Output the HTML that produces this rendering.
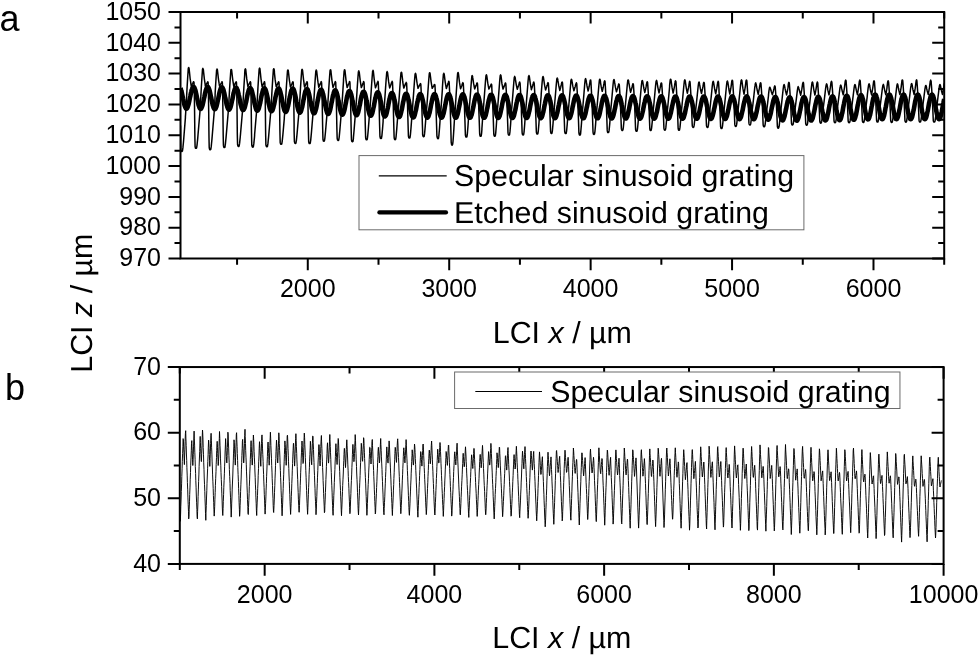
<!DOCTYPE html><html><head><meta charset="utf-8"><style>
html,body{margin:0;padding:0;background:#fff;width:979px;height:656px;overflow:hidden}
svg{display:block} text{font-family:'Liberation Sans', Arial, Helvetica, sans-serif;fill:#000} .tk{font-size:25px} .ti{font-size:30.4px;text-rendering:geometricPrecision} .lg{font-size:30.3px;text-rendering:geometricPrecision} .pl{font-size:36px}
</style></head><body>
<svg width="979" height="656" viewBox="0 0 979 656">
<rect width="979" height="656" fill="#fff"/>
<defs><clipPath id="ca"><rect x="180.5" y="12.0" width="763.7" height="246.5"/></clipPath>
<clipPath id="cb"><rect x="179.8" y="367.05" width="763.8" height="196.84999999999997"/></clipPath></defs>
<g clip-path="url(#ca)" fill="none" stroke="#000" stroke-linejoin="round">
<path d="M180.5,125.4 L180.6,135.1 L180.7,141.2 L180.8,145.9 L180.9,149.6 L181.0,150.0 L181.1,150.3 L181.2,150.7 L181.3,151.1 L181.4,151.2 L181.5,151.3 L181.6,151.3 L181.7,151.4 L181.8,151.4 L181.9,151.4 L182.0,151.3 L182.1,151.2 L182.2,151.2 L182.3,151.1 L182.4,151.0 L182.5,150.6 L182.6,149.9 L182.7,149.2 L182.8,148.5 L182.9,147.9 L183.0,146.8 L183.1,145.8 L183.2,144.7 L183.3,143.7 L183.4,142.7 L183.5,141.6 L183.6,140.5 L183.7,139.2 L183.8,138.0 L183.9,136.7 L184.0,135.4 L184.1,134.2 L184.2,132.9 L184.3,131.7 L184.4,130.4 L184.5,129.2 L184.6,127.9 L184.7,126.7 L184.8,125.4 L184.9,124.2 L185.0,122.9 L185.1,121.6 L185.2,120.4 L185.3,119.1 L185.4,117.9 L185.4,116.7 L185.5,115.4 L185.6,114.2 L185.7,112.8 L185.8,111.0 L185.9,109.3 L186.0,107.5 L186.1,105.8 L186.2,104.0 L186.3,102.2 L186.4,100.5 L186.5,98.7 L186.6,96.8 L186.7,94.9 L186.8,92.9 L186.9,91.0 L187.0,89.1 L187.1,87.2 L187.2,85.6 L187.3,83.9 L187.4,82.3 L187.5,80.6 L187.6,79.0 L187.7,77.4 L187.8,75.8 L187.9,74.3 L188.0,72.7 L188.1,71.2 L188.2,69.6 L188.3,68.3 L188.4,68.1 L188.5,67.9 L188.6,67.7 L188.7,67.5 L188.8,67.7 L188.9,68.0 L189.0,68.2 L189.1,68.5 L189.2,69.5 L189.3,70.5 L189.4,71.5 L189.5,72.4 L189.6,73.4 L189.7,74.4 L189.8,75.3 L189.9,76.3 L190.0,77.3 L190.1,78.3 L190.2,79.0 L190.3,79.6 L190.4,80.3 L190.5,81.0 L190.6,81.7 L190.7,82.4 L190.8,83.1 L190.9,83.8 L191.0,84.5 L191.1,85.2 L191.2,85.9 L191.3,85.8 L191.4,85.6 L191.5,85.5 L191.6,85.3 L191.7,85.1 L191.8,84.9 L191.9,84.7 L192.0,84.6 L192.1,84.4 L192.2,84.2 L192.3,84.0 L192.4,83.8 L192.5,83.7 L192.6,83.5 L192.7,83.4 L192.8,83.2 L192.9,83.1 L193.0,82.9 L193.1,82.8 L193.2,82.6 L193.3,82.4 L193.4,82.2 L193.5,81.9 L193.6,81.7 L193.7,81.8 L193.8,82.0 L193.9,82.2 L194.0,82.5 L194.1,85.2 L194.2,89.3 L194.3,93.4 L194.4,99.1 L194.5,105.7 L194.6,112.5 L194.7,121.8 L194.8,131.1 L194.9,137.7 L195.0,142.2 L195.1,146.6 L195.2,146.9 L195.3,147.2 L195.3,147.6 L195.4,147.9 L195.5,148.1 L195.6,148.2 L195.7,148.2 L195.8,148.3 L195.9,148.3 L196.0,148.3 L196.1,148.3 L196.2,148.2 L196.3,148.2 L196.4,148.1 L196.5,148.1 L196.6,147.8 L196.7,147.2 L196.8,146.6 L196.9,146.0 L197.0,145.3 L197.1,144.4 L197.2,143.5 L197.3,142.5 L197.4,141.5 L197.5,140.6 L197.6,139.6 L197.7,138.6 L197.8,137.4 L197.9,136.2 L198.0,135.0 L198.1,133.8 L198.2,132.6 L198.3,131.4 L198.4,130.3 L198.5,129.1 L198.6,127.9 L198.7,126.7 L198.8,125.5 L198.9,124.3 L199.0,123.1 L199.1,122.0 L199.2,120.8 L199.3,119.6 L199.4,118.4 L199.5,117.2 L199.6,116.0 L199.7,114.8 L199.8,113.7 L199.9,112.4 L200.0,110.8 L200.1,109.1 L200.2,107.4 L200.3,105.7 L200.4,104.0 L200.5,102.3 L200.6,100.6 L200.7,98.9 L200.8,97.1 L200.9,95.2 L201.0,93.4 L201.1,91.5 L201.2,89.7 L201.3,87.8 L201.4,86.2 L201.5,84.6 L201.6,83.0 L201.7,81.4 L201.8,79.9 L201.9,78.3 L202.0,76.7 L202.1,75.2 L202.2,73.7 L202.3,72.2 L202.4,70.7 L202.5,69.3 L202.6,69.0 L202.7,68.8 L202.8,68.6 L202.9,68.4 L203.0,68.6 L203.1,68.8 L203.2,69.1 L203.3,69.3 L203.4,70.2 L203.5,71.1 L203.6,72.1 L203.7,73.0 L203.8,73.9 L203.9,74.8 L204.0,75.8 L204.1,76.7 L204.2,77.6 L204.3,78.5 L204.4,79.3 L204.5,79.9 L204.6,80.6 L204.7,81.3 L204.8,81.9 L204.9,82.6 L205.0,83.3 L205.1,83.9 L205.2,84.6 L205.2,85.3 L205.3,85.9 L205.4,86.0 L205.5,85.8 L205.6,85.6 L205.7,85.4 L205.8,85.3 L205.9,85.1 L206.0,84.9 L206.1,84.7 L206.2,84.5 L206.3,84.3 L206.4,84.1 L206.5,84.0 L206.6,83.8 L206.7,83.6 L206.8,83.5 L206.9,83.3 L207.0,83.1 L207.1,83.0 L207.2,82.8 L207.3,82.6 L207.4,82.4 L207.5,82.2 L207.6,82.0 L207.7,81.8 L207.8,81.7 L207.9,82.0 L208.0,82.2 L208.1,82.4 L208.2,84.4 L208.3,88.6 L208.4,92.8 L208.5,98.1 L208.6,104.8 L208.7,111.6 L208.8,120.7 L208.9,130.2 L209.0,137.8 L209.1,142.4 L209.2,147.0 L209.3,148.1 L209.4,148.4 L209.5,148.8 L209.6,149.2 L209.7,149.5 L209.8,149.6 L209.9,149.7 L210.0,149.7 L210.1,149.8 L210.2,149.8 L210.3,149.8 L210.4,149.7 L210.5,149.6 L210.6,149.5 L210.7,149.5 L210.8,149.3 L210.9,148.6 L211.0,148.0 L211.1,147.3 L211.2,146.7 L211.3,145.8 L211.4,144.8 L211.5,143.8 L211.6,142.8 L211.7,141.8 L211.8,140.8 L211.9,139.8 L212.0,138.6 L212.1,137.4 L212.2,136.2 L212.3,134.9 L212.4,133.7 L212.5,132.5 L212.6,131.3 L212.7,130.1 L212.8,128.9 L212.9,127.7 L213.0,126.5 L213.1,125.3 L213.2,124.1 L213.3,122.9 L213.4,121.7 L213.5,120.5 L213.6,119.3 L213.7,118.0 L213.8,116.8 L213.9,115.6 L214.0,114.4 L214.1,113.2 L214.2,111.6 L214.3,109.9 L214.4,108.2 L214.5,106.5 L214.6,104.8 L214.7,103.1 L214.8,101.5 L214.9,99.8 L215.0,97.9 L215.1,96.1 L215.1,94.2 L215.2,92.4 L215.3,90.5 L215.4,88.7 L215.5,87.0 L215.6,85.4 L215.7,83.8 L215.8,82.3 L215.9,80.7 L216.0,79.1 L216.1,77.6 L216.2,76.1 L216.3,74.6 L216.4,73.1 L216.5,71.6 L216.6,70.1 L216.7,69.7 L216.8,69.5 L216.9,69.3 L217.0,69.0 L217.1,69.2 L217.2,69.4 L217.3,69.6 L217.4,69.9 L217.5,70.6 L217.6,71.5 L217.7,72.4 L217.8,73.3 L217.9,74.2 L218.0,75.1 L218.1,76.0 L218.2,76.9 L218.3,77.8 L218.4,78.7 L218.5,79.5 L218.6,80.1 L218.7,80.8 L218.8,81.4 L218.9,82.1 L219.0,82.7 L219.1,83.4 L219.2,84.0 L219.3,84.7 L219.4,85.3 L219.5,86.0 L219.6,86.2 L219.7,86.0 L219.8,85.8 L219.9,85.6 L220.0,85.4 L220.1,85.2 L220.2,85.0 L220.3,84.8 L220.4,84.6 L220.5,84.5 L220.6,84.3 L220.7,84.1 L220.8,83.9 L220.9,83.7 L221.0,83.5 L221.1,83.4 L221.2,83.2 L221.3,83.0 L221.4,82.8 L221.5,82.7 L221.6,82.5 L221.7,82.3 L221.8,82.0 L221.9,81.8 L222.0,81.7 L222.1,81.9 L222.2,82.2 L222.3,82.4 L222.4,83.6 L222.5,87.7 L222.6,91.8 L222.7,96.4 L222.8,103.0 L222.9,109.5 L223.0,117.9 L223.1,127.0 L223.2,135.3 L223.3,139.8 L223.4,144.2 L223.5,145.9 L223.6,146.3 L223.7,146.6 L223.8,146.9 L223.9,147.3 L224.0,147.3 L224.1,147.4 L224.2,147.4 L224.3,147.5 L224.4,147.5 L224.5,147.5 L224.6,147.4 L224.7,147.3 L224.8,147.2 L224.9,147.2 L225.0,147.1 L225.0,146.4 L225.1,145.8 L225.2,145.2 L225.3,144.6 L225.4,143.8 L225.5,142.9 L225.6,141.9 L225.7,141.0 L225.8,140.0 L225.9,139.0 L226.0,138.1 L226.1,136.9 L226.2,135.8 L226.3,134.6 L226.4,133.4 L226.5,132.3 L226.6,131.1 L226.7,129.9 L226.8,128.8 L226.9,127.6 L227.0,126.4 L227.1,125.3 L227.2,124.1 L227.3,123.0 L227.4,121.8 L227.5,120.6 L227.6,119.5 L227.7,118.3 L227.8,117.1 L227.9,116.0 L228.0,114.8 L228.1,113.7 L228.2,112.5 L228.3,111.0 L228.4,109.4 L228.5,107.7 L228.6,106.1 L228.7,104.5 L228.8,102.8 L228.9,101.2 L229.0,99.5 L229.1,97.8 L229.2,96.0 L229.3,94.2 L229.4,92.4 L229.5,90.6 L229.6,88.8 L229.7,87.1 L229.8,85.6 L229.9,84.1 L230.0,82.5 L230.1,81.0 L230.2,79.4 L230.3,77.9 L230.4,76.5 L230.5,75.1 L230.6,73.6 L230.7,72.2 L230.8,70.7 L230.9,70.1 L231.0,69.9 L231.1,69.6 L231.2,69.4 L231.3,69.4 L231.4,69.7 L231.5,69.9 L231.6,70.1 L231.7,70.7 L231.8,71.6 L231.9,72.5 L232.0,73.4 L232.1,74.3 L232.2,75.2 L232.3,76.1 L232.4,76.9 L232.5,77.8 L232.6,78.7 L232.7,79.5 L232.8,80.2 L232.9,80.8 L233.0,81.5 L233.1,82.1 L233.2,82.7 L233.3,83.4 L233.4,84.0 L233.5,84.7 L233.6,85.4 L233.7,86.0 L233.8,86.3 L233.9,86.2 L234.0,86.0 L234.1,85.8 L234.2,85.6 L234.3,85.4 L234.4,85.2 L234.5,85.0 L234.6,84.8 L234.7,84.6 L234.8,84.4 L234.8,84.2 L234.9,84.0 L235.0,83.8 L235.1,83.6 L235.2,83.4 L235.3,83.3 L235.4,83.1 L235.5,82.9 L235.6,82.7 L235.7,82.5 L235.8,82.3 L235.9,82.1 L236.0,81.8 L236.1,81.7 L236.2,81.9 L236.3,82.1 L236.4,82.4 L236.5,82.9 L236.6,86.9 L236.7,90.8 L236.8,94.9 L236.9,101.4 L237.0,107.8 L237.1,115.6 L237.2,124.6 L237.3,133.6 L237.4,137.9 L237.5,142.3 L237.6,144.7 L237.7,145.1 L237.8,145.4 L237.9,145.8 L238.0,146.1 L238.1,146.2 L238.2,146.3 L238.3,146.3 L238.4,146.4 L238.5,146.5 L238.6,146.5 L238.7,146.4 L238.8,146.4 L238.9,146.3 L239.0,146.2 L239.1,146.2 L239.2,145.7 L239.3,145.1 L239.4,144.5 L239.5,143.9 L239.6,143.2 L239.7,142.3 L239.8,141.3 L239.9,140.4 L240.0,139.4 L240.1,138.5 L240.2,137.5 L240.3,136.5 L240.4,135.3 L240.5,134.2 L240.6,133.0 L240.7,131.8 L240.8,130.7 L240.9,129.5 L241.0,128.4 L241.1,127.2 L241.2,126.1 L241.3,124.9 L241.4,123.8 L241.5,122.6 L241.6,121.5 L241.7,120.3 L241.8,119.2 L241.9,118.0 L242.0,116.9 L242.1,115.7 L242.2,114.6 L242.3,113.4 L242.4,112.2 L242.5,110.9 L242.6,109.2 L242.7,107.6 L242.8,105.9 L242.9,104.3 L243.0,102.7 L243.1,101.0 L243.2,99.4 L243.3,97.7 L243.4,95.9 L243.5,94.1 L243.6,92.3 L243.7,90.5 L243.8,88.7 L243.9,86.9 L244.0,85.4 L244.1,83.9 L244.2,82.3 L244.3,80.8 L244.4,79.2 L244.5,77.7 L244.6,76.2 L244.7,74.8 L244.7,73.3 L244.8,71.9 L244.9,70.4 L245.0,69.5 L245.1,69.3 L245.2,69.1 L245.3,68.8 L245.4,68.8 L245.5,69.0 L245.6,69.2 L245.7,69.5 L245.8,70.0 L245.9,70.9 L246.0,71.8 L246.1,72.8 L246.2,73.7 L246.3,74.6 L246.4,75.6 L246.5,76.5 L246.6,77.4 L246.7,78.4 L246.8,79.2 L246.9,79.9 L247.0,80.6 L247.1,81.3 L247.2,81.9 L247.3,82.6 L247.4,83.3 L247.5,84.0 L247.6,84.6 L247.7,85.3 L247.8,86.0 L247.9,86.5 L248.0,86.3 L248.1,86.1 L248.2,85.9 L248.3,85.7 L248.4,85.5 L248.5,85.3 L248.6,85.1 L248.7,84.9 L248.8,84.7 L248.9,84.5 L249.0,84.3 L249.1,84.1 L249.2,83.9 L249.3,83.7 L249.4,83.5 L249.5,83.3 L249.6,83.1 L249.7,82.9 L249.8,82.8 L249.9,82.6 L250.0,82.3 L250.1,82.1 L250.2,81.9 L250.3,81.7 L250.4,81.9 L250.5,82.1 L250.6,82.3 L250.7,82.5 L250.8,86.2 L250.9,90.2 L251.0,94.2 L251.1,100.3 L251.2,106.8 L251.3,114.2 L251.4,123.2 L251.5,132.3 L251.6,137.6 L251.7,142.0 L251.8,145.2 L251.9,145.6 L252.0,145.9 L252.1,146.3 L252.2,146.6 L252.3,146.8 L252.4,146.8 L252.5,146.9 L252.6,147.0 L252.7,147.0 L252.8,147.1 L252.9,147.0 L253.0,147.0 L253.1,146.9 L253.2,146.8 L253.3,146.8 L253.4,146.3 L253.5,145.7 L253.6,145.1 L253.7,144.5 L253.8,143.9 L253.9,142.9 L254.0,141.9 L254.1,141.0 L254.2,140.0 L254.3,139.1 L254.4,138.1 L254.5,137.0 L254.6,135.8 L254.6,134.7 L254.7,133.5 L254.8,132.3 L254.9,131.2 L255.0,130.0 L255.1,128.8 L255.2,127.6 L255.3,126.5 L255.4,125.3 L255.5,124.1 L255.6,122.9 L255.7,121.8 L255.8,120.6 L255.9,119.4 L256.0,118.3 L256.1,117.1 L256.2,115.9 L256.3,114.7 L256.4,113.6 L256.5,112.4 L256.6,111.1 L256.7,109.4 L256.8,107.7 L256.9,106.1 L257.0,104.4 L257.1,102.8 L257.2,101.1 L257.3,99.4 L257.4,97.7 L257.5,95.9 L257.6,94.1 L257.7,92.3 L257.8,90.4 L257.9,88.6 L258.0,86.8 L258.1,85.3 L258.2,83.7 L258.3,82.1 L258.4,80.6 L258.5,79.0 L258.6,77.4 L258.7,76.0 L258.8,74.5 L258.9,73.0 L259.0,71.6 L259.1,70.1 L259.2,69.0 L259.3,68.7 L259.4,68.5 L259.5,68.3 L259.6,68.1 L259.7,68.4 L259.8,68.6 L259.9,68.8 L260.0,69.2 L260.1,70.2 L260.2,71.2 L260.3,72.2 L260.4,73.1 L260.5,74.1 L260.6,75.1 L260.7,76.1 L260.8,77.1 L260.9,78.0 L261.0,79.0 L261.1,79.7 L261.2,80.4 L261.3,81.1 L261.4,81.8 L261.5,82.5 L261.6,83.2 L261.7,83.9 L261.8,84.6 L261.9,85.3 L262.0,86.0 L262.1,86.7 L262.2,86.5 L262.3,86.3 L262.4,86.1 L262.5,85.9 L262.6,85.7 L262.7,85.5 L262.8,85.3 L262.9,85.0 L263.0,84.8 L263.1,84.6 L263.2,84.4 L263.3,84.2 L263.4,84.0 L263.5,83.8 L263.6,83.6 L263.7,83.4 L263.8,83.2 L263.9,83.0 L264.0,82.8 L264.1,82.6 L264.2,82.4 L264.3,82.2 L264.4,81.9 L264.5,81.7 L264.5,81.8 L264.6,82.0 L264.7,82.3 L264.8,82.5 L264.9,85.4 L265.0,89.4 L265.1,93.4 L265.2,99.1 L265.3,105.5 L265.4,112.4 L265.5,121.4 L265.6,130.3 L265.7,136.5 L265.8,140.8 L265.9,144.9 L266.0,145.2 L266.1,145.6 L266.2,145.9 L266.3,146.3 L266.4,146.5 L266.5,146.5 L266.6,146.6 L266.7,146.7 L266.8,146.7 L266.9,146.8 L267.0,146.7 L267.1,146.7 L267.2,146.6 L267.3,146.5 L267.4,146.4 L267.5,146.1 L267.6,145.5 L267.7,144.9 L267.8,144.3 L267.9,143.7 L268.0,142.8 L268.1,141.8 L268.2,140.8 L268.3,139.8 L268.4,138.9 L268.5,137.9 L268.6,136.9 L268.7,135.7 L268.8,134.5 L268.9,133.4 L269.0,132.2 L269.1,131.0 L269.2,129.8 L269.3,128.7 L269.4,127.5 L269.5,126.3 L269.6,125.1 L269.7,124.0 L269.8,122.8 L269.9,121.6 L270.0,120.4 L270.1,119.3 L270.2,118.1 L270.3,116.9 L270.4,115.8 L270.5,114.6 L270.6,113.4 L270.7,112.2 L270.8,111.1 L270.9,109.4 L271.0,107.8 L271.1,106.1 L271.2,104.5 L271.3,102.9 L271.4,101.2 L271.5,99.6 L271.6,98.0 L271.7,96.2 L271.8,94.4 L271.9,92.6 L272.0,90.8 L272.1,89.0 L272.2,87.3 L272.3,85.7 L272.4,84.2 L272.5,82.6 L272.6,81.1 L272.7,79.6 L272.8,78.0 L272.9,76.6 L273.0,75.2 L273.1,73.7 L273.2,72.3 L273.3,70.9 L273.4,69.6 L273.5,69.4 L273.6,69.1 L273.7,68.9 L273.8,68.7 L273.9,69.0 L274.0,69.2 L274.1,69.4 L274.2,69.7 L274.3,70.6 L274.4,71.6 L274.4,72.5 L274.5,73.5 L274.6,74.5 L274.7,75.4 L274.8,76.4 L274.9,77.3 L275.0,78.3 L275.1,79.2 L275.2,79.9 L275.3,80.6 L275.4,81.3 L275.5,82.0 L275.6,82.6 L275.7,83.3 L275.8,84.0 L275.9,84.7 L276.0,85.4 L276.1,86.1 L276.2,86.7 L276.3,86.7 L276.4,86.5 L276.5,86.3 L276.6,86.0 L276.7,85.8 L276.8,85.6 L276.9,85.4 L277.0,85.2 L277.1,85.0 L277.2,84.8 L277.3,84.5 L277.4,84.3 L277.5,84.1 L277.6,83.9 L277.7,83.7 L277.8,83.5 L277.9,83.3 L278.0,83.1 L278.1,82.9 L278.2,82.6 L278.3,82.4 L278.4,82.2 L278.5,82.0 L278.6,81.7 L278.7,81.8 L278.8,82.0 L278.9,82.2 L279.0,82.5 L279.1,84.5 L279.2,88.2 L279.3,91.8 L279.4,96.2 L279.5,101.9 L279.6,107.5 L279.7,114.5 L279.8,122.3 L279.9,130.2 L280.0,134.9 L280.1,139.1 L280.2,142.6 L280.3,143.0 L280.4,143.3 L280.5,143.6 L280.6,143.9 L280.7,144.1 L280.8,144.1 L280.9,144.2 L281.0,144.2 L281.1,144.3 L281.2,144.3 L281.3,144.3 L281.4,144.2 L281.5,144.1 L281.6,144.0 L281.7,144.0 L281.8,143.7 L281.9,143.1 L282.0,142.5 L282.1,141.9 L282.2,141.3 L282.3,140.3 L282.4,139.4 L282.5,138.4 L282.6,137.5 L282.7,136.5 L282.8,135.6 L282.9,134.5 L283.0,133.4 L283.1,132.3 L283.2,131.1 L283.3,130.0 L283.4,128.8 L283.5,127.7 L283.6,126.5 L283.7,125.4 L283.8,124.2 L283.9,123.1 L284.0,122.0 L284.1,120.8 L284.2,119.7 L284.3,118.5 L284.3,117.4 L284.4,116.3 L284.5,115.1 L284.6,114.0 L284.7,112.9 L284.8,111.7 L284.9,110.6 L285.0,109.2 L285.1,107.6 L285.2,106.0 L285.3,104.5 L285.4,102.9 L285.5,101.3 L285.6,99.8 L285.7,98.2 L285.8,96.6 L285.9,94.9 L286.0,93.2 L286.1,91.5 L286.2,89.8 L286.3,88.1 L286.4,86.5 L286.5,85.0 L286.6,83.6 L286.7,82.1 L286.8,80.6 L286.9,79.1 L287.0,77.7 L287.1,76.4 L287.2,75.0 L287.3,73.6 L287.4,72.3 L287.5,70.9 L287.6,70.6 L287.7,70.4 L287.8,70.2 L287.9,69.9 L288.0,70.1 L288.1,70.4 L288.2,70.6 L288.3,70.8 L288.4,71.6 L288.5,72.5 L288.6,73.3 L288.7,74.2 L288.8,75.1 L288.9,76.0 L289.0,76.9 L289.1,77.8 L289.2,78.7 L289.3,79.6 L289.4,80.3 L289.5,80.9 L289.6,81.6 L289.7,82.2 L289.8,82.9 L289.9,83.5 L290.0,84.2 L290.1,84.8 L290.2,85.5 L290.3,86.1 L290.4,86.8 L290.5,86.9 L290.6,86.6 L290.7,86.4 L290.8,86.2 L290.9,86.0 L291.0,85.8 L291.1,85.5 L291.2,85.3 L291.3,85.1 L291.4,84.9 L291.5,84.7 L291.6,84.4 L291.7,84.2 L291.8,84.0 L291.9,83.8 L292.0,83.6 L292.1,83.3 L292.2,83.1 L292.3,82.9 L292.4,82.7 L292.5,82.5 L292.6,82.2 L292.7,82.0 L292.8,81.8 L292.9,81.7 L293.0,82.0 L293.1,82.2 L293.2,82.4 L293.3,83.7 L293.4,87.2 L293.5,90.6 L293.6,94.1 L293.7,99.1 L293.8,104.2 L293.9,109.3 L294.0,116.4 L294.1,123.4 L294.1,130.4 L294.2,134.4 L294.3,138.4 L294.4,141.6 L294.5,141.9 L294.6,142.3 L294.7,142.6 L294.8,143.0 L294.9,143.1 L295.0,143.2 L295.1,143.2 L295.2,143.3 L295.3,143.4 L295.4,143.4 L295.5,143.3 L295.6,143.3 L295.7,143.2 L295.8,143.2 L295.9,143.1 L296.0,142.7 L296.1,142.1 L296.2,141.5 L296.3,140.9 L296.4,140.3 L296.5,139.4 L296.6,138.4 L296.7,137.4 L296.8,136.4 L296.9,135.5 L297.0,134.5 L297.1,133.4 L297.2,132.3 L297.3,131.1 L297.4,130.0 L297.5,128.8 L297.6,127.6 L297.7,126.5 L297.8,125.3 L297.9,124.2 L298.0,123.0 L298.1,121.8 L298.2,120.7 L298.3,119.5 L298.4,118.4 L298.5,117.2 L298.6,116.1 L298.7,114.9 L298.8,113.8 L298.9,112.6 L299.0,111.5 L299.1,110.3 L299.2,109.1 L299.3,107.5 L299.4,105.9 L299.5,104.4 L299.6,102.8 L299.7,101.3 L299.8,99.7 L299.9,98.1 L300.0,96.5 L300.1,94.8 L300.2,93.1 L300.3,91.4 L300.4,89.7 L300.5,88.1 L300.6,86.4 L300.7,84.9 L300.8,83.4 L300.9,81.9 L301.0,80.4 L301.1,78.9 L301.2,77.5 L301.3,76.1 L301.4,74.8 L301.5,73.4 L301.6,72.0 L301.7,70.6 L301.8,70.1 L301.9,69.9 L302.0,69.6 L302.1,69.4 L302.2,69.5 L302.3,69.7 L302.4,69.9 L302.5,70.2 L302.6,70.9 L302.7,71.8 L302.8,72.7 L302.9,73.7 L303.0,74.6 L303.1,75.5 L303.2,76.5 L303.3,77.4 L303.4,78.3 L303.5,79.3 L303.6,80.0 L303.7,80.7 L303.8,81.4 L303.9,82.1 L304.0,82.7 L304.0,83.4 L304.1,84.1 L304.2,84.8 L304.3,85.4 L304.4,86.1 L304.5,86.8 L304.6,87.1 L304.7,86.8 L304.8,86.6 L304.9,86.4 L305.0,86.1 L305.1,85.9 L305.2,85.7 L305.3,85.5 L305.4,85.2 L305.5,85.0 L305.6,84.8 L305.7,84.6 L305.8,84.3 L305.9,84.1 L306.0,83.9 L306.1,83.6 L306.2,83.4 L306.3,83.2 L306.4,83.0 L306.5,82.7 L306.6,82.5 L306.7,82.3 L306.8,82.0 L306.9,81.8 L307.0,81.7 L307.1,81.9 L307.2,82.1 L307.3,82.4 L307.4,83.1 L307.5,86.4 L307.6,89.6 L307.7,92.9 L307.8,97.2 L307.9,101.9 L308.0,106.5 L308.1,112.1 L308.2,118.6 L308.3,125.1 L308.4,131.0 L308.5,134.9 L308.6,138.9 L308.7,141.8 L308.8,142.2 L308.9,142.6 L309.0,142.9 L309.1,143.3 L309.2,143.4 L309.3,143.4 L309.4,143.5 L309.5,143.5 L309.6,143.6 L309.7,143.6 L309.8,143.5 L309.9,143.4 L310.0,143.4 L310.1,143.3 L310.2,143.2 L310.3,142.8 L310.4,142.1 L310.5,141.5 L310.6,140.9 L310.7,140.2 L310.8,139.1 L310.9,138.1 L311.0,137.1 L311.1,136.1 L311.2,135.0 L311.3,134.0 L311.4,132.9 L311.5,131.7 L311.6,130.5 L311.7,129.3 L311.8,128.1 L311.9,126.9 L312.0,125.7 L312.1,124.5 L312.2,123.3 L312.3,122.1 L312.4,120.9 L312.5,119.8 L312.6,118.6 L312.7,117.4 L312.8,116.2 L312.9,115.1 L313.0,113.9 L313.1,112.7 L313.2,111.6 L313.3,110.4 L313.4,109.2 L313.5,107.7 L313.6,106.2 L313.7,104.6 L313.8,103.1 L313.9,101.5 L313.9,100.0 L314.0,98.4 L314.1,96.9 L314.2,95.2 L314.3,93.6 L314.4,91.9 L314.5,90.2 L314.6,88.6 L314.7,86.9 L314.8,85.5 L314.9,84.0 L315.0,82.5 L315.1,81.0 L315.2,79.6 L315.3,78.1 L315.4,76.8 L315.5,75.4 L315.6,74.1 L315.7,72.8 L315.8,71.4 L315.9,70.7 L316.0,70.5 L316.1,70.3 L316.2,70.0 L316.3,70.0 L316.4,70.3 L316.5,70.5 L316.6,70.7 L316.7,71.3 L316.8,72.2 L316.9,73.1 L317.0,74.0 L317.1,74.9 L317.2,75.8 L317.3,76.7 L317.4,77.6 L317.5,78.5 L317.6,79.4 L317.7,80.2 L317.8,80.9 L317.9,81.5 L318.0,82.2 L318.1,82.9 L318.2,83.5 L318.3,84.2 L318.4,84.8 L318.5,85.5 L318.6,86.2 L318.7,86.8 L318.8,87.2 L318.9,87.0 L319.0,86.8 L319.1,86.5 L319.2,86.3 L319.3,86.1 L319.4,85.8 L319.5,85.6 L319.6,85.4 L319.7,85.1 L319.8,84.9 L319.9,84.7 L320.0,84.4 L320.1,84.2 L320.2,83.9 L320.3,83.7 L320.4,83.5 L320.5,83.2 L320.6,83.0 L320.7,82.7 L320.8,82.5 L320.9,82.3 L321.0,82.0 L321.1,81.8 L321.2,81.6 L321.3,81.8 L321.4,82.0 L321.5,82.3 L321.6,82.5 L321.7,85.4 L321.8,88.5 L321.9,91.5 L322.0,95.0 L322.1,99.1 L322.2,103.3 L322.3,107.5 L322.4,113.1 L322.5,118.9 L322.6,124.7 L322.7,129.5 L322.8,133.3 L322.9,137.1 L323.0,139.6 L323.1,139.9 L323.2,140.3 L323.3,140.6 L323.4,141.0 L323.5,141.0 L323.6,141.1 L323.7,141.1 L323.8,141.2 L323.8,141.2 L323.9,141.3 L324.0,141.2 L324.1,141.1 L324.2,141.0 L324.3,141.0 L324.4,140.9 L324.5,140.4 L324.6,139.8 L324.7,139.2 L324.8,138.6 L324.9,137.8 L325.0,136.8 L325.1,135.8 L325.2,134.8 L325.3,133.7 L325.4,132.7 L325.5,131.7 L325.6,130.5 L325.7,129.3 L325.8,128.2 L325.9,127.0 L326.0,125.8 L326.1,124.6 L326.2,123.4 L326.3,122.2 L326.4,121.1 L326.5,119.9 L326.6,118.7 L326.7,117.5 L326.8,116.4 L326.9,115.2 L327.0,114.1 L327.1,112.9 L327.2,111.7 L327.3,110.6 L327.4,109.4 L327.5,108.3 L327.6,106.9 L327.7,105.4 L327.8,103.9 L327.9,102.4 L328.0,100.9 L328.1,99.4 L328.2,97.9 L328.3,96.4 L328.4,94.8 L328.5,93.2 L328.6,91.6 L328.7,89.9 L328.8,88.3 L328.9,86.7 L329.0,85.2 L329.1,83.8 L329.2,82.3 L329.3,80.9 L329.4,79.4 L329.5,78.0 L329.6,76.6 L329.7,75.3 L329.8,74.0 L329.9,72.7 L330.0,71.4 L330.1,70.5 L330.2,70.2 L330.3,70.0 L330.4,69.8 L330.5,69.7 L330.6,69.9 L330.7,70.2 L330.8,70.4 L330.9,70.8 L331.0,71.7 L331.1,72.7 L331.2,73.6 L331.3,74.5 L331.4,75.5 L331.5,76.4 L331.6,77.3 L331.7,78.3 L331.8,79.2 L331.9,80.1 L332.0,80.8 L332.1,81.4 L332.2,82.1 L332.3,82.8 L332.4,83.4 L332.5,84.1 L332.6,84.8 L332.7,85.5 L332.8,86.1 L332.9,86.8 L333.0,87.4 L333.1,87.2 L333.2,86.9 L333.3,86.7 L333.4,86.5 L333.5,86.2 L333.6,86.0 L333.7,85.7 L333.7,85.5 L333.8,85.2 L333.9,85.0 L334.0,84.8 L334.1,84.5 L334.2,84.3 L334.3,84.0 L334.4,83.8 L334.5,83.5 L334.6,83.3 L334.7,83.0 L334.8,82.7 L334.9,82.5 L335.0,82.3 L335.1,82.0 L335.2,81.8 L335.3,81.6 L335.4,81.7 L335.5,82.0 L335.6,82.2 L335.7,82.4 L335.8,84.7 L335.9,87.5 L336.0,90.3 L336.1,93.2 L336.2,97.0 L336.3,100.8 L336.4,104.6 L336.5,109.0 L336.6,114.2 L336.7,119.5 L336.8,124.7 L336.9,129.0 L337.0,132.6 L337.1,136.3 L337.2,138.5 L337.3,138.9 L337.4,139.3 L337.5,139.7 L337.6,140.0 L337.7,140.1 L337.8,140.2 L337.9,140.3 L338.0,140.3 L338.1,140.4 L338.2,140.4 L338.3,140.4 L338.4,140.3 L338.5,140.3 L338.6,140.2 L338.7,140.2 L338.8,139.6 L338.9,139.0 L339.0,138.4 L339.1,137.8 L339.2,137.0 L339.3,136.0 L339.4,134.9 L339.5,133.9 L339.6,132.9 L339.7,131.8 L339.8,130.8 L339.9,129.6 L340.0,128.4 L340.1,127.2 L340.2,126.0 L340.3,124.8 L340.4,123.6 L340.5,122.4 L340.6,121.2 L340.7,120.0 L340.8,118.8 L340.9,117.7 L341.0,116.5 L341.1,115.3 L341.2,114.2 L341.3,113.0 L341.4,111.8 L341.5,110.6 L341.6,109.5 L341.7,108.3 L341.8,107.1 L341.9,105.6 L342.0,104.1 L342.1,102.6 L342.2,101.1 L342.3,99.6 L342.4,98.1 L342.5,96.6 L342.6,95.1 L342.7,93.5 L342.8,91.9 L342.9,90.3 L343.0,88.7 L343.1,87.1 L343.2,85.5 L343.3,84.1 L343.4,82.6 L343.5,81.1 L343.5,79.7 L343.6,78.2 L343.7,76.9 L343.8,75.5 L343.9,74.2 L344.0,72.9 L344.1,71.6 L344.2,70.5 L344.3,70.3 L344.4,70.0 L344.5,69.8 L344.6,69.7 L344.7,69.9 L344.8,70.1 L344.9,70.4 L345.0,70.7 L345.1,71.6 L345.2,72.6 L345.3,73.5 L345.4,74.5 L345.5,75.4 L345.6,76.3 L345.7,77.3 L345.8,78.2 L345.9,79.2 L346.0,80.1 L346.1,80.8 L346.2,81.4 L346.3,82.1 L346.4,82.8 L346.5,83.5 L346.6,84.2 L346.7,84.8 L346.8,85.5 L346.9,86.2 L347.0,86.8 L347.1,87.5 L347.2,87.4 L347.3,87.1 L347.4,86.9 L347.5,86.6 L347.6,86.4 L347.7,86.1 L347.8,85.9 L347.9,85.6 L348.0,85.4 L348.1,85.1 L348.2,84.9 L348.3,84.6 L348.4,84.3 L348.5,84.1 L348.6,83.8 L348.7,83.6 L348.8,83.3 L348.9,83.0 L349.0,82.8 L349.1,82.5 L349.2,82.3 L349.3,82.0 L349.4,81.8 L349.5,81.6 L349.6,81.6 L349.7,81.9 L349.8,82.1 L349.9,82.3 L350.0,84.1 L350.1,86.9 L350.2,89.6 L350.3,92.4 L350.4,95.8 L350.5,99.5 L350.6,103.1 L350.7,106.7 L350.8,111.5 L350.9,116.5 L351.0,121.6 L351.1,126.6 L351.2,130.5 L351.3,134.2 L351.4,137.9 L351.5,140.0 L351.6,140.3 L351.7,140.7 L351.8,141.1 L351.9,141.4 L352.0,141.5 L352.1,141.5 L352.2,141.6 L352.3,141.6 L352.4,141.7 L352.5,141.7 L352.6,141.6 L352.7,141.5 L352.8,141.4 L352.9,141.3 L353.0,141.3 L353.1,140.6 L353.2,140.0 L353.3,139.3 L353.4,138.7 L353.4,137.8 L353.5,136.7 L353.6,135.6 L353.7,134.5 L353.8,133.4 L353.9,132.3 L354.0,131.2 L354.1,129.9 L354.2,128.7 L354.3,127.4 L354.4,126.2 L354.5,124.9 L354.6,123.7 L354.7,122.4 L354.8,121.2 L354.9,119.9 L355.0,118.7 L355.1,117.5 L355.2,116.3 L355.3,115.1 L355.4,113.9 L355.5,112.7 L355.6,111.5 L355.7,110.4 L355.8,109.2 L355.9,108.0 L356.0,106.6 L356.1,105.1 L356.2,103.6 L356.3,102.1 L356.4,100.6 L356.5,99.1 L356.6,97.6 L356.7,96.1 L356.8,94.5 L356.9,93.0 L357.0,91.4 L357.1,89.8 L357.2,88.2 L357.3,86.7 L357.4,85.2 L357.5,83.8 L357.6,82.3 L357.7,80.9 L357.8,79.5 L357.9,78.1 L358.0,76.8 L358.1,75.5 L358.2,74.3 L358.3,73.0 L358.4,71.7 L358.5,71.5 L358.6,71.3 L358.7,71.0 L358.8,70.8 L358.9,71.0 L359.0,71.3 L359.1,71.5 L359.2,71.8 L359.3,72.6 L359.4,73.5 L359.5,74.3 L359.6,75.2 L359.7,76.1 L359.8,77.0 L359.9,77.8 L360.0,78.7 L360.1,79.6 L360.2,80.5 L360.3,81.1 L360.4,81.8 L360.5,82.4 L360.6,83.1 L360.7,83.7 L360.8,84.3 L360.9,85.0 L361.0,85.6 L361.1,86.3 L361.2,86.9 L361.3,87.6 L361.4,87.6 L361.5,87.3 L361.6,87.0 L361.7,86.8 L361.8,86.5 L361.9,86.3 L362.0,86.0 L362.1,85.7 L362.2,85.5 L362.3,85.2 L362.4,85.0 L362.5,84.7 L362.6,84.4 L362.7,84.2 L362.8,83.9 L362.9,83.6 L363.0,83.3 L363.1,83.1 L363.2,82.8 L363.3,82.5 L363.3,82.2 L363.4,82.0 L363.5,81.8 L363.6,81.6 L363.7,81.5 L363.8,81.8 L363.9,82.0 L364.0,82.2 L364.1,83.4 L364.2,86.0 L364.3,88.6 L364.4,91.2 L364.5,94.1 L364.6,97.4 L364.7,100.7 L364.8,104.0 L364.9,107.6 L365.0,112.2 L365.1,116.7 L365.2,121.2 L365.3,125.7 L365.4,129.3 L365.5,132.8 L365.6,136.4 L365.7,138.1 L365.8,138.5 L365.9,138.9 L366.0,139.3 L366.1,139.6 L366.2,139.6 L366.3,139.7 L366.4,139.7 L366.5,139.8 L366.6,139.8 L366.7,139.8 L366.8,139.7 L366.9,139.7 L367.0,139.6 L367.1,139.5 L367.2,139.4 L367.3,138.8 L367.4,138.1 L367.5,137.5 L367.6,136.8 L367.7,135.8 L367.8,134.8 L367.9,133.7 L368.0,132.6 L368.1,131.5 L368.2,130.4 L368.3,129.2 L368.4,128.0 L368.5,126.7 L368.6,125.4 L368.7,124.2 L368.8,122.9 L368.9,121.7 L369.0,120.4 L369.1,119.2 L369.2,117.9 L369.3,116.7 L369.4,115.5 L369.5,114.3 L369.6,113.1 L369.7,111.9 L369.8,110.7 L369.9,109.5 L370.0,108.3 L370.1,107.2 L370.2,105.9 L370.3,104.4 L370.4,102.9 L370.5,101.5 L370.6,100.0 L370.7,98.5 L370.8,97.1 L370.9,95.6 L371.0,94.1 L371.1,92.5 L371.2,91.0 L371.3,89.4 L371.4,87.9 L371.5,86.4 L371.6,84.9 L371.7,83.5 L371.8,82.0 L371.9,80.6 L372.0,79.2 L372.1,77.7 L372.2,76.5 L372.3,75.2 L372.4,74.0 L372.5,72.7 L372.6,71.4 L372.7,71.0 L372.8,70.8 L372.9,70.5 L373.0,70.3 L373.1,70.4 L373.2,70.7 L373.2,70.9 L373.3,71.1 L373.4,71.8 L373.5,72.8 L373.6,73.7 L373.7,74.6 L373.8,75.5 L373.9,76.5 L374.0,77.4 L374.1,78.3 L374.2,79.2 L374.3,80.2 L374.4,80.9 L374.5,81.6 L374.6,82.3 L374.7,82.9 L374.8,83.6 L374.9,84.3 L375.0,84.9 L375.1,85.6 L375.2,86.2 L375.3,86.9 L375.4,87.6 L375.5,87.8 L375.6,87.5 L375.7,87.2 L375.8,86.9 L375.9,86.7 L376.0,86.4 L376.1,86.1 L376.2,85.9 L376.3,85.6 L376.4,85.3 L376.5,85.1 L376.6,84.8 L376.7,84.5 L376.8,84.2 L376.9,84.0 L377.0,83.7 L377.1,83.4 L377.2,83.1 L377.3,82.8 L377.4,82.5 L377.5,82.2 L377.6,82.0 L377.7,81.8 L377.8,81.5 L377.9,81.4 L378.0,81.7 L378.1,81.9 L378.2,82.1 L378.3,82.9 L378.4,85.3 L378.5,87.7 L378.6,90.1 L378.7,92.6 L378.8,95.6 L378.9,98.6 L379.0,101.7 L379.1,104.7 L379.2,108.5 L379.3,112.7 L379.4,116.8 L379.5,121.0 L379.6,124.9 L379.7,128.3 L379.8,131.8 L379.9,135.2 L380.0,136.7 L380.1,137.1 L380.2,137.5 L380.3,137.9 L380.4,138.2 L380.5,138.2 L380.6,138.3 L380.7,138.4 L380.8,138.5 L380.9,138.5 L381.0,138.5 L381.1,138.5 L381.2,138.4 L381.3,138.3 L381.4,138.3 L381.5,138.1 L381.6,137.5 L381.7,136.9 L381.8,136.3 L381.9,135.6 L382.0,134.6 L382.1,133.5 L382.2,132.4 L382.3,131.4 L382.4,130.3 L382.5,129.2 L382.6,128.0 L382.7,126.7 L382.8,125.5 L382.9,124.2 L383.0,123.0 L383.1,121.7 L383.1,120.5 L383.2,119.2 L383.3,118.0 L383.4,116.8 L383.5,115.6 L383.6,114.4 L383.7,113.2 L383.8,112.1 L383.9,110.9 L384.0,109.7 L384.1,108.6 L384.2,107.4 L384.3,106.2 L384.4,104.8 L384.5,103.4 L384.6,102.0 L384.7,100.5 L384.8,99.1 L384.9,97.7 L385.0,96.3 L385.1,94.8 L385.2,93.3 L385.3,91.8 L385.4,90.4 L385.5,88.9 L385.6,87.4 L385.7,85.9 L385.8,84.5 L385.9,83.1 L386.0,81.7 L386.1,80.3 L386.2,78.9 L386.3,77.7 L386.4,76.5 L386.5,75.2 L386.6,74.0 L386.7,72.8 L386.8,72.2 L386.9,72.0 L387.0,71.8 L387.1,71.5 L387.2,71.6 L387.3,71.8 L387.4,72.1 L387.5,72.3 L387.6,72.9 L387.7,73.7 L387.8,74.6 L387.9,75.5 L388.0,76.3 L388.1,77.2 L388.2,78.0 L388.3,78.9 L388.4,79.8 L388.5,80.6 L388.6,81.4 L388.7,82.0 L388.8,82.6 L388.9,83.3 L389.0,83.9 L389.1,84.5 L389.2,85.1 L389.3,85.8 L389.4,86.4 L389.5,87.0 L389.6,87.6 L389.7,87.9 L389.8,87.7 L389.9,87.4 L390.0,87.1 L390.1,86.8 L390.2,86.6 L390.3,86.3 L390.4,86.0 L390.5,85.7 L390.6,85.5 L390.7,85.2 L390.8,84.9 L390.9,84.6 L391.0,84.3 L391.1,84.0 L391.2,83.7 L391.3,83.4 L391.4,83.1 L391.5,82.8 L391.6,82.5 L391.7,82.2 L391.8,82.0 L391.9,81.8 L392.0,81.5 L392.1,81.4 L392.2,81.6 L392.3,81.8 L392.4,82.1 L392.5,82.4 L392.6,84.8 L392.7,87.1 L392.8,89.5 L392.9,91.9 L393.0,94.7 L393.0,97.6 L393.1,100.5 L393.2,103.4 L393.3,106.4 L393.4,110.4 L393.5,114.4 L393.6,118.4 L393.7,122.3 L393.8,126.1 L393.9,129.6 L394.0,133.0 L394.1,136.5 L394.2,137.8 L394.3,138.3 L394.4,138.7 L394.5,139.1 L394.6,139.3 L394.7,139.4 L394.8,139.5 L394.9,139.6 L395.0,139.6 L395.1,139.7 L395.2,139.6 L395.3,139.6 L395.4,139.5 L395.5,139.4 L395.6,139.3 L395.7,139.1 L395.8,138.4 L395.9,137.8 L396.0,137.1 L396.1,136.5 L396.2,135.3 L396.3,134.2 L396.4,133.0 L396.5,131.9 L396.6,130.8 L396.7,129.6 L396.8,128.4 L396.9,127.0 L397.0,125.7 L397.1,124.4 L397.2,123.1 L397.3,121.8 L397.4,120.5 L397.5,119.2 L397.6,117.9 L397.7,116.7 L397.8,115.5 L397.9,114.3 L398.0,113.1 L398.1,111.8 L398.2,110.6 L398.3,109.4 L398.4,108.2 L398.5,107.0 L398.6,105.7 L398.7,104.3 L398.8,102.8 L398.9,101.4 L399.0,100.0 L399.1,98.6 L399.2,97.1 L399.3,95.7 L399.4,94.2 L399.5,92.7 L399.6,91.3 L399.7,89.8 L399.8,88.3 L399.9,86.8 L400.0,85.4 L400.1,84.0 L400.2,82.6 L400.3,81.2 L400.4,79.8 L400.5,78.5 L400.6,77.3 L400.7,76.1 L400.8,74.9 L400.9,73.7 L401.0,72.9 L401.1,72.7 L401.2,72.5 L401.3,72.2 L401.4,72.2 L401.5,72.4 L401.6,72.7 L401.7,72.9 L401.8,73.4 L401.9,74.2 L402.0,75.0 L402.1,75.9 L402.2,76.7 L402.3,77.5 L402.4,78.4 L402.5,79.2 L402.6,80.0 L402.7,80.9 L402.8,81.6 L402.8,82.2 L402.9,82.8 L403.0,83.5 L403.1,84.1 L403.2,84.7 L403.3,85.3 L403.4,85.9 L403.5,86.5 L403.6,87.1 L403.7,87.7 L403.8,88.1 L403.9,87.9 L404.0,87.7 L404.1,87.4 L404.2,87.2 L404.3,86.9 L404.4,86.7 L404.5,86.4 L404.6,86.2 L404.7,85.9 L404.8,85.7 L404.9,85.4 L405.0,85.2 L405.1,84.9 L405.2,84.7 L405.3,84.4 L405.4,84.2 L405.5,83.9 L405.6,83.7 L405.7,83.4 L405.8,83.2 L405.9,83.0 L406.0,82.8 L406.1,82.5 L406.2,82.3 L406.3,82.5 L406.4,82.8 L406.5,83.0 L406.6,83.2 L406.7,85.2 L406.8,87.3 L406.9,89.5 L407.0,91.7 L407.1,94.1 L407.2,96.7 L407.3,99.4 L407.4,102.0 L407.5,104.6 L407.6,107.8 L407.7,111.4 L407.8,115.0 L407.9,118.6 L408.0,122.2 L408.1,125.6 L408.2,128.9 L408.3,132.1 L408.4,135.4 L408.5,136.5 L408.6,136.9 L408.7,137.3 L408.8,137.7 L408.9,137.9 L409.0,137.9 L409.1,138.0 L409.2,138.0 L409.3,138.1 L409.4,138.1 L409.5,138.1 L409.6,138.0 L409.7,137.9 L409.8,137.8 L409.9,137.8 L410.0,137.5 L410.1,136.8 L410.2,136.2 L410.3,135.5 L410.4,134.8 L410.5,133.7 L410.6,132.6 L410.7,131.4 L410.8,130.3 L410.9,129.2 L411.0,128.0 L411.1,126.7 L411.2,125.4 L411.3,124.1 L411.4,122.8 L411.5,121.5 L411.6,120.2 L411.7,118.9 L411.8,117.6 L411.9,116.4 L412.0,115.2 L412.1,114.0 L412.2,112.8 L412.3,111.7 L412.4,110.5 L412.5,109.3 L412.6,108.1 L412.7,107.0 L412.7,105.7 L412.8,104.4 L412.9,103.0 L413.0,101.6 L413.1,100.3 L413.2,98.9 L413.3,97.5 L413.4,96.2 L413.5,94.8 L413.6,93.4 L413.7,91.9 L413.8,90.5 L413.9,89.1 L414.0,87.7 L414.1,86.3 L414.2,85.0 L414.3,83.6 L414.4,82.3 L414.5,80.9 L414.6,79.7 L414.7,78.5 L414.8,77.4 L414.9,76.2 L415.0,75.1 L415.1,74.2 L415.2,73.9 L415.3,73.7 L415.4,73.5 L415.5,73.4 L415.6,73.6 L415.7,73.8 L415.8,74.0 L415.9,74.4 L416.0,75.1 L416.1,75.9 L416.2,76.7 L416.3,77.4 L416.4,78.2 L416.5,79.0 L416.6,79.7 L416.7,80.5 L416.8,81.3 L416.9,82.0 L417.0,82.6 L417.1,83.2 L417.2,83.7 L417.3,84.3 L417.4,84.9 L417.5,85.5 L417.6,86.0 L417.7,86.6 L417.8,87.2 L417.9,87.7 L418.0,88.3 L418.1,88.1 L418.2,87.9 L418.3,87.7 L418.4,87.5 L418.5,87.3 L418.6,87.1 L418.7,86.9 L418.8,86.7 L418.9,86.5 L419.0,86.3 L419.1,86.1 L419.2,85.9 L419.3,85.7 L419.4,85.5 L419.5,85.4 L419.6,85.2 L419.7,85.0 L419.8,84.8 L419.9,84.6 L420.0,84.5 L420.1,84.2 L420.2,84.0 L420.3,83.8 L420.4,83.6 L420.5,83.7 L420.6,83.9 L420.7,84.2 L420.8,84.4 L420.9,85.8 L421.0,87.8 L421.1,89.8 L421.2,91.8 L421.3,93.8 L421.4,96.2 L421.5,98.6 L421.6,100.9 L421.7,103.3 L421.8,105.7 L421.9,108.9 L422.0,112.1 L422.1,115.4 L422.2,118.6 L422.3,121.8 L422.4,124.9 L422.5,128.0 L422.6,131.1 L422.6,134.2 L422.7,135.0 L422.8,135.4 L422.9,135.8 L423.0,136.1 L423.1,136.3 L423.2,136.4 L423.3,136.5 L423.4,136.6 L423.5,136.6 L423.6,136.7 L423.7,136.6 L423.8,136.6 L423.9,136.5 L424.0,136.5 L424.1,136.4 L424.2,136.1 L424.3,135.5 L424.4,134.8 L424.5,134.2 L424.6,133.4 L424.7,132.3 L424.8,131.2 L424.9,130.1 L425.0,129.0 L425.1,127.8 L425.2,126.7 L425.3,125.4 L425.4,124.0 L425.5,122.7 L425.6,121.4 L425.7,120.1 L425.8,118.8 L425.9,117.4 L426.0,116.1 L426.1,114.9 L426.2,113.8 L426.3,112.6 L426.4,111.4 L426.5,110.2 L426.6,109.0 L426.7,107.9 L426.8,106.7 L426.9,105.5 L427.0,104.2 L427.1,102.8 L427.2,101.4 L427.3,100.1 L427.4,98.7 L427.5,97.4 L427.6,96.0 L427.7,94.6 L427.8,93.2 L427.9,91.8 L428.0,90.4 L428.1,89.0 L428.2,87.6 L428.3,86.2 L428.4,84.8 L428.5,83.5 L428.6,82.1 L428.7,80.7 L428.8,79.4 L428.9,78.2 L429.0,77.0 L429.1,75.9 L429.2,74.7 L429.3,73.6 L429.4,73.4 L429.5,73.2 L429.6,72.9 L429.7,72.7 L429.8,72.9 L429.9,73.2 L430.0,73.4 L430.1,73.6 L430.2,74.5 L430.3,75.3 L430.4,76.1 L430.5,76.9 L430.6,77.7 L430.7,78.5 L430.8,79.3 L430.9,80.2 L431.0,81.0 L431.1,81.8 L431.2,82.4 L431.3,83.0 L431.4,83.6 L431.5,84.2 L431.6,84.8 L431.7,85.4 L431.8,86.0 L431.9,86.6 L432.0,87.2 L432.1,87.8 L432.2,88.3 L432.3,88.3 L432.4,88.2 L432.5,88.0 L432.5,87.8 L432.6,87.7 L432.7,87.5 L432.8,87.3 L432.9,87.2 L433.0,87.0 L433.1,86.8 L433.2,86.6 L433.3,86.5 L433.4,86.3 L433.5,86.2 L433.6,86.1 L433.7,85.9 L433.8,85.8 L433.9,85.7 L434.0,85.5 L434.1,85.4 L434.2,85.2 L434.3,84.9 L434.4,84.7 L434.5,84.4 L434.6,84.4 L434.7,84.7 L434.8,84.9 L434.9,85.1 L435.0,86.1 L435.1,88.0 L435.2,89.9 L435.3,91.8 L435.4,93.8 L435.5,96.0 L435.6,98.2 L435.7,100.5 L435.8,102.7 L435.9,105.0 L436.0,107.6 L436.1,110.7 L436.2,113.8 L436.3,116.9 L436.4,120.1 L436.5,123.2 L436.6,126.3 L436.7,129.5 L436.8,132.6 L436.9,135.8 L437.0,136.5 L437.1,136.9 L437.2,137.4 L437.3,137.8 L437.4,138.0 L437.5,138.1 L437.6,138.3 L437.7,138.4 L437.8,138.5 L437.9,138.6 L438.0,138.5 L438.1,138.5 L438.2,138.5 L438.3,138.5 L438.4,138.5 L438.5,138.1 L438.6,137.5 L438.7,136.8 L438.8,136.2 L438.9,135.4 L439.0,134.2 L439.1,133.0 L439.2,131.9 L439.3,130.7 L439.4,129.5 L439.5,128.3 L439.6,126.9 L439.7,125.5 L439.8,124.1 L439.9,122.7 L440.0,121.3 L440.1,119.9 L440.2,118.5 L440.3,117.3 L440.4,116.0 L440.5,114.8 L440.6,113.6 L440.7,112.4 L440.8,111.1 L440.9,109.9 L441.0,108.7 L441.1,107.4 L441.2,106.1 L441.3,104.7 L441.4,103.3 L441.5,101.9 L441.6,100.5 L441.7,99.1 L441.8,97.7 L441.9,96.3 L442.0,94.9 L442.1,93.4 L442.2,92.0 L442.3,90.5 L442.4,89.1 L442.4,87.6 L442.5,86.2 L442.6,84.8 L442.7,83.3 L442.8,81.9 L442.9,80.5 L443.0,79.2 L443.1,78.0 L443.2,76.8 L443.3,75.6 L443.4,74.3 L443.5,74.0 L443.6,73.8 L443.7,73.6 L443.8,73.3 L443.9,73.5 L444.0,73.7 L444.1,74.0 L444.2,74.2 L444.3,74.9 L444.4,75.6 L444.5,76.4 L444.6,77.2 L444.7,78.0 L444.8,78.8 L444.9,79.6 L445.0,80.4 L445.1,81.1 L445.2,81.9 L445.3,82.6 L445.4,83.1 L445.5,83.7 L445.6,84.3 L445.7,84.9 L445.8,85.5 L445.9,86.1 L446.0,86.6 L446.1,87.2 L446.2,87.8 L446.3,88.4 L446.4,88.5 L446.5,88.2 L446.6,87.9 L446.7,87.6 L446.8,87.3 L446.9,87.0 L447.0,86.7 L447.1,86.4 L447.2,86.1 L447.3,85.8 L447.4,85.5 L447.5,85.2 L447.6,84.9 L447.7,84.6 L447.8,84.2 L447.9,83.9 L448.0,83.6 L448.1,83.2 L448.2,82.9 L448.3,82.5 L448.4,82.2 L448.5,81.9 L448.6,81.7 L448.7,81.5 L448.8,81.4 L448.9,81.7 L449.0,81.9 L449.1,82.1 L449.2,83.0 L449.3,85.2 L449.4,87.4 L449.5,89.6 L449.6,91.8 L449.7,94.2 L449.8,96.7 L449.9,99.3 L450.0,101.8 L450.1,104.3 L450.2,106.8 L450.3,110.2 L450.4,113.7 L450.5,117.1 L450.6,120.6 L450.7,124.0 L450.8,127.6 L450.9,131.2 L451.0,134.9 L451.1,138.6 L451.2,142.3 L451.3,142.9 L451.4,143.5 L451.5,144.0 L451.6,144.6 L451.7,144.8 L451.8,144.9 L451.9,145.0 L452.0,145.1 L452.1,145.2 L452.2,145.2 L452.2,145.0 L452.3,144.9 L452.4,144.8 L452.5,144.7 L452.6,144.5 L452.7,143.9 L452.8,143.1 L452.9,142.3 L453.0,141.5 L453.1,140.3 L453.2,138.9 L453.3,137.5 L453.4,136.1 L453.5,134.7 L453.6,133.3 L453.7,131.8 L453.8,130.1 L453.9,128.5 L454.0,126.8 L454.1,125.1 L454.2,123.5 L454.3,121.8 L454.4,120.2 L454.5,118.8 L454.6,117.4 L454.7,116.0 L454.8,114.6 L454.9,113.2 L455.0,111.8 L455.1,110.4 L455.2,109.0 L455.3,107.6 L455.4,106.1 L455.5,104.6 L455.6,103.0 L455.7,101.5 L455.8,100.0 L455.9,98.5 L456.0,97.0 L456.1,95.4 L456.2,93.9 L456.3,92.3 L456.4,90.8 L456.5,89.3 L456.6,87.7 L456.7,86.2 L456.8,84.7 L456.9,83.2 L457.0,81.7 L457.1,80.1 L457.2,78.8 L457.3,77.5 L457.4,76.2 L457.5,75.0 L457.6,73.7 L457.7,73.2 L457.8,72.9 L457.9,72.7 L458.0,72.5 L458.1,72.6 L458.2,72.9 L458.3,73.1 L458.4,73.4 L458.5,74.0 L458.6,74.9 L458.7,75.7 L458.8,76.6 L458.9,77.4 L459.0,78.3 L459.1,79.1 L459.2,80.0 L459.3,80.8 L459.4,81.6 L459.5,82.4 L459.6,83.0 L459.7,83.6 L459.8,84.2 L459.9,84.8 L460.0,85.4 L460.1,86.0 L460.2,86.6 L460.3,87.2 L460.4,87.8 L460.5,88.4 L460.6,88.7 L460.7,88.4 L460.8,88.1 L460.9,87.9 L461.0,87.6 L461.1,87.4 L461.2,87.1 L461.3,86.8 L461.4,86.6 L461.5,86.3 L461.6,86.1 L461.7,85.8 L461.8,85.6 L461.9,85.3 L462.0,85.0 L462.1,84.8 L462.1,84.5 L462.2,84.2 L462.3,84.0 L462.4,83.7 L462.5,83.4 L462.6,83.2 L462.7,83.0 L462.8,82.8 L462.9,82.6 L463.0,82.8 L463.1,83.1 L463.2,83.3 L463.3,83.7 L463.4,85.6 L463.5,87.5 L463.6,89.3 L463.7,91.2 L463.8,93.1 L463.9,95.1 L464.0,97.2 L464.1,99.3 L464.2,101.4 L464.3,103.4 L464.4,105.8 L464.5,108.6 L464.6,111.4 L464.7,114.2 L464.8,117.0 L464.9,119.8 L465.0,122.7 L465.1,125.8 L465.2,129.0 L465.3,132.1 L465.4,135.1 L465.5,135.5 L465.6,135.9 L465.7,136.4 L465.8,136.8 L465.9,136.9 L466.0,136.9 L466.1,137.0 L466.2,137.1 L466.3,137.1 L466.4,137.1 L466.5,137.1 L466.6,137.0 L466.7,136.9 L466.8,136.8 L466.9,136.8 L467.0,136.2 L467.1,135.6 L467.2,134.9 L467.3,134.2 L467.4,133.1 L467.5,131.9 L467.6,130.7 L467.7,129.5 L467.8,128.3 L467.9,127.1 L468.0,125.7 L468.1,124.2 L468.2,122.8 L468.3,121.3 L468.4,119.8 L468.5,118.4 L468.6,116.9 L468.7,115.6 L468.8,114.4 L468.9,113.2 L469.0,112.0 L469.1,110.8 L469.2,109.6 L469.3,108.3 L469.4,107.1 L469.5,105.9 L469.6,104.7 L469.7,103.4 L469.8,102.0 L469.9,100.7 L470.0,99.4 L470.1,98.1 L470.2,96.8 L470.3,95.5 L470.4,94.2 L470.5,92.9 L470.6,91.6 L470.7,90.3 L470.8,89.0 L470.9,87.6 L471.0,86.3 L471.1,85.0 L471.2,83.7 L471.3,82.4 L471.4,81.1 L471.5,80.0 L471.6,79.0 L471.7,77.9 L471.8,76.8 L471.9,76.2 L472.0,76.0 L472.0,75.8 L472.1,75.6 L472.2,75.6 L472.3,75.8 L472.4,76.0 L472.5,76.3 L472.6,76.7 L472.7,77.4 L472.8,78.0 L472.9,78.7 L473.0,79.4 L473.1,80.1 L473.2,80.7 L473.3,81.4 L473.4,82.1 L473.5,82.8 L473.6,83.4 L473.7,83.9 L473.8,84.4 L473.9,84.9 L474.0,85.5 L474.1,86.0 L474.2,86.5 L474.3,87.0 L474.4,87.5 L474.5,88.0 L474.6,88.5 L474.7,88.9 L474.8,88.6 L474.9,88.4 L475.0,88.1 L475.1,87.9 L475.2,87.6 L475.3,87.4 L475.4,87.1 L475.5,86.9 L475.6,86.6 L475.7,86.4 L475.8,86.1 L475.9,85.9 L476.0,85.6 L476.1,85.3 L476.2,85.1 L476.3,84.8 L476.4,84.6 L476.5,84.3 L476.6,84.0 L476.7,83.8 L476.8,83.6 L476.9,83.4 L477.0,83.1 L477.1,82.9 L477.2,83.1 L477.3,83.4 L477.4,83.6 L477.5,83.9 L477.6,85.5 L477.7,87.2 L477.8,89.0 L477.9,90.7 L478.0,92.4 L478.1,94.3 L478.2,96.3 L478.3,98.2 L478.4,100.2 L478.5,102.1 L478.6,104.1 L478.7,106.6 L478.8,109.2 L478.9,111.9 L479.0,114.5 L479.1,117.1 L479.2,119.8 L479.3,122.7 L479.4,125.8 L479.5,128.8 L479.6,131.9 L479.7,134.3 L479.8,134.7 L479.9,135.2 L480.0,135.6 L480.1,136.0 L480.2,136.0 L480.3,136.1 L480.4,136.2 L480.5,136.2 L480.6,136.3 L480.7,136.3 L480.8,136.2 L480.9,136.2 L481.0,136.1 L481.1,136.0 L481.2,135.9 L481.3,135.2 L481.4,134.6 L481.5,133.9 L481.6,133.2 L481.7,132.0 L481.8,130.8 L481.9,129.6 L481.9,128.4 L482.0,127.2 L482.1,125.9 L482.2,124.5 L482.3,123.0 L482.4,121.5 L482.5,120.0 L482.6,118.5 L482.7,117.0 L482.8,115.6 L482.9,114.4 L483.0,113.2 L483.1,111.9 L483.2,110.7 L483.3,109.5 L483.4,108.3 L483.5,107.1 L483.6,105.9 L483.7,104.6 L483.8,103.3 L483.9,102.0 L484.0,100.7 L484.1,99.4 L484.2,98.1 L484.3,96.8 L484.4,95.5 L484.5,94.2 L484.6,92.8 L484.7,91.5 L484.8,90.2 L484.9,88.9 L485.0,87.6 L485.1,86.2 L485.2,84.9 L485.3,83.5 L485.4,82.2 L485.5,80.9 L485.6,79.8 L485.7,78.7 L485.8,77.6 L485.9,76.5 L486.0,75.7 L486.1,75.5 L486.2,75.2 L486.3,75.0 L486.4,74.9 L486.5,75.2 L486.6,75.4 L486.7,75.6 L486.8,76.0 L486.9,76.7 L487.0,77.4 L487.1,78.1 L487.2,78.9 L487.3,79.6 L487.4,80.3 L487.5,81.0 L487.6,81.8 L487.7,82.5 L487.8,83.2 L487.9,83.7 L488.0,84.3 L488.1,84.8 L488.2,85.3 L488.3,85.9 L488.4,86.4 L488.5,86.9 L488.6,87.5 L488.7,88.0 L488.8,88.6 L488.9,89.1 L489.0,88.8 L489.1,88.6 L489.2,88.4 L489.3,88.2 L489.4,88.0 L489.5,87.8 L489.6,87.6 L489.7,87.4 L489.8,87.2 L489.9,87.0 L490.0,86.8 L490.1,86.6 L490.2,86.4 L490.3,86.2 L490.4,86.0 L490.5,85.8 L490.6,85.6 L490.7,85.4 L490.8,85.2 L490.9,85.1 L491.0,84.8 L491.1,84.6 L491.2,84.4 L491.3,84.1 L491.4,84.2 L491.5,84.5 L491.6,84.7 L491.7,84.9 L491.8,86.2 L491.8,87.9 L491.9,89.6 L492.0,91.3 L492.1,92.9 L492.2,94.8 L492.3,96.6 L492.4,98.5 L492.5,100.4 L492.6,102.3 L492.7,104.2 L492.8,106.6 L492.9,109.2 L493.0,111.8 L493.1,114.3 L493.2,116.9 L493.3,119.5 L493.4,122.4 L493.5,125.4 L493.6,128.4 L493.7,131.4 L493.8,134.2 L493.9,134.7 L494.0,135.1 L494.1,135.5 L494.2,135.9 L494.3,136.0 L494.4,136.0 L494.5,136.1 L494.6,136.2 L494.7,136.2 L494.8,136.2 L494.9,136.1 L495.0,136.1 L495.1,136.0 L495.2,135.9 L495.3,135.8 L495.4,135.2 L495.5,134.6 L495.6,133.9 L495.7,133.2 L495.8,132.1 L495.9,130.8 L496.0,129.6 L496.1,128.4 L496.2,127.2 L496.3,126.0 L496.4,124.5 L496.5,123.0 L496.6,121.5 L496.7,120.0 L496.8,118.5 L496.9,117.0 L497.0,115.6 L497.1,114.4 L497.2,113.2 L497.3,111.9 L497.4,110.7 L497.5,109.5 L497.6,108.3 L497.7,107.1 L497.8,105.9 L497.9,104.6 L498.0,103.3 L498.1,102.0 L498.2,100.7 L498.3,99.4 L498.4,98.1 L498.5,96.8 L498.6,95.5 L498.7,94.2 L498.8,92.9 L498.9,91.6 L499.0,90.3 L499.1,89.0 L499.2,87.7 L499.3,86.3 L499.4,85.0 L499.5,83.7 L499.6,82.3 L499.7,81.0 L499.8,79.9 L499.9,78.9 L500.0,77.8 L500.1,76.7 L500.2,75.7 L500.3,75.5 L500.4,75.3 L500.5,75.1 L500.6,74.9 L500.7,75.1 L500.8,75.4 L500.9,75.6 L501.0,75.9 L501.1,76.6 L501.2,77.4 L501.3,78.1 L501.4,78.8 L501.5,79.6 L501.6,80.3 L501.6,81.0 L501.7,81.8 L501.8,82.5 L501.9,83.2 L502.0,83.8 L502.1,84.3 L502.2,84.8 L502.3,85.4 L502.4,85.9 L502.5,86.5 L502.6,87.0 L502.7,87.5 L502.8,88.1 L502.9,88.6 L503.0,89.1 L503.1,89.0 L503.2,88.7 L503.3,88.5 L503.4,88.2 L503.5,88.0 L503.6,87.7 L503.7,87.5 L503.8,87.2 L503.9,86.9 L504.0,86.7 L504.1,86.4 L504.2,86.2 L504.3,85.9 L504.4,85.6 L504.5,85.3 L504.6,85.0 L504.7,84.8 L504.8,84.5 L504.9,84.2 L505.0,83.9 L505.1,83.7 L505.2,83.4 L505.3,83.2 L505.4,82.9 L505.5,83.0 L505.6,83.2 L505.7,83.4 L505.8,83.7 L505.9,84.7 L506.0,86.4 L506.1,88.1 L506.2,89.8 L506.3,91.4 L506.4,93.2 L506.5,95.1 L506.6,97.0 L506.7,98.9 L506.8,100.8 L506.9,102.7 L507.0,104.9 L507.1,107.5 L507.2,110.1 L507.3,112.7 L507.4,115.3 L507.5,117.9 L507.6,120.6 L507.7,123.6 L507.8,126.6 L507.9,129.6 L508.0,132.6 L508.1,133.4 L508.2,133.8 L508.3,134.2 L508.4,134.6 L508.5,134.8 L508.6,134.8 L508.7,134.9 L508.8,135.0 L508.9,135.0 L509.0,135.1 L509.1,135.0 L509.2,134.9 L509.3,134.9 L509.4,134.8 L509.5,134.7 L509.6,134.3 L509.7,133.6 L509.8,133.0 L509.9,132.3 L510.0,131.4 L510.1,130.2 L510.2,129.0 L510.3,127.8 L510.4,126.7 L510.5,125.5 L510.6,124.2 L510.7,122.7 L510.8,121.3 L510.9,119.9 L511.0,118.4 L511.1,117.0 L511.2,115.5 L511.3,114.4 L511.4,113.2 L511.5,112.1 L511.5,110.9 L511.6,109.7 L511.7,108.6 L511.8,107.4 L511.9,106.2 L512.0,105.1 L512.1,103.8 L512.2,102.6 L512.3,101.3 L512.4,100.1 L512.5,98.8 L512.6,97.6 L512.7,96.4 L512.8,95.1 L512.9,93.8 L513.0,92.6 L513.1,91.3 L513.2,90.1 L513.3,88.8 L513.4,87.6 L513.5,86.3 L513.6,85.0 L513.7,83.7 L513.8,82.5 L513.9,81.4 L514.0,80.4 L514.1,79.3 L514.2,78.3 L514.3,77.3 L514.4,77.1 L514.5,76.8 L514.6,76.6 L514.7,76.4 L514.8,76.6 L514.9,76.8 L515.0,77.1 L515.1,77.3 L515.2,77.9 L515.3,78.5 L515.4,79.2 L515.5,79.8 L515.6,80.5 L515.7,81.1 L515.8,81.8 L515.9,82.4 L516.0,83.1 L516.1,83.7 L516.2,84.3 L516.3,84.8 L516.4,85.3 L516.5,85.8 L516.6,86.2 L516.7,86.7 L516.8,87.2 L516.9,87.7 L517.0,88.2 L517.1,88.7 L517.2,89.2 L517.3,89.2 L517.4,88.9 L517.5,88.6 L517.6,88.3 L517.7,88.0 L517.8,87.7 L517.9,87.4 L518.0,87.1 L518.1,86.8 L518.2,86.5 L518.3,86.2 L518.4,85.9 L518.5,85.5 L518.6,85.2 L518.7,84.8 L518.8,84.5 L518.9,84.1 L519.0,83.8 L519.1,83.4 L519.2,83.1 L519.3,82.8 L519.4,82.5 L519.5,82.3 L519.6,82.1 L519.7,82.0 L519.8,82.3 L519.9,82.5 L520.0,82.7 L520.1,83.5 L520.2,85.2 L520.3,87.0 L520.4,88.7 L520.5,90.4 L520.6,92.2 L520.7,94.1 L520.8,96.0 L520.9,98.0 L521.0,99.9 L521.1,101.8 L521.2,103.9 L521.3,106.6 L521.4,109.2 L521.4,111.8 L521.5,114.5 L521.6,117.1 L521.7,119.8 L521.8,122.9 L521.9,125.9 L522.0,128.9 L522.1,132.0 L522.2,133.2 L522.3,133.7 L522.4,134.1 L522.5,134.5 L522.6,134.7 L522.7,134.8 L522.8,134.8 L522.9,134.9 L523.0,135.0 L523.1,135.0 L523.2,134.9 L523.3,134.9 L523.4,134.8 L523.5,134.7 L523.6,134.6 L523.7,134.3 L523.8,133.6 L523.9,133.0 L524.0,132.3 L524.1,131.4 L524.2,130.2 L524.3,129.1 L524.4,127.9 L524.5,126.7 L524.6,125.5 L524.7,124.2 L524.8,122.8 L524.9,121.3 L525.0,119.9 L525.1,118.5 L525.2,117.0 L525.3,115.6 L525.4,114.3 L525.5,113.2 L525.6,112.0 L525.7,110.8 L525.8,109.6 L525.9,108.4 L526.0,107.3 L526.1,106.1 L526.2,104.9 L526.3,103.7 L526.4,102.4 L526.5,101.1 L526.6,99.9 L526.7,98.6 L526.8,97.4 L526.9,96.1 L527.0,94.8 L527.1,93.6 L527.2,92.3 L527.3,91.0 L527.4,89.7 L527.5,88.4 L527.6,87.2 L527.7,85.9 L527.8,84.6 L527.9,83.3 L528.0,82.0 L528.1,80.8 L528.2,79.8 L528.3,78.7 L528.4,77.7 L528.5,76.6 L528.6,76.2 L528.7,76.0 L528.8,75.8 L528.9,75.5 L529.0,75.7 L529.1,75.9 L529.2,76.1 L529.3,76.4 L529.4,76.9 L529.5,77.7 L529.6,78.4 L529.7,79.1 L529.8,79.9 L529.9,80.6 L530.0,81.3 L530.1,82.0 L530.2,82.8 L530.3,83.5 L530.4,84.1 L530.5,84.6 L530.6,85.2 L530.7,85.7 L530.8,86.3 L530.9,86.8 L531.0,87.3 L531.1,87.9 L531.2,88.4 L531.3,88.9 L531.3,89.5 L531.4,89.6 L531.5,89.3 L531.6,89.0 L531.7,88.6 L531.8,88.3 L531.9,88.0 L532.0,87.7 L532.1,87.4 L532.2,87.0 L532.3,86.7 L532.4,86.4 L532.5,86.1 L532.6,85.7 L532.7,85.4 L532.8,85.0 L532.9,84.6 L533.0,84.2 L533.1,83.9 L533.2,83.5 L533.3,83.1 L533.4,82.8 L533.5,82.6 L533.6,82.4 L533.7,82.1 L533.8,82.0 L533.9,82.3 L534.0,82.5 L534.1,82.7 L534.2,83.3 L534.3,84.9 L534.4,86.6 L534.5,88.3 L534.6,90.0 L534.7,91.7 L534.8,93.6 L534.9,95.5 L535.0,97.4 L535.1,99.3 L535.2,101.2 L535.3,103.1 L535.4,105.7 L535.5,108.3 L535.6,110.9 L535.7,113.5 L535.8,116.0 L535.9,118.6 L536.0,121.6 L536.1,124.6 L536.2,127.6 L536.3,130.5 L536.4,132.3 L536.5,132.7 L536.6,133.1 L536.7,133.5 L536.8,133.8 L536.9,133.9 L537.0,133.9 L537.1,134.0 L537.2,134.0 L537.3,134.1 L537.4,134.1 L537.5,134.0 L537.6,133.9 L537.7,133.8 L537.8,133.8 L537.9,133.5 L538.0,132.9 L538.1,132.3 L538.2,131.6 L538.3,130.8 L538.4,129.7 L538.5,128.5 L538.6,127.4 L538.7,126.2 L538.8,125.1 L538.9,123.9 L539.0,122.5 L539.1,121.0 L539.2,119.6 L539.3,118.2 L539.4,116.8 L539.5,115.4 L539.6,114.2 L539.7,113.0 L539.8,111.9 L539.9,110.7 L540.0,109.6 L540.1,108.4 L540.2,107.3 L540.3,106.2 L540.4,105.0 L540.5,103.8 L540.6,102.6 L540.7,101.4 L540.8,100.2 L540.9,98.9 L541.0,97.7 L541.1,96.5 L541.2,95.3 L541.2,94.0 L541.3,92.8 L541.4,91.6 L541.5,90.3 L541.6,89.1 L541.7,87.9 L541.8,86.6 L541.9,85.4 L542.0,84.1 L542.1,82.9 L542.2,81.7 L542.3,80.7 L542.4,79.7 L542.5,78.7 L542.6,77.7 L542.7,77.2 L542.8,77.0 L542.9,76.7 L543.0,76.5 L543.1,76.6 L543.2,76.8 L543.3,77.0 L543.4,77.3 L543.5,77.8 L543.6,78.5 L543.7,79.1 L543.8,79.8 L543.9,80.5 L544.0,81.2 L544.1,81.9 L544.2,82.6 L544.3,83.3 L544.4,84.0 L544.5,84.6 L544.6,85.1 L544.7,85.7 L544.8,86.2 L544.9,86.7 L545.0,87.2 L545.1,87.7 L545.2,88.2 L545.3,88.7 L545.4,89.2 L545.5,89.8 L545.6,90.0 L545.7,89.7 L545.8,89.4 L545.9,89.1 L546.0,88.8 L546.1,88.5 L546.2,88.1 L546.3,87.8 L546.4,87.5 L546.5,87.2 L546.6,86.9 L546.7,86.6 L546.8,86.3 L546.9,85.9 L547.0,85.6 L547.1,85.2 L547.2,84.9 L547.3,84.5 L547.4,84.2 L547.5,83.8 L547.6,83.5 L547.7,83.2 L547.8,83.0 L547.9,82.8 L548.0,82.6 L548.1,82.8 L548.2,83.0 L548.3,83.2 L548.4,83.5 L548.5,85.1 L548.6,86.8 L548.7,88.4 L548.8,90.0 L548.9,91.7 L549.0,93.5 L549.1,95.4 L549.2,97.2 L549.3,99.1 L549.4,100.9 L549.5,102.8 L549.6,105.2 L549.7,107.8 L549.8,110.3 L549.9,112.8 L550.0,115.3 L550.1,117.9 L550.2,120.7 L550.3,123.7 L550.4,126.6 L550.5,129.5 L550.6,131.7 L550.7,132.1 L550.8,132.5 L550.9,132.9 L551.0,133.2 L551.1,133.3 L551.1,133.3 L551.2,133.4 L551.3,133.5 L551.4,133.5 L551.5,133.5 L551.6,133.4 L551.7,133.4 L551.8,133.3 L551.9,133.2 L552.0,133.1 L552.1,132.5 L552.2,131.9 L552.3,131.3 L552.4,130.6 L552.5,129.5 L552.6,128.4 L552.7,127.3 L552.8,126.2 L552.9,125.1 L553.0,124.0 L553.1,122.6 L553.2,121.2 L553.3,119.9 L553.4,118.5 L553.5,117.1 L553.6,115.8 L553.7,114.5 L553.8,113.4 L553.9,112.3 L554.0,111.2 L554.1,110.1 L554.2,109.0 L554.3,107.9 L554.4,106.8 L554.5,105.7 L554.6,104.6 L554.7,103.4 L554.8,102.2 L554.9,101.0 L555.0,99.9 L555.1,98.7 L555.2,97.5 L555.3,96.3 L555.4,95.1 L555.5,94.0 L555.6,92.8 L555.7,91.6 L555.8,90.4 L555.9,89.2 L556.0,88.0 L556.1,86.8 L556.2,85.6 L556.3,84.4 L556.4,83.2 L556.5,82.3 L556.6,81.3 L556.7,80.4 L556.8,79.4 L556.9,78.7 L557.0,78.5 L557.1,78.3 L557.2,78.1 L557.3,78.0 L557.4,78.3 L557.5,78.5 L557.6,78.8 L557.7,79.1 L557.8,79.7 L557.9,80.4 L558.0,81.0 L558.1,81.6 L558.2,82.3 L558.3,82.9 L558.4,83.5 L558.5,84.1 L558.6,84.8 L558.7,85.4 L558.8,85.8 L558.9,86.3 L559.0,86.8 L559.1,87.2 L559.2,87.7 L559.3,88.2 L559.4,88.7 L559.5,89.1 L559.6,89.6 L559.7,90.1 L559.8,90.4 L559.9,90.1 L560.0,89.7 L560.1,89.4 L560.2,89.0 L560.3,88.7 L560.4,88.3 L560.5,88.0 L560.6,87.6 L560.7,87.3 L560.8,86.9 L560.9,86.6 L560.9,86.2 L561.0,85.8 L561.1,85.4 L561.2,85.0 L561.3,84.6 L561.4,84.2 L561.5,83.7 L561.6,83.3 L561.7,82.9 L561.8,82.7 L561.9,82.4 L562.0,82.2 L562.1,82.0 L562.2,82.2 L562.3,82.4 L562.4,82.6 L562.5,82.9 L562.6,84.3 L562.7,86.0 L562.8,87.6 L562.9,89.3 L563.0,90.9 L563.1,92.8 L563.2,94.7 L563.3,96.5 L563.4,98.4 L563.5,100.3 L563.6,102.1 L563.7,104.5 L563.8,107.1 L563.9,109.6 L564.0,112.2 L564.1,114.7 L564.2,117.3 L564.3,120.1 L564.4,123.0 L564.5,126.0 L564.6,128.9 L564.7,131.5 L564.8,132.0 L564.9,132.4 L565.0,132.8 L565.1,133.2 L565.2,133.3 L565.3,133.3 L565.4,133.4 L565.5,133.5 L565.6,133.6 L565.7,133.6 L565.8,133.5 L565.9,133.4 L566.0,133.4 L566.1,133.3 L566.2,133.3 L566.3,132.7 L566.4,132.1 L566.5,131.6 L566.6,131.0 L566.7,129.9 L566.8,128.9 L566.9,127.8 L567.0,126.7 L567.1,125.6 L567.2,124.6 L567.3,123.3 L567.4,121.9 L567.5,120.6 L567.6,119.3 L567.7,117.9 L567.8,116.6 L567.9,115.4 L568.0,114.3 L568.1,113.2 L568.2,112.1 L568.3,111.0 L568.4,110.0 L568.5,108.9 L568.6,107.8 L568.7,106.7 L568.8,105.6 L568.9,104.5 L569.0,103.3 L569.1,102.2 L569.2,101.0 L569.3,99.9 L569.4,98.7 L569.5,97.5 L569.6,96.4 L569.7,95.2 L569.8,94.0 L569.9,92.8 L570.0,91.7 L570.1,90.5 L570.2,89.3 L570.3,88.1 L570.4,86.9 L570.5,85.7 L570.6,84.6 L570.7,83.6 L570.8,82.7 L570.8,81.7 L570.9,80.8 L571.0,80.0 L571.1,79.8 L571.2,79.6 L571.3,79.3 L571.4,79.2 L571.5,79.4 L571.6,79.7 L571.7,79.9 L571.8,80.2 L571.9,80.7 L572.0,81.3 L572.1,81.9 L572.2,82.5 L572.3,83.0 L572.4,83.6 L572.5,84.2 L572.6,84.8 L572.7,85.3 L572.8,85.9 L572.9,86.4 L573.0,86.8 L573.1,87.2 L573.2,87.7 L573.3,88.1 L573.4,88.6 L573.5,89.0 L573.6,89.5 L573.7,89.9 L573.8,90.4 L573.9,90.8 L574.0,90.5 L574.1,90.2 L574.2,89.9 L574.3,89.5 L574.4,89.2 L574.5,88.9 L574.6,88.5 L574.7,88.2 L574.8,87.9 L574.9,87.6 L575.0,87.2 L575.1,86.9 L575.2,86.5 L575.3,86.2 L575.4,85.8 L575.5,85.4 L575.6,85.0 L575.7,84.6 L575.8,84.2 L575.9,83.8 L576.0,83.6 L576.1,83.3 L576.2,83.1 L576.3,82.8 L576.4,82.9 L576.5,83.1 L576.6,83.3 L576.7,83.5 L576.8,84.6 L576.9,86.3 L577.0,88.0 L577.1,89.6 L577.2,91.3 L577.3,93.1 L577.4,95.0 L577.5,96.9 L577.6,98.8 L577.7,100.6 L577.8,102.5 L577.9,104.8 L578.0,107.4 L578.1,110.0 L578.2,112.6 L578.3,115.2 L578.4,117.8 L578.5,120.6 L578.6,123.6 L578.7,126.7 L578.8,129.7 L578.9,132.7 L579.0,133.3 L579.1,133.8 L579.2,134.2 L579.3,134.6 L579.4,134.8 L579.5,134.8 L579.6,134.9 L579.7,135.0 L579.8,135.0 L579.9,135.1 L580.0,135.0 L580.1,134.9 L580.2,134.8 L580.3,134.8 L580.4,134.7 L580.5,134.2 L580.6,133.6 L580.7,133.0 L580.7,132.4 L580.8,131.4 L580.9,130.3 L581.0,129.2 L581.1,128.0 L581.2,126.9 L581.3,125.8 L581.4,124.5 L581.5,123.1 L581.6,121.8 L581.7,120.4 L581.8,119.0 L581.9,117.6 L582.0,116.3 L582.1,115.2 L582.2,114.0 L582.3,112.9 L582.4,111.8 L582.5,110.7 L582.6,109.6 L582.7,108.5 L582.8,107.3 L582.9,106.2 L583.0,105.0 L583.1,103.8 L583.2,102.6 L583.3,101.4 L583.4,100.2 L583.5,99.0 L583.6,97.8 L583.7,96.6 L583.8,95.4 L583.9,94.2 L584.0,93.0 L584.1,91.8 L584.2,90.6 L584.3,89.3 L584.4,88.1 L584.5,86.9 L584.6,85.6 L584.7,84.4 L584.8,83.4 L584.9,82.4 L585.0,81.4 L585.1,80.4 L585.2,79.5 L585.3,79.2 L585.4,79.0 L585.5,78.8 L585.6,78.6 L585.7,78.8 L585.8,79.0 L585.9,79.3 L586.0,79.5 L586.1,80.1 L586.2,80.8 L586.3,81.4 L586.4,82.0 L586.5,82.7 L586.6,83.3 L586.7,83.9 L586.8,84.5 L586.9,85.2 L587.0,85.8 L587.1,86.3 L587.2,86.8 L587.3,87.3 L587.4,87.7 L587.5,88.2 L587.6,88.7 L587.7,89.2 L587.8,89.6 L587.9,90.1 L588.0,90.6 L588.1,91.1 L588.2,90.8 L588.3,90.4 L588.4,89.9 L588.5,89.5 L588.6,89.0 L588.7,88.6 L588.8,88.1 L588.9,87.7 L589.0,87.2 L589.1,86.7 L589.2,86.3 L589.3,85.8 L589.4,85.2 L589.5,84.6 L589.6,84.1 L589.7,83.5 L589.8,82.9 L589.9,82.3 L590.0,81.6 L590.1,81.0 L590.2,80.6 L590.3,80.4 L590.4,80.1 L590.5,79.9 L590.6,79.9 L590.6,80.2 L590.7,80.4 L590.8,80.6 L590.9,81.6 L591.0,83.4 L591.1,85.1 L591.2,86.9 L591.3,88.7 L591.4,90.5 L591.5,92.5 L591.6,94.5 L591.7,96.5 L591.8,98.5 L591.9,100.5 L592.0,102.7 L592.1,105.4 L592.2,108.1 L592.3,110.8 L592.4,113.5 L592.5,116.2 L592.6,119.1 L592.7,122.2 L592.8,125.3 L592.9,128.4 L593.0,131.5 L593.1,132.6 L593.2,133.1 L593.3,133.5 L593.4,134.0 L593.5,134.1 L593.6,134.2 L593.7,134.2 L593.8,134.3 L593.9,134.3 L594.0,134.4 L594.1,134.3 L594.2,134.2 L594.3,134.1 L594.4,134.1 L594.5,134.0 L594.6,133.6 L594.7,133.0 L594.8,132.4 L594.9,131.8 L595.0,130.9 L595.1,129.8 L595.2,128.7 L595.3,127.6 L595.4,126.5 L595.5,125.4 L595.6,124.1 L595.7,122.8 L595.8,121.4 L595.9,120.1 L596.0,118.7 L596.1,117.4 L596.2,116.0 L596.3,114.9 L596.4,113.8 L596.5,112.7 L596.6,111.6 L596.7,110.5 L596.8,109.4 L596.9,108.3 L597.0,107.3 L597.1,106.2 L597.2,105.0 L597.3,103.8 L597.4,102.7 L597.5,101.5 L597.6,100.3 L597.7,99.2 L597.8,98.0 L597.9,96.8 L598.0,95.7 L598.1,94.5 L598.2,93.3 L598.3,92.1 L598.4,91.0 L598.5,89.8 L598.6,88.6 L598.7,87.4 L598.8,86.2 L598.9,85.0 L599.0,84.0 L599.1,83.0 L599.2,82.1 L599.3,81.2 L599.4,80.2 L599.5,79.9 L599.6,79.7 L599.7,79.4 L599.8,79.2 L599.9,79.4 L600.0,79.6 L600.1,79.8 L600.2,80.1 L600.3,80.6 L600.4,81.2 L600.5,81.8 L600.5,82.4 L600.6,83.1 L600.7,83.7 L600.8,84.3 L600.9,84.9 L601.0,85.5 L601.1,86.1 L601.2,86.7 L601.3,87.1 L601.4,87.6 L601.5,88.1 L601.6,88.5 L601.7,89.0 L601.8,89.5 L601.9,89.9 L602.0,90.4 L602.1,90.9 L602.2,91.3 L602.3,91.3 L602.4,90.8 L602.5,90.4 L602.6,89.9 L602.7,89.5 L602.8,89.0 L602.9,88.6 L603.0,88.2 L603.1,87.7 L603.2,87.3 L603.3,86.8 L603.4,86.4 L603.5,85.9 L603.6,85.3 L603.7,84.8 L603.8,84.2 L603.9,83.7 L604.0,83.1 L604.1,82.5 L604.2,82.0 L604.3,81.6 L604.4,81.4 L604.5,81.2 L604.6,81.0 L604.7,80.9 L604.8,81.1 L604.9,81.4 L605.0,81.6 L605.1,82.3 L605.2,84.0 L605.3,85.7 L605.4,87.4 L605.5,89.1 L605.6,90.8 L605.7,92.7 L605.8,94.6 L605.9,96.5 L606.0,98.4 L606.1,100.3 L606.2,102.3 L606.3,104.8 L606.4,107.4 L606.5,110.0 L606.6,112.5 L606.7,115.1 L606.8,117.7 L606.9,120.6 L607.0,123.6 L607.1,126.5 L607.2,129.4 L607.3,130.9 L607.4,131.3 L607.5,131.7 L607.6,132.1 L607.7,132.4 L607.8,132.4 L607.9,132.5 L608.0,132.5 L608.1,132.6 L608.2,132.6 L608.3,132.6 L608.4,132.5 L608.5,132.4 L608.6,132.3 L608.7,132.2 L608.8,131.9 L608.9,131.4 L609.0,130.8 L609.1,130.2 L609.2,129.4 L609.3,128.4 L609.4,127.3 L609.5,126.2 L609.6,125.2 L609.7,124.1 L609.8,123.0 L609.9,121.7 L610.0,120.4 L610.1,119.1 L610.2,117.8 L610.3,116.5 L610.3,115.2 L610.4,114.1 L610.5,113.0 L610.6,111.9 L610.7,110.9 L610.8,109.8 L610.9,108.8 L611.0,107.7 L611.1,106.7 L611.2,105.6 L611.3,104.5 L611.4,103.4 L611.5,102.3 L611.6,101.2 L611.7,100.0 L611.8,98.9 L611.9,97.8 L612.0,96.7 L612.1,95.5 L612.2,94.4 L612.3,93.3 L612.4,92.2 L612.5,91.0 L612.6,89.9 L612.7,88.7 L612.8,87.6 L612.9,86.5 L613.0,85.3 L613.1,84.3 L613.2,83.4 L613.3,82.5 L613.4,81.6 L613.5,80.7 L613.6,80.3 L613.7,80.0 L613.8,79.8 L613.9,79.6 L614.0,79.6 L614.1,79.9 L614.2,80.1 L614.3,80.3 L614.4,80.8 L614.5,81.4 L614.6,82.0 L614.7,82.7 L614.8,83.3 L614.9,83.9 L615.0,84.5 L615.1,85.1 L615.2,85.8 L615.3,86.4 L615.4,86.9 L615.5,87.4 L615.6,87.9 L615.7,88.3 L615.8,88.8 L615.9,89.3 L616.0,89.7 L616.1,90.2 L616.2,90.7 L616.3,91.1 L616.4,91.6 L616.5,91.8 L616.6,91.4 L616.7,91.1 L616.8,90.7 L616.9,90.4 L617.0,90.0 L617.1,89.7 L617.2,89.4 L617.3,89.0 L617.4,88.7 L617.5,88.4 L617.6,88.0 L617.7,87.7 L617.8,87.3 L617.9,86.9 L618.0,86.5 L618.1,86.1 L618.2,85.8 L618.3,85.4 L618.4,85.0 L618.5,84.7 L618.6,84.4 L618.7,84.2 L618.8,84.0 L618.9,83.8 L619.0,84.1 L619.1,84.3 L619.2,84.5 L619.3,84.9 L619.4,86.4 L619.5,87.9 L619.6,89.4 L619.7,90.8 L619.8,92.4 L619.9,94.1 L620.0,95.8 L620.1,97.5 L620.2,99.2 L620.2,100.9 L620.3,102.6 L620.4,104.9 L620.5,107.2 L620.6,109.5 L620.7,111.8 L620.8,114.1 L620.9,116.5 L621.0,119.1 L621.1,121.8 L621.2,124.4 L621.3,127.1 L621.4,128.9 L621.5,129.3 L621.6,129.6 L621.7,130.0 L621.8,130.2 L621.9,130.3 L622.0,130.3 L622.1,130.4 L622.2,130.4 L622.3,130.5 L622.4,130.4 L622.5,130.4 L622.6,130.3 L622.7,130.2 L622.8,130.2 L622.9,130.0 L623.0,129.5 L623.1,129.0 L623.2,128.4 L623.3,127.8 L623.4,126.8 L623.5,125.8 L623.6,124.8 L623.7,123.8 L623.8,122.8 L623.9,121.8 L624.0,120.5 L624.1,119.3 L624.2,118.1 L624.3,116.8 L624.4,115.6 L624.5,114.4 L624.6,113.3 L624.7,112.3 L624.8,111.3 L624.9,110.2 L625.0,109.2 L625.1,108.2 L625.2,107.2 L625.3,106.2 L625.4,105.2 L625.5,104.2 L625.6,103.1 L625.7,102.0 L625.8,101.0 L625.9,99.9 L626.0,98.8 L626.1,97.7 L626.2,96.6 L626.3,95.6 L626.4,94.5 L626.5,93.4 L626.6,92.3 L626.7,91.2 L626.8,90.1 L626.9,89.0 L627.0,87.9 L627.1,86.8 L627.2,85.7 L627.3,84.6 L627.4,83.8 L627.5,82.9 L627.6,82.0 L627.7,81.1 L627.8,80.6 L627.9,80.4 L628.0,80.1 L628.1,79.9 L628.2,79.9 L628.3,80.1 L628.4,80.4 L628.5,80.6 L628.6,81.0 L628.7,81.6 L628.8,82.2 L628.9,82.9 L629.0,83.5 L629.1,84.1 L629.2,84.7 L629.3,85.4 L629.4,86.0 L629.5,86.6 L629.6,87.2 L629.7,87.6 L629.8,88.1 L629.9,88.6 L630.0,89.1 L630.1,89.5 L630.1,90.0 L630.2,90.5 L630.3,90.9 L630.4,91.4 L630.5,91.9 L630.6,92.2 L630.7,91.8 L630.8,91.5 L630.9,91.2 L631.0,90.8 L631.1,90.5 L631.2,90.1 L631.3,89.8 L631.4,89.4 L631.5,89.1 L631.6,88.7 L631.7,88.4 L631.8,88.0 L631.9,87.6 L632.0,87.2 L632.1,86.8 L632.2,86.4 L632.3,85.9 L632.4,85.5 L632.5,85.1 L632.6,84.7 L632.7,84.4 L632.8,84.2 L632.9,83.9 L633.0,83.7 L633.1,83.9 L633.2,84.1 L633.3,84.3 L633.4,84.5 L633.5,85.9 L633.6,87.4 L633.7,88.9 L633.8,90.4 L633.9,91.9 L634.0,93.6 L634.1,95.3 L634.2,97.1 L634.3,98.8 L634.4,100.5 L634.5,102.3 L634.6,104.5 L634.7,106.9 L634.8,109.2 L634.9,111.6 L635.0,114.0 L635.1,116.3 L635.2,119.0 L635.3,121.7 L635.4,124.5 L635.5,127.2 L635.6,129.5 L635.7,129.9 L635.8,130.3 L635.9,130.7 L636.0,131.0 L636.1,131.1 L636.2,131.1 L636.3,131.2 L636.4,131.3 L636.5,131.3 L636.6,131.3 L636.7,131.2 L636.8,131.2 L636.9,131.1 L637.0,131.0 L637.1,130.9 L637.2,130.4 L637.3,129.8 L637.4,129.3 L637.5,128.7 L637.6,127.7 L637.7,126.7 L637.8,125.7 L637.9,124.7 L638.0,123.6 L638.1,122.6 L638.2,121.4 L638.3,120.1 L638.4,118.9 L638.5,117.7 L638.6,116.4 L638.7,115.2 L638.8,114.0 L638.9,113.0 L639.0,112.0 L639.1,111.0 L639.2,110.0 L639.3,109.0 L639.4,107.9 L639.5,106.9 L639.6,105.9 L639.7,104.9 L639.8,103.8 L639.9,102.7 L640.0,101.7 L640.0,100.6 L640.1,99.5 L640.2,98.4 L640.3,97.3 L640.4,96.3 L640.5,95.2 L640.6,94.1 L640.7,93.0 L640.8,91.9 L640.9,90.8 L641.0,89.7 L641.1,88.6 L641.2,87.5 L641.3,86.4 L641.4,85.3 L641.5,84.5 L641.6,83.6 L641.7,82.8 L641.8,81.9 L641.9,81.2 L642.0,81.0 L642.1,80.8 L642.2,80.6 L642.3,80.5 L642.4,80.7 L642.5,80.9 L642.6,81.2 L642.7,81.5 L642.8,82.1 L642.9,82.7 L643.0,83.3 L643.1,83.9 L643.2,84.5 L643.3,85.1 L643.4,85.7 L643.5,86.3 L643.6,86.9 L643.7,87.5 L643.8,88.0 L643.9,88.5 L644.0,88.9 L644.1,89.4 L644.2,89.8 L644.3,90.3 L644.4,90.8 L644.5,91.2 L644.6,91.7 L644.7,92.2 L644.8,92.6 L644.9,92.2 L645.0,91.7 L645.1,91.3 L645.2,90.8 L645.3,90.4 L645.4,89.9 L645.5,89.5 L645.6,89.0 L645.7,88.6 L645.8,88.1 L645.9,87.7 L646.0,87.2 L646.1,86.7 L646.2,86.1 L646.3,85.5 L646.4,85.0 L646.5,84.4 L646.6,83.8 L646.7,83.3 L646.8,82.7 L646.9,82.4 L647.0,82.2 L647.1,82.0 L647.2,81.7 L647.3,81.9 L647.4,82.1 L647.5,82.4 L647.6,82.6 L647.7,83.8 L647.8,85.4 L647.9,86.9 L648.0,88.5 L648.1,90.1 L648.2,91.8 L648.3,93.5 L648.4,95.3 L648.5,97.1 L648.6,98.9 L648.7,100.6 L648.8,102.8 L648.9,105.2 L649.0,107.6 L649.1,110.0 L649.2,112.5 L649.3,114.9 L649.4,117.5 L649.5,120.3 L649.6,123.0 L649.7,125.8 L649.8,128.6 L649.9,128.9 L649.9,129.3 L650.0,129.7 L650.1,130.1 L650.2,130.2 L650.3,130.2 L650.4,130.3 L650.5,130.4 L650.6,130.4 L650.7,130.4 L650.8,130.4 L650.9,130.3 L651.0,130.2 L651.1,130.2 L651.2,130.1 L651.3,129.6 L651.4,129.1 L651.5,128.6 L651.6,128.0 L651.7,127.1 L651.8,126.1 L651.9,125.1 L652.0,124.1 L652.1,123.2 L652.2,122.2 L652.3,121.0 L652.4,119.8 L652.5,118.6 L652.6,117.3 L652.7,116.1 L652.8,114.9 L652.9,113.7 L653.0,112.7 L653.1,111.7 L653.2,110.7 L653.3,109.8 L653.4,108.8 L653.5,107.8 L653.6,106.8 L653.7,105.8 L653.8,104.8 L653.9,103.7 L654.0,102.7 L654.1,101.6 L654.2,100.5 L654.3,99.5 L654.4,98.4 L654.5,97.4 L654.6,96.3 L654.7,95.2 L654.8,94.1 L654.9,93.1 L655.0,92.0 L655.1,90.9 L655.2,89.8 L655.3,88.8 L655.4,87.7 L655.5,86.6 L655.6,85.5 L655.7,84.6 L655.8,83.8 L655.9,82.9 L656.0,82.1 L656.1,81.3 L656.2,81.1 L656.3,80.8 L656.4,80.6 L656.5,80.4 L656.6,80.7 L656.7,80.9 L656.8,81.1 L656.9,81.3 L657.0,82.0 L657.1,82.6 L657.2,83.2 L657.3,83.8 L657.4,84.5 L657.5,85.1 L657.6,85.7 L657.7,86.3 L657.8,87.0 L657.9,87.6 L658.0,88.1 L658.1,88.6 L658.2,89.0 L658.3,89.5 L658.4,90.0 L658.5,90.5 L658.6,91.0 L658.7,91.4 L658.8,91.9 L658.9,92.4 L659.0,92.9 L659.1,92.6 L659.2,92.2 L659.3,91.8 L659.4,91.4 L659.5,91.0 L659.6,90.5 L659.7,90.1 L659.8,89.7 L659.8,89.3 L659.9,88.9 L660.0,88.4 L660.1,88.0 L660.2,87.6 L660.3,87.0 L660.4,86.5 L660.5,86.0 L660.6,85.5 L660.7,85.0 L660.8,84.5 L660.9,84.0 L661.0,83.6 L661.1,83.4 L661.2,83.1 L661.3,82.9 L661.4,82.9 L661.5,83.1 L661.6,83.3 L661.7,83.5 L661.8,84.5 L661.9,86.0 L662.0,87.5 L662.1,88.9 L662.2,90.4 L662.3,92.1 L662.4,93.8 L662.5,95.5 L662.6,97.2 L662.7,98.9 L662.8,100.6 L662.9,102.6 L663.0,105.0 L663.1,107.3 L663.2,109.7 L663.3,112.0 L663.4,114.4 L663.5,116.9 L663.6,119.6 L663.7,122.3 L663.8,125.1 L663.9,127.8 L664.0,128.6 L664.1,129.0 L664.2,129.3 L664.3,129.7 L664.4,129.9 L664.5,129.9 L664.6,130.0 L664.7,130.1 L664.8,130.1 L664.9,130.2 L665.0,130.1 L665.1,130.0 L665.2,130.0 L665.3,129.9 L665.4,129.8 L665.5,129.5 L665.6,128.9 L665.7,128.4 L665.8,127.9 L665.9,127.0 L666.0,126.0 L666.1,125.0 L666.2,124.0 L666.3,123.0 L666.4,122.0 L666.5,120.9 L666.6,119.7 L666.7,118.4 L666.8,117.2 L666.9,115.9 L667.0,114.7 L667.1,113.5 L667.2,112.5 L667.3,111.5 L667.4,110.5 L667.5,109.4 L667.6,108.4 L667.7,107.4 L667.8,106.4 L667.9,105.4 L668.0,104.4 L668.1,103.3 L668.2,102.2 L668.3,101.2 L668.4,100.1 L668.5,99.0 L668.6,97.9 L668.7,96.8 L668.8,95.7 L668.9,94.6 L669.0,93.5 L669.1,92.4 L669.2,91.3 L669.3,90.2 L669.4,89.1 L669.5,88.0 L669.6,86.9 L669.6,85.8 L669.7,84.6 L669.8,83.7 L669.9,82.8 L670.0,81.9 L670.1,81.1 L670.2,80.2 L670.3,79.9 L670.4,79.7 L670.5,79.4 L670.6,79.2 L670.7,79.4 L670.8,79.6 L670.9,79.9 L671.0,80.1 L671.1,80.7 L671.2,81.4 L671.3,82.2 L671.4,82.9 L671.5,83.6 L671.6,84.3 L671.7,85.0 L671.8,85.7 L671.9,86.4 L672.0,87.2 L672.1,87.7 L672.2,88.3 L672.3,88.8 L672.4,89.3 L672.5,89.9 L672.6,90.4 L672.7,90.9 L672.8,91.4 L672.9,92.0 L673.0,92.5 L673.1,93.0 L673.2,92.9 L673.3,92.4 L673.4,91.9 L673.5,91.4 L673.6,90.9 L673.7,90.4 L673.8,89.8 L673.9,89.3 L674.0,88.8 L674.1,88.3 L674.2,87.8 L674.3,87.3 L674.4,86.7 L674.5,86.0 L674.6,85.4 L674.7,84.7 L674.8,84.0 L674.9,83.3 L675.0,82.7 L675.1,82.0 L675.2,81.5 L675.3,81.3 L675.4,81.1 L675.5,80.9 L675.6,80.8 L675.7,81.1 L675.8,81.3 L675.9,81.5 L676.0,82.2 L676.1,83.8 L676.2,85.4 L676.3,87.0 L676.4,88.6 L676.5,90.3 L676.6,92.1 L676.7,93.9 L676.8,95.7 L676.9,97.5 L677.0,99.3 L677.1,101.3 L677.2,103.7 L677.3,106.2 L677.4,108.7 L677.5,111.1 L677.6,113.6 L677.7,116.1 L677.8,118.9 L677.9,121.8 L678.0,124.6 L678.1,127.5 L678.2,128.7 L678.3,129.1 L678.4,129.5 L678.5,129.9 L678.6,130.1 L678.7,130.1 L678.8,130.2 L678.9,130.2 L679.0,130.3 L679.1,130.3 L679.2,130.2 L679.3,130.1 L679.4,130.1 L679.5,130.0 L679.5,129.9 L679.6,129.6 L679.7,129.0 L679.8,128.4 L679.9,127.9 L680.0,127.1 L680.1,126.1 L680.2,125.1 L680.3,124.1 L680.4,123.1 L680.5,122.0 L680.6,120.9 L680.7,119.7 L680.8,118.5 L680.9,117.2 L681.0,116.0 L681.1,114.7 L681.2,113.5 L681.3,112.5 L681.4,111.4 L681.5,110.4 L681.6,109.4 L681.7,108.4 L681.8,107.4 L681.9,106.4 L682.0,105.4 L682.1,104.4 L682.2,103.4 L682.3,102.3 L682.4,101.3 L682.5,100.2 L682.6,99.1 L682.7,98.1 L682.8,97.0 L682.9,95.9 L683.0,94.9 L683.1,93.8 L683.2,92.7 L683.3,91.6 L683.4,90.6 L683.5,89.5 L683.6,88.4 L683.7,87.3 L683.8,86.3 L683.9,85.2 L684.0,84.2 L684.1,83.4 L684.2,82.6 L684.3,81.7 L684.4,80.9 L684.5,80.5 L684.6,80.3 L684.7,80.1 L684.8,79.9 L684.9,80.0 L685.0,80.2 L685.1,80.4 L685.2,80.7 L685.3,81.2 L685.4,81.9 L685.5,82.6 L685.6,83.3 L685.7,84.0 L685.8,84.7 L685.9,85.4 L686.0,86.1 L686.1,86.8 L686.2,87.5 L686.3,88.1 L686.4,88.6 L686.5,89.1 L686.6,89.6 L686.7,90.1 L686.8,90.6 L686.9,91.1 L687.0,91.6 L687.1,92.2 L687.2,92.7 L687.3,93.2 L687.4,93.2 L687.5,92.7 L687.6,92.2 L687.7,91.7 L687.8,91.2 L687.9,90.7 L688.0,90.2 L688.1,89.7 L688.2,89.2 L688.3,88.7 L688.4,88.2 L688.5,87.7 L688.6,87.2 L688.7,86.5 L688.8,85.9 L688.9,85.2 L689.0,84.6 L689.1,84.0 L689.2,83.3 L689.3,82.7 L689.4,82.2 L689.4,82.0 L689.5,81.7 L689.6,81.5 L689.7,81.4 L689.8,81.6 L689.9,81.9 L690.0,82.1 L690.1,82.6 L690.2,84.0 L690.3,85.5 L690.4,87.0 L690.5,88.5 L690.6,90.0 L690.7,91.7 L690.8,93.4 L690.9,95.0 L691.0,96.7 L691.1,98.4 L691.2,100.1 L691.3,102.4 L691.4,104.7 L691.5,107.0 L691.6,109.2 L691.7,111.5 L691.8,113.8 L691.9,116.4 L692.0,119.0 L692.1,121.7 L692.2,124.3 L692.3,125.8 L692.4,126.2 L692.5,126.5 L692.6,126.9 L692.7,127.1 L692.8,127.1 L692.9,127.2 L693.0,127.3 L693.1,127.3 L693.2,127.4 L693.3,127.3 L693.4,127.3 L693.5,127.2 L693.6,127.1 L693.7,127.1 L693.8,126.9 L693.9,126.4 L694.0,125.9 L694.1,125.4 L694.2,124.8 L694.3,123.9 L694.4,123.0 L694.5,122.1 L694.6,121.2 L694.7,120.3 L694.8,119.3 L694.9,118.2 L695.0,117.1 L695.1,116.0 L695.2,114.8 L695.3,113.7 L695.4,112.6 L695.5,111.6 L695.6,110.7 L695.7,109.8 L695.8,108.9 L695.9,108.0 L696.0,107.1 L696.1,106.2 L696.2,105.3 L696.3,104.4 L696.4,103.5 L696.5,102.5 L696.6,101.5 L696.7,100.6 L696.8,99.6 L696.9,98.7 L697.0,97.7 L697.1,96.7 L697.2,95.8 L697.3,94.8 L697.4,93.8 L697.5,92.8 L697.6,91.9 L697.7,90.9 L697.8,89.9 L697.9,88.9 L698.0,88.0 L698.1,87.0 L698.2,86.1 L698.3,85.3 L698.4,84.6 L698.5,83.9 L698.6,83.1 L698.7,82.7 L698.8,82.5 L698.9,82.2 L699.0,82.0 L699.1,82.1 L699.2,82.3 L699.3,82.5 L699.3,82.7 L699.4,83.1 L699.5,83.7 L699.6,84.3 L699.7,84.9 L699.8,85.4 L699.9,86.0 L700.0,86.6 L700.1,87.2 L700.2,87.8 L700.3,88.3 L700.4,88.9 L700.5,89.3 L700.6,89.8 L700.7,90.2 L700.8,90.6 L700.9,91.1 L701.0,91.5 L701.1,92.0 L701.2,92.4 L701.3,92.9 L701.4,93.3 L701.5,93.5 L701.6,93.0 L701.7,92.6 L701.8,92.1 L701.9,91.6 L702.0,91.2 L702.1,90.7 L702.2,90.2 L702.3,89.7 L702.4,89.3 L702.5,88.8 L702.6,88.3 L702.7,87.8 L702.8,87.2 L702.9,86.7 L703.0,86.1 L703.1,85.5 L703.2,84.9 L703.3,84.3 L703.4,83.7 L703.5,83.1 L703.6,82.9 L703.7,82.7 L703.8,82.5 L703.9,82.3 L704.0,82.5 L704.1,82.7 L704.2,82.9 L704.3,83.1 L704.4,84.6 L704.5,86.0 L704.6,87.4 L704.7,88.8 L704.8,90.2 L704.9,91.9 L705.0,93.5 L705.1,95.1 L705.2,96.8 L705.3,98.4 L705.4,100.0 L705.5,102.2 L705.6,104.4 L705.7,106.7 L705.8,108.9 L705.9,111.2 L706.0,113.4 L706.1,115.9 L706.2,118.5 L706.3,121.1 L706.4,123.7 L706.5,125.7 L706.6,126.0 L706.7,126.4 L706.8,126.7 L706.9,127.0 L707.0,127.1 L707.1,127.2 L707.2,127.3 L707.3,127.3 L707.4,127.4 L707.5,127.4 L707.6,127.3 L707.7,127.3 L707.8,127.2 L707.9,127.2 L708.0,127.1 L708.1,126.6 L708.2,126.1 L708.3,125.7 L708.4,125.1 L708.5,124.2 L708.6,123.3 L708.7,122.4 L708.8,121.5 L708.9,120.6 L709.0,119.7 L709.1,118.6 L709.2,117.5 L709.2,116.4 L709.3,115.2 L709.4,114.1 L709.5,113.0 L709.6,112.0 L709.7,111.1 L709.8,110.2 L709.9,109.3 L710.0,108.3 L710.1,107.4 L710.2,106.5 L710.3,105.6 L710.4,104.7 L710.5,103.8 L710.6,102.8 L710.7,101.8 L710.8,100.8 L710.9,99.8 L711.0,98.8 L711.1,97.9 L711.2,96.9 L711.3,95.9 L711.4,94.9 L711.5,93.9 L711.6,92.9 L711.7,91.9 L711.8,90.9 L711.9,89.9 L712.0,88.9 L712.1,87.9 L712.2,86.8 L712.3,85.9 L712.4,85.1 L712.5,84.3 L712.6,83.5 L712.7,82.7 L712.8,82.2 L712.9,81.9 L713.0,81.7 L713.1,81.5 L713.2,81.4 L713.3,81.6 L713.4,81.9 L713.5,82.1 L713.6,82.4 L713.7,83.1 L713.8,83.7 L713.9,84.3 L714.0,84.9 L714.1,85.6 L714.2,86.2 L714.3,86.8 L714.4,87.4 L714.5,88.1 L714.6,88.7 L714.7,89.1 L714.8,89.6 L714.9,90.1 L715.0,90.6 L715.1,91.0 L715.2,91.5 L715.3,92.0 L715.4,92.5 L715.5,93.0 L715.6,93.4 L715.7,93.8 L715.8,93.3 L715.9,92.8 L716.0,92.3 L716.1,91.8 L716.2,91.3 L716.3,90.7 L716.4,90.2 L716.5,89.7 L716.6,89.2 L716.7,88.7 L716.8,88.2 L716.9,87.6 L717.0,87.0 L717.1,86.3 L717.2,85.7 L717.3,85.0 L717.4,84.3 L717.5,83.7 L717.6,83.0 L717.7,82.3 L717.8,82.0 L717.9,81.8 L718.0,81.6 L718.1,81.3 L718.2,81.5 L718.3,81.7 L718.4,81.9 L718.5,82.1 L718.6,83.4 L718.7,84.9 L718.8,86.4 L718.9,87.8 L719.0,89.3 L719.0,91.0 L719.1,92.7 L719.2,94.4 L719.3,96.1 L719.4,97.8 L719.5,99.6 L719.6,101.7 L719.7,104.1 L719.8,106.4 L719.9,108.8 L720.0,111.1 L720.1,113.4 L720.2,116.0 L720.3,118.8 L720.4,121.5 L720.5,124.2 L720.6,126.7 L720.7,127.1 L720.8,127.5 L720.9,127.9 L721.0,128.2 L721.1,128.3 L721.2,128.4 L721.3,128.4 L721.4,128.5 L721.5,128.5 L721.6,128.5 L721.7,128.4 L721.8,128.4 L721.9,128.3 L722.0,128.2 L722.1,128.1 L722.2,127.6 L722.3,127.1 L722.4,126.6 L722.5,126.1 L722.6,125.2 L722.7,124.2 L722.8,123.3 L722.9,122.3 L723.0,121.4 L723.1,120.4 L723.2,119.3 L723.3,118.2 L723.4,117.0 L723.5,115.8 L723.6,114.7 L723.7,113.5 L723.8,112.4 L723.9,111.5 L724.0,110.5 L724.1,109.6 L724.2,108.6 L724.3,107.7 L724.4,106.8 L724.5,105.8 L724.6,104.9 L724.7,103.9 L724.8,102.9 L724.9,101.9 L725.0,100.9 L725.1,99.9 L725.2,98.9 L725.3,97.9 L725.4,96.9 L725.5,95.9 L725.6,94.9 L725.7,93.9 L725.8,92.9 L725.9,91.8 L726.0,90.8 L726.1,89.8 L726.2,88.8 L726.3,87.8 L726.4,86.7 L726.5,85.7 L726.6,84.9 L726.7,84.1 L726.8,83.4 L726.9,82.6 L727.0,81.9 L727.1,81.7 L727.2,81.4 L727.3,81.2 L727.4,81.0 L727.5,81.3 L727.6,81.5 L727.7,81.7 L727.8,82.0 L727.9,82.6 L728.0,83.3 L728.1,83.9 L728.2,84.6 L728.3,85.2 L728.4,85.9 L728.5,86.6 L728.6,87.2 L728.7,87.9 L728.8,88.5 L728.9,89.0 L728.9,89.5 L729.0,90.0 L729.1,90.5 L729.2,91.0 L729.3,91.5 L729.4,92.0 L729.5,92.5 L729.6,93.0 L729.7,93.5 L729.8,94.0 L729.9,93.6 L730.0,93.0 L730.1,92.4 L730.2,91.9 L730.3,91.3 L730.4,90.7 L730.5,90.1 L730.6,89.6 L730.7,89.0 L730.8,88.4 L730.9,87.8 L731.0,87.3 L731.1,86.5 L731.2,85.8 L731.3,85.0 L731.4,84.3 L731.5,83.5 L731.6,82.8 L731.7,82.0 L731.8,81.2 L731.9,80.9 L732.0,80.6 L732.1,80.4 L732.2,80.2 L732.3,80.2 L732.4,80.5 L732.5,80.7 L732.6,80.9 L732.7,81.9 L732.8,83.4 L732.9,84.9 L733.0,86.4 L733.1,87.8 L733.2,89.4 L733.3,91.1 L733.4,92.8 L733.5,94.5 L733.6,96.2 L733.7,97.9 L733.8,99.9 L733.9,102.2 L734.0,104.5 L734.1,106.8 L734.2,109.0 L734.3,111.3 L734.4,113.8 L734.5,116.4 L734.6,119.1 L734.7,121.7 L734.8,124.4 L734.9,124.9 L735.0,125.3 L735.1,125.7 L735.2,126.0 L735.3,126.1 L735.4,126.2 L735.5,126.2 L735.6,126.3 L735.7,126.3 L735.8,126.4 L735.9,126.3 L736.0,126.2 L736.1,126.1 L736.2,126.0 L736.3,126.0 L736.4,125.6 L736.5,125.1 L736.6,124.6 L736.7,124.1 L736.8,123.3 L736.9,122.4 L737.0,121.5 L737.1,120.5 L737.2,119.6 L737.3,118.7 L737.4,117.6 L737.5,116.5 L737.6,115.4 L737.7,114.2 L737.8,113.1 L737.9,112.0 L738.0,110.9 L738.1,109.9 L738.2,109.0 L738.3,108.1 L738.4,107.2 L738.5,106.2 L738.6,105.3 L738.7,104.4 L738.8,103.5 L738.8,102.6 L738.9,101.6 L739.0,100.6 L739.1,99.6 L739.2,98.6 L739.3,97.6 L739.4,96.6 L739.5,95.7 L739.6,94.7 L739.7,93.7 L739.8,92.7 L739.9,91.7 L740.0,90.7 L740.1,89.7 L740.2,88.7 L740.3,87.7 L740.4,86.6 L740.5,85.6 L740.6,84.6 L740.7,83.8 L740.8,83.0 L740.9,82.2 L741.0,81.5 L741.1,80.7 L741.2,80.5 L741.3,80.3 L741.4,80.1 L741.5,79.9 L741.6,80.1 L741.7,80.4 L741.8,80.6 L741.9,80.9 L742.0,81.6 L742.1,82.3 L742.2,83.1 L742.3,83.8 L742.4,84.6 L742.5,85.3 L742.6,86.0 L742.7,86.8 L742.8,87.5 L742.9,88.2 L743.0,88.8 L743.1,89.3 L743.2,89.9 L743.3,90.4 L743.4,91.0 L743.5,91.5 L743.6,92.0 L743.7,92.6 L743.8,93.1 L743.9,93.6 L744.0,94.2 L744.1,93.9 L744.2,93.3 L744.3,92.7 L744.4,92.1 L744.5,91.5 L744.6,90.9 L744.7,90.3 L744.8,89.7 L744.9,89.1 L745.0,88.5 L745.1,87.9 L745.2,87.3 L745.3,86.6 L745.4,85.8 L745.5,85.0 L745.6,84.2 L745.7,83.5 L745.8,82.7 L745.9,81.9 L746.0,81.1 L746.1,80.6 L746.2,80.4 L746.3,80.2 L746.4,80.0 L746.5,80.0 L746.6,80.2 L746.7,80.5 L746.8,80.7 L746.9,81.5 L747.0,82.9 L747.1,84.4 L747.2,85.8 L747.3,87.3 L747.4,88.8 L747.5,90.4 L747.6,92.1 L747.7,93.7 L747.8,95.4 L747.9,97.0 L748.0,98.8 L748.1,101.1 L748.2,103.3 L748.3,105.5 L748.4,107.7 L748.5,110.0 L748.6,112.3 L748.7,114.8 L748.7,117.4 L748.8,119.9 L748.9,122.5 L749.0,123.4 L749.1,123.8 L749.2,124.1 L749.3,124.5 L749.4,124.6 L749.5,124.7 L749.6,124.8 L749.7,124.9 L749.8,125.0 L749.9,125.0 L750.0,125.0 L750.1,124.9 L750.2,124.9 L750.3,124.8 L750.4,124.7 L750.5,124.5 L750.6,124.0 L750.7,123.6 L750.8,123.2 L750.9,122.5 L751.0,121.7 L751.1,120.8 L751.2,120.0 L751.3,119.2 L751.4,118.3 L751.5,117.4 L751.6,116.3 L751.7,115.3 L751.8,114.3 L751.9,113.2 L752.0,112.2 L752.1,111.1 L752.2,110.3 L752.3,109.4 L752.4,108.6 L752.5,107.8 L752.6,106.9 L752.7,106.1 L752.8,105.3 L752.9,104.4 L753.0,103.6 L753.1,102.7 L753.2,101.8 L753.3,100.9 L753.4,100.0 L753.5,99.1 L753.6,98.2 L753.7,97.3 L753.8,96.4 L753.9,95.5 L754.0,94.6 L754.1,93.7 L754.2,92.8 L754.3,91.9 L754.4,91.0 L754.5,90.0 L754.6,89.1 L754.7,88.2 L754.8,87.3 L754.9,86.5 L755.0,85.8 L755.1,85.2 L755.2,84.5 L755.3,83.8 L755.4,83.5 L755.5,83.3 L755.6,83.1 L755.7,82.9 L755.8,83.0 L755.9,83.3 L756.0,83.6 L756.1,83.8 L756.2,84.3 L756.3,84.9 L756.4,85.5 L756.5,86.1 L756.6,86.7 L756.7,87.3 L756.8,87.9 L756.9,88.4 L757.0,89.0 L757.1,89.6 L757.2,90.1 L757.3,90.5 L757.4,90.9 L757.5,91.4 L757.6,91.8 L757.7,92.2 L757.8,92.6 L757.9,93.1 L758.0,93.5 L758.1,93.9 L758.2,94.3 L758.3,94.2 L758.4,93.7 L758.5,93.2 L758.6,92.7 L758.6,92.2 L758.7,91.7 L758.8,91.2 L758.9,90.7 L759.0,90.2 L759.1,89.7 L759.2,89.2 L759.3,88.7 L759.4,88.2 L759.5,87.6 L759.6,86.9 L759.7,86.3 L759.8,85.7 L759.9,85.1 L760.0,84.5 L760.1,83.9 L760.2,83.4 L760.3,83.2 L760.4,83.0 L760.5,82.8 L760.6,82.7 L760.7,82.9 L760.8,83.2 L760.9,83.5 L761.0,84.0 L761.1,85.4 L761.2,86.8 L761.3,88.2 L761.4,89.6 L761.5,91.0 L761.6,92.6 L761.7,94.2 L761.8,95.8 L761.9,97.4 L762.0,99.0 L762.1,100.7 L762.2,102.9 L762.3,105.1 L762.4,107.3 L762.5,109.4 L762.6,111.6 L762.7,113.8 L762.8,116.3 L762.9,118.8 L763.0,121.3 L763.1,123.8 L763.2,125.2 L763.3,125.5 L763.4,125.9 L763.5,126.2 L763.6,126.4 L763.7,126.5 L763.8,126.6 L763.9,126.7 L764.0,126.7 L764.1,126.8 L764.2,126.8 L764.3,126.7 L764.4,126.7 L764.5,126.6 L764.6,126.5 L764.7,126.3 L764.8,125.9 L764.9,125.5 L765.0,125.1 L765.1,124.6 L765.2,123.8 L765.3,123.0 L765.4,122.2 L765.5,121.4 L765.6,120.6 L765.7,119.7 L765.8,118.7 L765.9,117.7 L766.0,116.8 L766.1,115.8 L766.2,114.8 L766.3,113.8 L766.4,113.0 L766.5,112.2 L766.6,111.4 L766.7,110.6 L766.8,109.8 L766.9,109.0 L767.0,108.2 L767.1,107.4 L767.2,106.6 L767.3,105.8 L767.4,105.0 L767.5,104.1 L767.6,103.3 L767.7,102.4 L767.8,101.6 L767.9,100.8 L768.0,99.9 L768.1,99.1 L768.2,98.2 L768.3,97.4 L768.4,96.5 L768.5,95.7 L768.5,94.8 L768.6,94.0 L768.7,93.1 L768.8,92.3 L768.9,91.4 L769.0,90.7 L769.1,90.0 L769.2,89.4 L769.3,88.8 L769.4,88.2 L769.5,87.8 L769.6,87.6 L769.7,87.4 L769.8,87.2 L769.9,87.3 L770.0,87.5 L770.1,87.7 L770.2,88.0 L770.3,88.2 L770.4,88.6 L770.5,88.9 L770.6,89.2 L770.7,89.6 L770.8,89.9 L770.9,90.2 L771.0,90.6 L771.1,90.9 L771.2,91.3 L771.3,91.6 L771.4,91.9 L771.5,92.2 L771.6,92.4 L771.7,92.7 L771.8,93.0 L771.9,93.3 L772.0,93.6 L772.1,93.9 L772.2,94.2 L772.3,94.5 L772.4,94.6 L772.5,94.2 L772.6,93.8 L772.7,93.5 L772.8,93.1 L772.9,92.7 L773.0,92.3 L773.1,92.0 L773.2,91.6 L773.3,91.2 L773.4,90.9 L773.5,90.5 L773.6,90.1 L773.7,89.7 L773.8,89.3 L773.9,88.9 L774.0,88.4 L774.1,88.0 L774.2,87.6 L774.3,87.2 L774.4,86.8 L774.5,86.6 L774.6,86.4 L774.7,86.1 L774.8,85.9 L774.9,86.1 L775.0,86.3 L775.1,86.5 L775.2,86.8 L775.3,88.1 L775.4,89.4 L775.5,90.7 L775.6,92.0 L775.7,93.3 L775.8,94.8 L775.9,96.4 L776.0,97.9 L776.1,99.4 L776.2,100.9 L776.3,102.5 L776.4,104.6 L776.5,106.7 L776.6,108.8 L776.7,110.9 L776.8,113.0 L776.9,115.1 L777.0,117.5 L777.1,120.0 L777.2,122.5 L777.3,124.9 L777.4,126.6 L777.5,127.0 L777.6,127.3 L777.7,127.7 L777.8,127.9 L777.9,128.0 L778.0,128.1 L778.1,128.2 L778.2,128.2 L778.3,128.2 L778.3,128.2 L778.4,128.1 L778.5,128.0 L778.6,127.9 L778.7,127.8 L778.8,127.7 L778.9,127.2 L779.0,126.7 L779.1,126.3 L779.2,125.8 L779.3,124.9 L779.4,124.0 L779.5,123.2 L779.6,122.3 L779.7,121.4 L779.8,120.5 L779.9,119.5 L780.0,118.4 L780.1,117.4 L780.2,116.3 L780.3,115.2 L780.4,114.2 L780.5,113.2 L780.6,112.4 L780.7,111.5 L780.8,110.6 L780.9,109.8 L781.0,108.9 L781.1,108.0 L781.2,107.2 L781.3,106.3 L781.4,105.4 L781.5,104.5 L781.6,103.6 L781.7,102.6 L781.8,101.7 L781.9,100.8 L782.0,99.9 L782.1,98.9 L782.2,98.0 L782.3,97.1 L782.4,96.1 L782.5,95.2 L782.6,94.3 L782.7,93.3 L782.8,92.4 L782.9,91.5 L783.0,90.5 L783.1,89.6 L783.2,88.7 L783.3,88.0 L783.4,87.3 L783.5,86.5 L783.6,85.8 L783.7,85.3 L783.8,85.1 L783.9,84.8 L784.0,84.6 L784.1,84.5 L784.2,84.7 L784.3,85.0 L784.4,85.2 L784.5,85.6 L784.6,86.1 L784.7,86.6 L784.8,87.1 L784.9,87.6 L785.0,88.2 L785.1,88.7 L785.2,89.2 L785.3,89.7 L785.4,90.2 L785.5,90.7 L785.6,91.1 L785.7,91.5 L785.8,91.9 L785.9,92.3 L786.0,92.7 L786.1,93.1 L786.2,93.5 L786.3,93.8 L786.4,94.2 L786.5,94.6 L786.6,94.9 L786.7,94.4 L786.8,93.9 L786.9,93.4 L787.0,92.8 L787.1,92.3 L787.2,91.8 L787.3,91.3 L787.4,90.8 L787.5,90.3 L787.6,89.8 L787.7,89.2 L787.8,88.7 L787.9,88.0 L788.0,87.4 L788.1,86.7 L788.2,86.0 L788.2,85.3 L788.3,84.6 L788.4,84.0 L788.5,83.3 L788.6,83.0 L788.7,82.7 L788.8,82.5 L788.9,82.3 L789.0,82.5 L789.1,82.7 L789.2,82.9 L789.3,83.2 L789.4,84.4 L789.5,85.7 L789.6,87.1 L789.7,88.5 L789.8,89.8 L789.9,91.3 L790.0,92.9 L790.1,94.5 L790.2,96.0 L790.3,97.6 L790.4,99.1 L790.5,101.1 L790.6,103.3 L790.7,105.4 L790.8,107.5 L790.9,109.6 L791.0,111.7 L791.1,114.1 L791.2,116.5 L791.3,118.9 L791.4,121.4 L791.5,123.5 L791.6,123.8 L791.7,124.1 L791.8,124.4 L791.9,124.7 L792.0,124.7 L792.1,124.7 L792.2,124.8 L792.3,124.8 L792.4,124.9 L792.5,124.9 L792.6,124.8 L792.7,124.8 L792.8,124.7 L792.9,124.6 L793.0,124.6 L793.1,124.2 L793.2,123.8 L793.3,123.4 L793.4,123.0 L793.5,122.2 L793.6,121.5 L793.7,120.7 L793.8,119.9 L793.9,119.2 L794.0,118.4 L794.1,117.5 L794.2,116.5 L794.3,115.6 L794.4,114.6 L794.5,113.7 L794.6,112.7 L794.7,111.8 L794.8,111.1 L794.9,110.3 L795.0,109.5 L795.1,108.8 L795.2,108.0 L795.3,107.3 L795.4,106.5 L795.5,105.7 L795.6,105.0 L795.7,104.1 L795.8,103.3 L795.9,102.5 L796.0,101.7 L796.1,100.9 L796.2,100.1 L796.3,99.3 L796.4,98.4 L796.5,97.6 L796.6,96.8 L796.7,96.0 L796.8,95.2 L796.9,94.3 L797.0,93.5 L797.1,92.7 L797.2,91.8 L797.3,91.0 L797.4,90.2 L797.5,89.6 L797.6,89.0 L797.7,88.4 L797.8,87.8 L797.9,87.3 L798.0,87.1 L798.1,86.9 L798.1,86.7 L798.2,86.6 L798.3,86.8 L798.4,87.1 L798.5,87.3 L798.6,87.5 L798.7,87.9 L798.8,88.3 L798.9,88.7 L799.0,89.0 L799.1,89.4 L799.2,89.8 L799.3,90.2 L799.4,90.6 L799.5,91.0 L799.6,91.4 L799.7,91.7 L799.8,92.1 L799.9,92.4 L800.0,92.7 L800.1,93.1 L800.2,93.4 L800.3,93.8 L800.4,94.1 L800.5,94.5 L800.6,94.8 L800.7,95.2 L800.8,94.6 L800.9,94.1 L801.0,93.6 L801.1,93.0 L801.2,92.5 L801.3,92.0 L801.4,91.5 L801.5,90.9 L801.6,90.4 L801.7,89.9 L801.8,89.3 L801.9,88.8 L802.0,88.1 L802.1,87.4 L802.2,86.8 L802.3,86.1 L802.4,85.4 L802.5,84.7 L802.6,84.0 L802.7,83.3 L802.8,83.0 L802.9,82.8 L803.0,82.5 L803.1,82.3 L803.2,82.4 L803.3,82.6 L803.4,82.9 L803.5,83.1 L803.6,84.1 L803.7,85.4 L803.8,86.8 L803.9,88.1 L804.0,89.5 L804.1,91.0 L804.2,92.5 L804.3,94.1 L804.4,95.6 L804.5,97.2 L804.6,98.8 L804.7,100.7 L804.8,102.8 L804.9,104.9 L805.0,107.0 L805.1,109.2 L805.2,111.3 L805.3,113.6 L805.4,116.1 L805.5,118.5 L805.6,121.0 L805.7,123.5 L805.8,123.8 L805.9,124.2 L806.0,124.5 L806.1,124.8 L806.2,124.9 L806.3,125.0 L806.4,125.1 L806.5,125.1 L806.6,125.2 L806.7,125.2 L806.8,125.1 L806.9,125.0 L807.0,124.9 L807.1,124.9 L807.2,124.8 L807.3,124.4 L807.4,124.0 L807.5,123.5 L807.6,123.1 L807.7,122.3 L807.8,121.5 L807.9,120.6 L808.0,119.8 L808.0,119.0 L808.1,118.1 L808.2,117.1 L808.3,116.1 L808.4,115.1 L808.5,114.0 L808.6,113.0 L808.7,112.0 L808.8,111.0 L808.9,110.1 L809.0,109.3 L809.1,108.4 L809.2,107.6 L809.3,106.7 L809.4,105.8 L809.5,105.0 L809.6,104.1 L809.7,103.3 L809.8,102.4 L809.9,101.5 L810.0,100.5 L810.1,99.6 L810.2,98.7 L810.3,97.8 L810.4,96.9 L810.5,95.9 L810.6,95.0 L810.7,94.1 L810.8,93.1 L810.9,92.2 L811.0,91.3 L811.1,90.3 L811.2,89.4 L811.3,88.4 L811.4,87.5 L811.5,86.5 L811.6,85.8 L811.7,85.1 L811.8,84.3 L811.9,83.6 L812.0,82.9 L812.1,82.7 L812.2,82.4 L812.3,82.2 L812.4,82.0 L812.5,82.2 L812.6,82.5 L812.7,82.7 L812.8,82.9 L812.9,83.6 L813.0,84.3 L813.1,85.0 L813.2,85.6 L813.3,86.3 L813.4,87.0 L813.5,87.6 L813.6,88.3 L813.7,89.0 L813.8,89.6 L813.9,90.1 L814.0,90.6 L814.1,91.1 L814.2,91.6 L814.3,92.1 L814.4,92.6 L814.5,93.1 L814.6,93.6 L814.7,94.1 L814.8,94.6 L814.9,95.0 L815.0,94.7 L815.1,94.2 L815.2,93.6 L815.3,93.1 L815.4,92.5 L815.5,92.0 L815.6,91.4 L815.7,90.9 L815.8,90.4 L815.9,89.8 L816.0,89.3 L816.1,88.7 L816.2,88.1 L816.3,87.4 L816.4,86.7 L816.5,86.0 L816.6,85.3 L816.7,84.6 L816.8,83.9 L816.9,83.2 L817.0,82.7 L817.1,82.5 L817.2,82.3 L817.3,82.0 L817.4,82.1 L817.5,82.3 L817.6,82.5 L817.7,82.7 L817.8,83.5 L817.9,84.8 L817.9,86.1 L818.0,87.4 L818.1,88.7 L818.2,90.1 L818.3,91.6 L818.4,93.1 L818.5,94.6 L818.6,96.1 L818.7,97.6 L818.8,99.3 L818.9,101.3 L819.0,103.4 L819.1,105.4 L819.2,107.5 L819.3,109.5 L819.4,111.7 L819.5,114.0 L819.6,116.4 L819.7,118.7 L819.8,121.1 L819.9,121.8 L820.0,122.1 L820.1,122.4 L820.2,122.7 L820.3,122.8 L820.4,122.9 L820.5,122.9 L820.6,123.0 L820.7,123.0 L820.8,123.1 L820.9,123.0 L821.0,122.9 L821.1,122.9 L821.2,122.8 L821.3,122.7 L821.4,122.4 L821.5,122.0 L821.6,121.6 L821.7,121.2 L821.8,120.6 L821.9,119.8 L822.0,119.0 L822.1,118.2 L822.2,117.4 L822.3,116.6 L822.4,115.8 L822.5,114.8 L822.6,113.8 L822.7,112.8 L822.8,111.9 L822.9,110.9 L823.0,110.0 L823.1,109.2 L823.2,108.4 L823.3,107.6 L823.4,106.8 L823.5,106.0 L823.6,105.3 L823.7,104.5 L823.8,103.7 L823.9,102.9 L824.0,102.1 L824.1,101.3 L824.2,100.4 L824.3,99.6 L824.4,98.8 L824.5,97.9 L824.6,97.1 L824.7,96.3 L824.8,95.4 L824.9,94.6 L825.0,93.8 L825.1,92.9 L825.2,92.1 L825.3,91.2 L825.4,90.4 L825.5,89.6 L825.6,88.7 L825.7,87.9 L825.8,87.2 L825.9,86.6 L826.0,86.0 L826.1,85.3 L826.2,84.7 L826.3,84.5 L826.4,84.3 L826.5,84.0 L826.6,83.8 L826.7,84.0 L826.8,84.2 L826.9,84.5 L827.0,84.7 L827.1,85.2 L827.2,85.8 L827.3,86.3 L827.4,86.9 L827.5,87.5 L827.6,88.0 L827.7,88.6 L827.7,89.1 L827.8,89.7 L827.9,90.2 L828.0,90.7 L828.1,91.1 L828.2,91.6 L828.3,92.0 L828.4,92.4 L828.5,92.8 L828.6,93.2 L828.7,93.7 L828.8,94.1 L828.9,94.5 L829.0,94.9 L829.1,94.7 L829.2,94.2 L829.3,93.6 L829.4,93.0 L829.5,92.5 L829.6,91.9 L829.7,91.3 L829.8,90.8 L829.9,90.2 L830.0,89.6 L830.1,89.1 L830.2,88.5 L830.3,87.9 L830.4,87.1 L830.5,86.4 L830.6,85.6 L830.7,84.9 L830.8,84.2 L830.9,83.4 L831.0,82.7 L831.1,82.2 L831.2,81.9 L831.3,81.7 L831.4,81.5 L831.5,81.4 L831.6,81.6 L831.7,81.8 L831.8,82.0 L831.9,82.6 L832.0,83.9 L832.1,85.2 L832.2,86.5 L832.3,87.8 L832.4,89.1 L832.5,90.6 L832.6,92.1 L832.7,93.6 L832.8,95.2 L832.9,96.7 L833.0,98.3 L833.1,100.3 L833.2,102.4 L833.3,104.5 L833.4,106.5 L833.5,108.6 L833.6,110.7 L833.7,113.1 L833.8,115.4 L833.9,117.8 L834.0,120.2 L834.1,121.3 L834.2,121.6 L834.3,122.0 L834.4,122.3 L834.5,122.5 L834.6,122.5 L834.7,122.6 L834.8,122.6 L834.9,122.7 L835.0,122.8 L835.1,122.7 L835.2,122.6 L835.3,122.6 L835.4,122.5 L835.5,122.4 L835.6,122.2 L835.7,121.8 L835.8,121.5 L835.9,121.1 L836.0,120.5 L836.1,119.8 L836.2,119.0 L836.3,118.3 L836.4,117.5 L836.5,116.8 L836.6,116.0 L836.7,115.0 L836.8,114.1 L836.9,113.2 L837.0,112.3 L837.1,111.3 L837.2,110.4 L837.3,109.6 L837.4,108.9 L837.5,108.1 L837.6,107.4 L837.6,106.6 L837.7,105.9 L837.8,105.1 L837.9,104.4 L838.0,103.6 L838.1,102.8 L838.2,102.0 L838.3,101.2 L838.4,100.4 L838.5,99.6 L838.6,98.8 L838.7,98.0 L838.8,97.2 L838.9,96.4 L839.0,95.6 L839.1,94.8 L839.2,94.0 L839.3,93.2 L839.4,92.4 L839.5,91.6 L839.6,90.8 L839.7,89.9 L839.8,89.1 L839.9,88.4 L840.0,87.8 L840.1,87.2 L840.2,86.7 L840.3,86.1 L840.4,85.8 L840.5,85.5 L840.6,85.3 L840.7,85.1 L840.8,85.2 L840.9,85.4 L841.0,85.6 L841.1,85.9 L841.2,86.2 L841.3,86.7 L841.4,87.2 L841.5,87.7 L841.6,88.2 L841.7,88.6 L841.8,89.1 L841.9,89.6 L842.0,90.1 L842.1,90.6 L842.2,91.0 L842.3,91.4 L842.4,91.8 L842.5,92.1 L842.6,92.5 L842.7,92.9 L842.8,93.3 L842.9,93.7 L843.0,94.0 L843.1,94.4 L843.2,94.8 L843.3,94.8 L843.4,94.1 L843.5,93.5 L843.6,92.9 L843.7,92.3 L843.8,91.7 L843.9,91.1 L844.0,90.5 L844.1,89.9 L844.2,89.3 L844.3,88.6 L844.4,88.0 L844.5,87.3 L844.6,86.5 L844.7,85.7 L844.8,84.9 L844.9,84.1 L845.0,83.3 L845.1,82.5 L845.2,81.7 L845.3,81.0 L845.4,80.7 L845.5,80.5 L845.6,80.3 L845.7,80.1 L845.8,80.4 L845.9,80.6 L846.0,80.8 L846.1,81.2 L846.2,82.6 L846.3,83.9 L846.4,85.2 L846.5,86.6 L846.6,87.9 L846.7,89.5 L846.8,91.0 L846.9,92.6 L847.0,94.1 L847.1,95.7 L847.2,97.2 L847.3,99.4 L847.4,101.5 L847.5,103.6 L847.5,105.7 L847.6,107.8 L847.7,109.9 L847.8,112.3 L847.9,114.8 L848.0,117.2 L848.1,119.7 L848.2,121.2 L848.3,121.5 L848.4,121.9 L848.5,122.2 L848.6,122.4 L848.7,122.5 L848.8,122.6 L848.9,122.6 L849.0,122.7 L849.1,122.8 L849.2,122.7 L849.3,122.6 L849.4,122.6 L849.5,122.5 L849.6,122.4 L849.7,122.3 L849.8,121.9 L849.9,121.5 L850.0,121.1 L850.1,120.7 L850.2,119.9 L850.3,119.2 L850.4,118.4 L850.5,117.6 L850.6,116.9 L850.7,116.1 L850.8,115.2 L850.9,114.2 L851.0,113.3 L851.1,112.4 L851.2,111.4 L851.3,110.5 L851.4,109.7 L851.5,108.9 L851.6,108.2 L851.7,107.4 L851.8,106.6 L851.9,105.9 L852.0,105.1 L852.1,104.4 L852.2,103.6 L852.3,102.8 L852.4,102.0 L852.5,101.2 L852.6,100.4 L852.7,99.6 L852.8,98.7 L852.9,97.9 L853.0,97.1 L853.1,96.3 L853.2,95.5 L853.3,94.6 L853.4,93.8 L853.5,93.0 L853.6,92.2 L853.7,91.3 L853.8,90.5 L853.9,89.6 L854.0,88.8 L854.1,88.1 L854.2,87.4 L854.3,86.8 L854.4,86.2 L854.5,85.6 L854.6,85.2 L854.7,85.0 L854.8,84.7 L854.9,84.5 L855.0,84.5 L855.1,84.7 L855.2,85.0 L855.3,85.2 L855.4,85.5 L855.5,86.0 L855.6,86.6 L855.7,87.1 L855.8,87.6 L855.9,88.1 L856.0,88.6 L856.1,89.1 L856.2,89.6 L856.3,90.2 L856.4,90.6 L856.5,91.0 L856.6,91.4 L856.7,91.8 L856.8,92.2 L856.9,92.6 L857.0,93.0 L857.1,93.4 L857.2,93.8 L857.3,94.2 L857.4,94.7 L857.4,94.8 L857.5,94.2 L857.6,93.6 L857.7,93.0 L857.8,92.4 L857.9,91.7 L858.0,91.1 L858.1,90.5 L858.2,89.9 L858.3,89.3 L858.4,88.7 L858.5,88.1 L858.6,87.4 L858.7,86.6 L858.8,85.8 L858.9,85.0 L859.0,84.2 L859.1,83.4 L859.2,82.6 L859.3,81.8 L859.4,81.0 L859.5,80.8 L859.6,80.6 L859.7,80.3 L859.8,80.1 L859.9,80.4 L860.0,80.6 L860.1,80.8 L860.2,81.1 L860.3,82.3 L860.4,83.7 L860.5,85.0 L860.6,86.3 L860.7,87.7 L860.8,89.2 L860.9,90.7 L861.0,92.3 L861.1,93.8 L861.2,95.4 L861.3,96.9 L861.4,98.9 L861.5,101.0 L861.6,103.1 L861.7,105.2 L861.8,107.3 L861.9,109.4 L862.0,111.7 L862.1,114.1 L862.2,116.6 L862.3,119.0 L862.4,120.9 L862.5,121.2 L862.6,121.5 L862.7,121.9 L862.8,122.1 L862.9,122.2 L863.0,122.3 L863.1,122.3 L863.2,122.4 L863.3,122.5 L863.4,122.4 L863.5,122.4 L863.6,122.3 L863.7,122.2 L863.8,122.2 L863.9,122.1 L864.0,121.7 L864.1,121.3 L864.2,120.9 L864.3,120.5 L864.4,119.7 L864.5,119.0 L864.6,118.2 L864.7,117.4 L864.8,116.7 L864.9,115.9 L865.0,115.0 L865.1,114.0 L865.2,113.1 L865.3,112.1 L865.4,111.2 L865.5,110.3 L865.6,109.4 L865.7,108.6 L865.8,107.9 L865.9,107.1 L866.0,106.3 L866.1,105.6 L866.2,104.8 L866.3,104.0 L866.4,103.3 L866.5,102.5 L866.6,101.7 L866.7,100.9 L866.8,100.0 L866.9,99.2 L867.0,98.4 L867.1,97.6 L867.2,96.7 L867.3,95.9 L867.3,95.1 L867.4,94.3 L867.5,93.4 L867.6,92.6 L867.7,91.8 L867.8,90.9 L867.9,90.1 L868.0,89.2 L868.1,88.4 L868.2,87.6 L868.3,87.0 L868.4,86.3 L868.5,85.7 L868.6,85.1 L868.7,84.6 L868.8,84.4 L868.9,84.2 L869.0,84.0 L869.1,83.9 L869.2,84.1 L869.3,84.3 L869.4,84.6 L869.5,84.9 L869.6,85.4 L869.7,86.0 L869.8,86.5 L869.9,87.1 L870.0,87.6 L870.1,88.2 L870.2,88.7 L870.3,89.3 L870.4,89.8 L870.5,90.3 L870.6,90.8 L870.7,91.2 L870.8,91.6 L870.9,92.0 L871.0,92.4 L871.1,92.8 L871.2,93.3 L871.3,93.7 L871.4,94.1 L871.5,94.5 L871.6,94.9 L871.7,94.3 L871.8,93.7 L871.9,93.1 L872.0,92.5 L872.1,91.9 L872.2,91.3 L872.3,90.7 L872.4,90.2 L872.5,89.6 L872.6,89.0 L872.7,88.4 L872.8,87.8 L872.9,87.1 L873.0,86.3 L873.1,85.5 L873.2,84.8 L873.3,84.0 L873.4,83.3 L873.5,82.5 L873.6,81.7 L873.7,81.4 L873.8,81.2 L873.9,81.0 L874.0,80.8 L874.1,80.9 L874.2,81.1 L874.3,81.4 L874.4,81.6 L874.5,82.6 L874.6,83.9 L874.7,85.2 L874.8,86.5 L874.9,87.8 L875.0,89.3 L875.1,90.8 L875.2,92.3 L875.3,93.8 L875.4,95.3 L875.5,96.8 L875.6,98.7 L875.7,100.7 L875.8,102.8 L875.9,104.8 L876.0,106.9 L876.1,108.9 L876.2,111.2 L876.3,113.6 L876.4,115.9 L876.5,118.3 L876.6,120.5 L876.7,120.9 L876.8,121.2 L876.9,121.5 L877.0,121.8 L877.1,121.9 L877.1,121.9 L877.2,122.0 L877.3,122.1 L877.4,122.1 L877.5,122.1 L877.6,122.1 L877.7,122.0 L877.8,121.9 L877.9,121.9 L878.0,121.8 L878.1,121.4 L878.2,121.1 L878.3,120.7 L878.4,120.3 L878.5,119.6 L878.6,118.9 L878.7,118.1 L878.8,117.4 L878.9,116.6 L879.0,115.9 L879.1,115.0 L879.2,114.1 L879.3,113.1 L879.4,112.2 L879.5,111.3 L879.6,110.4 L879.7,109.5 L879.8,108.7 L879.9,108.0 L880.0,107.3 L880.1,106.5 L880.2,105.8 L880.3,105.0 L880.4,104.3 L880.5,103.5 L880.6,102.8 L880.7,102.0 L880.8,101.2 L880.9,100.4 L881.0,99.6 L881.1,98.8 L881.2,98.0 L881.3,97.2 L881.4,96.3 L881.5,95.5 L881.6,94.7 L881.7,93.9 L881.8,93.1 L881.9,92.3 L882.0,91.5 L882.1,90.7 L882.2,89.8 L882.3,89.0 L882.4,88.2 L882.5,87.6 L882.6,87.0 L882.7,86.4 L882.8,85.8 L882.9,85.3 L883.0,85.1 L883.1,84.8 L883.2,84.6 L883.3,84.4 L883.4,84.7 L883.5,84.9 L883.6,85.1 L883.7,85.4 L883.8,85.9 L883.9,86.4 L884.0,86.9 L884.1,87.4 L884.2,87.9 L884.3,88.4 L884.4,88.9 L884.5,89.4 L884.6,89.9 L884.7,90.4 L884.8,90.8 L884.9,91.2 L885.0,91.6 L885.1,92.0 L885.2,92.4 L885.3,92.8 L885.4,93.2 L885.5,93.6 L885.6,94.0 L885.7,94.4 L885.8,94.8 L885.9,94.3 L886.0,93.7 L886.1,93.2 L886.2,92.6 L886.3,92.0 L886.4,91.4 L886.5,90.8 L886.6,90.2 L886.7,89.7 L886.8,89.1 L886.9,88.5 L887.0,87.9 L887.0,87.2 L887.1,86.4 L887.2,85.7 L887.3,84.9 L887.4,84.2 L887.5,83.4 L887.6,82.6 L887.7,81.9 L887.8,81.5 L887.9,81.2 L888.0,81.0 L888.1,80.8 L888.2,80.8 L888.3,81.0 L888.4,81.3 L888.5,81.5 L888.6,82.4 L888.7,83.7 L888.8,85.0 L888.9,86.2 L889.0,87.5 L889.1,89.0 L889.2,90.5 L889.3,92.0 L889.4,93.5 L889.5,95.0 L889.6,96.5 L889.7,98.3 L889.8,100.4 L889.9,102.4 L890.0,104.5 L890.1,106.6 L890.2,108.6 L890.3,110.9 L890.4,113.3 L890.5,115.6 L890.6,118.0 L890.7,120.4 L890.8,121.0 L890.9,121.3 L891.0,121.7 L891.1,122.0 L891.2,122.1 L891.3,122.2 L891.4,122.2 L891.5,122.3 L891.6,122.4 L891.7,122.4 L891.8,122.3 L891.9,122.3 L892.0,122.2 L892.1,122.2 L892.2,122.1 L892.3,121.8 L892.4,121.4 L892.5,121.0 L892.6,120.6 L892.7,120.0 L892.8,119.2 L892.9,118.5 L893.0,117.7 L893.1,117.0 L893.2,116.2 L893.3,115.3 L893.4,114.4 L893.5,113.5 L893.6,112.5 L893.7,111.6 L893.8,110.6 L893.9,109.7 L894.0,108.9 L894.1,108.2 L894.2,107.4 L894.3,106.6 L894.4,105.9 L894.5,105.1 L894.6,104.3 L894.7,103.6 L894.8,102.8 L894.9,102.0 L895.0,101.2 L895.1,100.3 L895.2,99.5 L895.3,98.7 L895.4,97.9 L895.5,97.1 L895.6,96.2 L895.7,95.4 L895.8,94.6 L895.9,93.7 L896.0,92.9 L896.1,92.1 L896.2,91.2 L896.3,90.4 L896.4,89.6 L896.5,88.7 L896.6,87.9 L896.7,87.2 L896.8,86.6 L896.9,86.0 L896.9,85.4 L897.0,84.7 L897.1,84.5 L897.2,84.3 L897.3,84.0 L897.4,83.8 L897.5,84.0 L897.6,84.2 L897.7,84.5 L897.8,84.7 L897.9,85.2 L898.0,85.7 L898.1,86.3 L898.2,86.8 L898.3,87.3 L898.4,87.9 L898.5,88.4 L898.6,89.0 L898.7,89.5 L898.8,90.0 L898.9,90.5 L899.0,90.9 L899.1,91.3 L899.2,91.7 L899.3,92.1 L899.4,92.6 L899.5,93.0 L899.6,93.4 L899.7,93.8 L899.8,94.2 L899.9,94.6 L900.0,94.3 L900.1,93.7 L900.2,93.1 L900.3,92.5 L900.4,91.9 L900.5,91.3 L900.6,90.7 L900.7,90.0 L900.8,89.4 L900.9,88.8 L901.0,88.2 L901.1,87.6 L901.2,86.8 L901.3,86.0 L901.4,85.2 L901.5,84.4 L901.6,83.6 L901.7,82.8 L901.8,82.0 L901.9,81.1 L902.0,80.6 L902.1,80.4 L902.2,80.1 L902.3,79.9 L902.4,79.9 L902.5,80.1 L902.6,80.3 L902.7,80.6 L902.8,81.3 L902.9,82.6 L903.0,83.9 L903.1,85.2 L903.2,86.6 L903.3,88.0 L903.4,89.5 L903.5,91.1 L903.6,92.6 L903.7,94.1 L903.8,95.7 L903.9,97.4 L904.0,99.5 L904.1,101.6 L904.2,103.7 L904.3,105.8 L904.4,107.9 L904.5,110.1 L904.6,112.5 L904.7,114.9 L904.8,117.3 L904.9,119.8 L905.0,120.7 L905.1,121.1 L905.2,121.4 L905.3,121.7 L905.4,121.9 L905.5,121.9 L905.6,122.0 L905.7,122.1 L905.8,122.1 L905.9,122.2 L906.0,122.1 L906.1,122.0 L906.2,122.0 L906.3,121.9 L906.4,121.8 L906.5,121.6 L906.6,121.2 L906.7,120.8 L906.8,120.4 L906.8,119.9 L906.9,119.1 L907.0,118.3 L907.1,117.6 L907.2,116.8 L907.3,116.0 L907.4,115.2 L907.5,114.2 L907.6,113.3 L907.7,112.4 L907.8,111.4 L907.9,110.5 L908.0,109.5 L908.1,108.8 L908.2,108.0 L908.3,107.2 L908.4,106.5 L908.5,105.7 L908.6,104.9 L908.7,104.2 L908.8,103.4 L908.9,102.6 L909.0,101.8 L909.1,101.0 L909.2,100.2 L909.3,99.4 L909.4,98.5 L909.5,97.7 L909.6,96.9 L909.7,96.1 L909.8,95.2 L909.9,94.4 L910.0,93.6 L910.1,92.7 L910.2,91.9 L910.3,91.1 L910.4,90.2 L910.5,89.4 L910.6,88.5 L910.7,87.7 L910.8,87.0 L910.9,86.4 L911.0,85.8 L911.1,85.2 L911.2,84.5 L911.3,84.2 L911.4,84.0 L911.5,83.8 L911.6,83.6 L911.7,83.7 L911.8,83.9 L911.9,84.2 L912.0,84.4 L912.1,84.9 L912.2,85.5 L912.3,86.0 L912.4,86.6 L912.5,87.1 L912.6,87.7 L912.7,88.2 L912.8,88.8 L912.9,89.3 L913.0,89.9 L913.1,90.3 L913.2,90.8 L913.3,91.2 L913.4,91.6 L913.5,92.0 L913.6,92.4 L913.7,92.9 L913.8,93.3 L913.9,93.7 L914.0,94.1 L914.1,94.5 L914.2,94.4 L914.3,93.8 L914.4,93.2 L914.5,92.5 L914.6,91.9 L914.7,91.3 L914.8,90.7 L914.9,90.1 L915.0,89.5 L915.1,88.9 L915.2,88.2 L915.3,87.6 L915.4,86.9 L915.5,86.1 L915.6,85.3 L915.7,84.5 L915.8,83.7 L915.9,82.9 L916.0,82.1 L916.1,81.3 L916.2,80.6 L916.3,80.4 L916.4,80.2 L916.5,80.0 L916.6,79.8 L916.7,80.1 L916.7,80.3 L916.8,80.5 L916.9,81.0 L917.0,82.3 L917.1,83.7 L917.2,85.0 L917.3,86.3 L917.4,87.7 L917.5,89.2 L917.6,90.8 L917.7,92.3 L917.8,93.9 L917.9,95.4 L918.0,97.0 L918.1,99.1 L918.2,101.2 L918.3,103.3 L918.4,105.4 L918.5,107.5 L918.6,109.6 L918.7,112.0 L918.8,114.4 L918.9,116.8 L919.0,119.3 L919.1,120.6 L919.2,121.0 L919.3,121.3 L919.4,121.6 L919.5,121.8 L919.6,121.9 L919.7,121.9 L919.8,122.0 L919.9,122.1 L920.0,122.1 L920.1,122.1 L920.2,122.0 L920.3,122.0 L920.4,121.9 L920.5,121.8 L920.6,121.7 L920.7,121.3 L920.8,120.9 L920.9,120.5 L921.0,120.1 L921.1,119.3 L921.2,118.6 L921.3,117.8 L921.4,117.1 L921.5,116.4 L921.6,115.6 L921.7,114.7 L921.8,113.8 L921.9,112.9 L922.0,111.9 L922.1,111.0 L922.2,110.1 L922.3,109.4 L922.4,108.6 L922.5,107.9 L922.6,107.2 L922.7,106.4 L922.8,105.7 L922.9,105.0 L923.0,104.2 L923.1,103.5 L923.2,102.7 L923.3,102.0 L923.4,101.2 L923.5,100.4 L923.6,99.6 L923.7,98.8 L923.8,98.1 L923.9,97.3 L924.0,96.5 L924.1,95.7 L924.2,94.9 L924.3,94.1 L924.4,93.4 L924.5,92.6 L924.6,91.8 L924.7,91.0 L924.8,90.2 L924.9,89.4 L925.0,88.7 L925.1,88.1 L925.2,87.6 L925.3,87.0 L925.4,86.4 L925.5,86.1 L925.6,85.9 L925.7,85.7 L925.8,85.4 L925.9,85.5 L926.0,85.7 L926.1,85.9 L926.2,86.1 L926.3,86.5 L926.4,86.9 L926.5,87.3 L926.6,87.8 L926.6,88.2 L926.7,88.7 L926.8,89.1 L926.9,89.6 L927.0,90.0 L927.1,90.4 L927.2,90.9 L927.3,91.2 L927.4,91.6 L927.5,91.9 L927.6,92.3 L927.7,92.6 L927.8,93.0 L927.9,93.3 L928.0,93.7 L928.1,94.0 L928.2,94.4 L928.3,94.5 L928.4,93.8 L928.5,93.2 L928.6,92.6 L928.7,92.0 L928.8,91.4 L928.9,90.8 L929.0,90.2 L929.1,89.6 L929.2,89.0 L929.3,88.4 L929.4,87.8 L929.5,87.2 L929.6,86.4 L929.7,85.6 L929.8,84.8 L929.9,84.1 L930.0,83.3 L930.1,82.5 L930.2,81.7 L930.3,81.0 L930.4,80.8 L930.5,80.5 L930.6,80.3 L930.7,80.1 L930.8,80.3 L930.9,80.6 L931.0,80.8 L931.1,81.1 L931.2,82.4 L931.3,83.7 L931.4,85.0 L931.5,86.3 L931.6,87.7 L931.7,89.2 L931.8,90.7 L931.9,92.2 L932.0,93.8 L932.1,95.3 L932.2,96.8 L932.3,98.9 L932.4,100.9 L932.5,103.0 L932.6,105.1 L932.7,107.2 L932.8,109.3 L932.9,111.6 L933.0,114.0 L933.1,116.4 L933.2,118.8 L933.3,120.6 L933.4,120.9 L933.5,121.2 L933.6,121.6 L933.7,121.8 L933.8,121.9 L933.9,121.9 L934.0,122.0 L934.1,122.1 L934.2,122.1 L934.3,122.1 L934.4,122.0 L934.5,122.0 L934.6,121.9 L934.7,121.8 L934.8,121.7 L934.9,121.4 L935.0,121.0 L935.1,120.6 L935.2,120.2 L935.3,119.4 L935.4,118.7 L935.5,118.0 L935.6,117.2 L935.7,116.5 L935.8,115.7 L935.9,114.8 L936.0,113.9 L936.1,113.0 L936.2,112.1 L936.3,111.1 L936.4,110.2 L936.4,109.4 L936.5,108.7 L936.6,107.9 L936.7,107.2 L936.8,106.4 L936.9,105.7 L937.0,104.9 L937.1,104.2 L937.2,103.4 L937.3,102.7 L937.4,101.9 L937.5,101.1 L937.6,100.3 L937.7,99.5 L937.8,98.7 L937.9,97.9 L938.0,97.0 L938.1,96.2 L938.2,95.4 L938.3,94.6 L938.4,93.8 L938.5,93.0 L938.6,92.2 L938.7,91.3 L938.8,90.5 L938.9,89.7 L939.0,88.9 L939.1,88.1 L939.2,87.5 L939.3,86.9 L939.4,86.3 L939.5,85.7 L939.6,85.3 L939.7,85.0 L939.8,84.8 L939.9,84.6 L940.0,84.5 L940.1,84.7 L940.2,85.0 L940.3,85.2 L940.4,85.5 L940.5,86.0 L940.6,86.5 L940.7,87.0 L940.8,87.5 L940.9,88.0 L941.0,88.5 L941.1,89.0 L941.2,89.5 L941.3,89.9 L941.4,90.4 L941.5,90.8 L941.6,91.2 L941.7,91.6 L941.8,91.9 L941.9,92.3 L942.0,92.7 L942.1,93.1 L942.2,93.5 L942.3,93.9 L942.4,94.3 L942.5,94.5 L942.6,93.9 L942.7,93.3 L942.8,92.7 L942.9,92.1 L943.0,91.5 L943.1,90.9 L943.2,90.3 L943.3,89.7 L943.4,89.1 L943.5,88.5 L943.6,87.9 L943.7,87.3 L943.8,86.5 L943.9,85.8 L944.0,85.0 L944.1,84.2 L944.2,83.4" stroke-width="1.5"/>
<path d="M180.5,88.2 L180.7,88.7 L180.9,89.4 L181.1,90.1 L181.3,90.8 L181.6,91.7 L181.8,92.6 L182.0,93.5 L182.2,94.5 L182.4,95.5 L182.6,96.5 L182.8,97.5 L183.0,98.5 L183.3,99.6 L183.5,100.6 L183.7,101.6 L183.9,102.5 L184.1,103.4 L184.3,104.3 L184.5,105.1 L184.7,105.8 L185.0,106.4 L185.2,107.0 L185.4,107.5 L185.6,107.9 L185.8,108.3 L186.0,108.5 L186.2,108.6 L186.4,108.7 L186.7,108.6 L186.9,108.5 L187.1,108.2 L187.3,107.9 L187.5,107.4 L187.7,106.9 L187.9,106.3 L188.1,105.6 L188.3,104.9 L188.6,104.1 L188.8,103.2 L189.0,102.3 L189.2,101.4 L189.4,100.4 L189.6,99.4 L189.8,98.4 L190.0,97.3 L190.3,96.3 L190.5,95.3 L190.7,94.3 L190.9,93.3 L191.1,92.4 L191.3,91.6 L191.5,90.7 L191.7,90.0 L192.0,89.3 L192.2,88.7 L192.4,88.1 L192.6,87.7 L192.8,87.3 L193.0,87.1 L193.2,86.9 L193.4,86.8 L193.7,86.9 L193.9,87.0 L194.1,87.2 L194.3,87.5 L194.5,87.9 L194.7,88.4 L194.9,89.0 L195.1,89.6 L195.3,90.3 L195.6,91.1 L195.8,92.0 L196.0,92.9 L196.2,93.8 L196.4,94.8 L196.6,95.8 L196.8,96.8 L197.0,97.9 L197.3,98.9 L197.5,99.9 L197.7,100.9 L197.9,101.9 L198.1,102.8 L198.3,103.7 L198.5,104.6 L198.7,105.4 L199.0,106.1 L199.2,106.7 L199.4,107.3 L199.6,107.8 L199.8,108.2 L200.0,108.5 L200.2,108.7 L200.4,108.8 L200.7,108.9 L200.9,108.8 L201.1,108.6 L201.3,108.3 L201.5,108.0 L201.7,107.5 L201.9,107.0 L202.1,106.4 L202.4,105.7 L202.6,104.9 L202.8,104.1 L203.0,103.2 L203.2,102.3 L203.4,101.4 L203.6,100.4 L203.8,99.4 L204.0,98.3 L204.3,97.3 L204.5,96.3 L204.7,95.3 L204.9,94.3 L205.1,93.3 L205.3,92.4 L205.5,91.5 L205.7,90.7 L206.0,90.0 L206.2,89.3 L206.4,88.7 L206.6,88.2 L206.8,87.8 L207.0,87.4 L207.2,87.2 L207.4,87.0 L207.7,87.0 L207.9,87.0 L208.1,87.1 L208.3,87.4 L208.5,87.7 L208.7,88.1 L208.9,88.6 L209.1,89.2 L209.4,89.9 L209.6,90.6 L209.8,91.4 L210.0,92.3 L210.2,93.2 L210.4,94.2 L210.6,95.2 L210.8,96.2 L211.0,97.2 L211.3,98.2 L211.5,99.3 L211.7,100.3 L211.9,101.3 L212.1,102.3 L212.3,103.2 L212.5,104.1 L212.7,105.0 L213.0,105.8 L213.2,106.5 L213.4,107.1 L213.6,107.7 L213.8,108.1 L214.0,108.5 L214.2,108.8 L214.4,109.0 L214.7,109.1 L214.9,109.1 L215.1,109.1 L215.3,108.9 L215.5,108.6 L215.7,108.2 L215.9,107.8 L216.1,107.2 L216.4,106.6 L216.6,105.9 L216.8,105.1 L217.0,104.3 L217.2,103.4 L217.4,102.5 L217.6,101.5 L217.8,100.5 L218.0,99.5 L218.3,98.5 L218.5,97.4 L218.7,96.4 L218.9,95.4 L219.1,94.4 L219.3,93.5 L219.5,92.6 L219.7,91.7 L220.0,90.9 L220.2,90.2 L220.4,89.5 L220.6,88.9 L220.8,88.4 L221.0,88.0 L221.2,87.7 L221.4,87.5 L221.7,87.4 L221.9,87.3 L222.1,87.4 L222.3,87.5 L222.5,87.8 L222.7,88.1 L222.9,88.6 L223.1,89.1 L223.4,89.7 L223.6,90.4 L223.8,91.2 L224.0,92.0 L224.2,92.8 L224.4,93.8 L224.6,94.7 L224.8,95.7 L225.0,96.8 L225.3,97.8 L225.5,98.8 L225.7,99.9 L225.9,100.9 L226.1,101.9 L226.3,102.9 L226.5,103.8 L226.7,104.7 L227.0,105.6 L227.2,106.3 L227.4,107.0 L227.6,107.7 L227.8,108.2 L228.0,108.7 L228.2,109.0 L228.4,109.3 L228.7,109.5 L228.9,109.6 L229.1,109.6 L229.3,109.5 L229.5,109.3 L229.7,109.0 L229.9,108.6 L230.1,108.1 L230.4,107.5 L230.6,106.9 L230.8,106.2 L231.0,105.4 L231.2,104.6 L231.4,103.7 L231.6,102.7 L231.8,101.7 L232.0,100.7 L232.3,99.7 L232.5,98.7 L232.7,97.7 L232.9,96.6 L233.1,95.6 L233.3,94.7 L233.5,93.7 L233.7,92.8 L234.0,92.0 L234.2,91.2 L234.4,90.5 L234.6,89.8 L234.8,89.2 L235.0,88.8 L235.2,88.4 L235.4,88.0 L235.7,87.8 L235.9,87.7 L236.1,87.7 L236.3,87.8 L236.5,88.0 L236.7,88.2 L236.9,88.6 L237.1,89.1 L237.4,89.6 L237.6,90.2 L237.8,90.9 L238.0,91.7 L238.2,92.5 L238.4,93.4 L238.6,94.3 L238.8,95.3 L239.1,96.3 L239.3,97.4 L239.5,98.4 L239.7,99.4 L239.9,100.5 L240.1,101.5 L240.3,102.5 L240.5,103.5 L240.7,104.4 L241.0,105.3 L241.2,106.1 L241.4,106.9 L241.6,107.6 L241.8,108.2 L242.0,108.7 L242.2,109.2 L242.4,109.5 L242.7,109.8 L242.9,110.0 L243.1,110.0 L243.3,110.0 L243.5,109.9 L243.7,109.7 L243.9,109.3 L244.1,108.9 L244.4,108.4 L244.6,107.9 L244.8,107.2 L245.0,106.5 L245.2,105.7 L245.4,104.8 L245.6,103.9 L245.8,103.0 L246.1,102.0 L246.3,101.0 L246.5,100.0 L246.7,98.9 L246.9,97.9 L247.1,96.9 L247.3,95.9 L247.5,94.9 L247.7,93.9 L248.0,93.0 L248.2,92.2 L248.4,91.4 L248.6,90.7 L248.8,90.1 L249.0,89.5 L249.2,89.1 L249.4,88.7 L249.7,88.4 L249.9,88.2 L250.1,88.1 L250.3,88.1 L250.5,88.2 L250.7,88.4 L250.9,88.7 L251.1,89.1 L251.4,89.5 L251.6,90.1 L251.8,90.7 L252.0,91.4 L252.2,92.2 L252.4,93.1 L252.6,94.0 L252.8,94.9 L253.1,95.9 L253.3,96.9 L253.5,97.9 L253.7,99.0 L253.9,100.0 L254.1,101.1 L254.3,102.1 L254.5,103.1 L254.7,104.1 L255.0,105.0 L255.2,105.9 L255.4,106.7 L255.6,107.5 L255.8,108.2 L256.0,108.8 L256.2,109.3 L256.4,109.8 L256.7,110.1 L256.9,110.4 L257.1,110.5 L257.3,110.6 L257.5,110.5 L257.7,110.4 L257.9,110.1 L258.1,109.8 L258.4,109.4 L258.6,108.9 L258.8,108.3 L259.0,107.6 L259.2,106.8 L259.4,106.0 L259.6,105.2 L259.8,104.2 L260.1,103.3 L260.3,102.3 L260.5,101.2 L260.7,100.2 L260.9,99.1 L261.1,98.1 L261.3,97.0 L261.5,96.0 L261.7,95.0 L262.0,94.1 L262.2,93.2 L262.4,92.4 L262.6,91.6 L262.8,90.9 L263.0,90.2 L263.2,89.7 L263.4,89.2 L263.7,88.8 L263.9,88.5 L264.1,88.4 L264.3,88.3 L264.5,88.3 L264.7,88.4 L264.9,88.6 L265.1,88.9 L265.4,89.3 L265.6,89.8 L265.8,90.4 L266.0,91.1 L266.2,91.8 L266.4,92.6 L266.6,93.5 L266.8,94.4 L267.1,95.4 L267.3,96.4 L267.5,97.5 L267.7,98.5 L267.9,99.6 L268.1,100.7 L268.3,101.7 L268.5,102.8 L268.7,103.8 L269.0,104.8 L269.2,105.7 L269.4,106.6 L269.6,107.5 L269.8,108.2 L270.0,108.9 L270.2,109.5 L270.4,110.0 L270.7,110.5 L270.9,110.8 L271.1,111.0 L271.3,111.2 L271.5,111.2 L271.7,111.1 L271.9,111.0 L272.1,110.7 L272.4,110.4 L272.6,109.9 L272.8,109.4 L273.0,108.7 L273.2,108.0 L273.4,107.3 L273.6,106.4 L273.8,105.5 L274.1,104.6 L274.3,103.6 L274.5,102.5 L274.7,101.5 L274.9,100.4 L275.1,99.3 L275.3,98.3 L275.5,97.2 L275.8,96.2 L276.0,95.2 L276.2,94.2 L276.4,93.3 L276.6,92.5 L276.8,91.7 L277.0,91.0 L277.2,90.3 L277.4,89.8 L277.7,89.3 L277.9,89.0 L278.1,88.7 L278.3,88.5 L278.5,88.5 L278.7,88.5 L278.9,88.6 L279.1,88.9 L279.4,89.2 L279.6,89.6 L279.8,90.1 L280.0,90.8 L280.2,91.5 L280.4,92.2 L280.6,93.1 L280.8,94.0 L281.1,94.9 L281.3,95.9 L281.5,97.0 L281.7,98.0 L281.9,99.1 L282.1,100.2 L282.3,101.3 L282.5,102.4 L282.8,103.4 L283.0,104.5 L283.2,105.5 L283.4,106.4 L283.6,107.3 L283.8,108.2 L284.0,108.9 L284.2,109.6 L284.4,110.2 L284.7,110.7 L284.9,111.2 L285.1,111.5 L285.3,111.7 L285.5,111.8 L285.7,111.9 L285.9,111.8 L286.1,111.6 L286.4,111.3 L286.6,110.9 L286.8,110.4 L287.0,109.9 L287.2,109.2 L287.4,108.5 L287.6,107.7 L287.8,106.8 L288.1,105.9 L288.3,104.9 L288.5,103.9 L288.7,102.8 L288.9,101.7 L289.1,100.6 L289.3,99.5 L289.5,98.5 L289.8,97.4 L290.0,96.3 L290.2,95.3 L290.4,94.4 L290.6,93.4 L290.8,92.6 L291.0,91.8 L291.2,91.1 L291.4,90.4 L291.7,89.9 L291.9,89.5 L292.1,89.1 L292.3,88.8 L292.5,88.7 L292.7,88.6 L292.9,88.7 L293.1,88.8 L293.4,89.1 L293.6,89.5 L293.8,89.9 L294.0,90.5 L294.2,91.1 L294.4,91.8 L294.6,92.6 L294.8,93.5 L295.1,94.4 L295.3,95.4 L295.5,96.5 L295.7,97.5 L295.9,98.6 L296.1,99.7 L296.3,100.9 L296.5,102.0 L296.8,103.1 L297.0,104.2 L297.2,105.2 L297.4,106.2 L297.6,107.2 L297.8,108.1 L298.0,109.0 L298.2,109.7 L298.4,110.4 L298.7,111.0 L298.9,111.5 L299.1,111.9 L299.3,112.3 L299.5,112.5 L299.7,112.6 L299.9,112.6 L300.1,112.5 L300.4,112.3 L300.6,112.0 L300.8,111.6 L301.0,111.1 L301.2,110.5 L301.4,109.8 L301.6,109.0 L301.8,108.2 L302.1,107.3 L302.3,106.4 L302.5,105.3 L302.7,104.3 L302.9,103.2 L303.1,102.1 L303.3,101.0 L303.5,99.9 L303.8,98.8 L304.0,97.7 L304.2,96.7 L304.4,95.6 L304.6,94.7 L304.8,93.7 L305.0,92.9 L305.2,92.1 L305.4,91.4 L305.7,90.8 L305.9,90.2 L306.1,89.8 L306.3,89.4 L306.5,89.2 L306.7,89.1 L306.9,89.0 L307.1,89.1 L307.4,89.3 L307.6,89.6 L307.8,90.0 L308.0,90.5 L308.2,91.0 L308.4,91.7 L308.6,92.5 L308.8,93.3 L309.1,94.2 L309.3,95.2 L309.5,96.2 L309.7,97.2 L309.9,98.3 L310.1,99.4 L310.3,100.6 L310.5,101.7 L310.8,102.8 L311.0,104.0 L311.2,105.1 L311.4,106.1 L311.6,107.1 L311.8,108.1 L312.0,109.0 L312.2,109.8 L312.5,110.6 L312.7,111.3 L312.9,111.9 L313.1,112.4 L313.3,112.8 L313.5,113.1 L313.7,113.3 L313.9,113.3 L314.1,113.3 L314.4,113.2 L314.6,113.0 L314.8,112.6 L315.0,112.2 L315.2,111.7 L315.4,111.1 L315.6,110.4 L315.8,109.6 L316.1,108.7 L316.3,107.8 L316.5,106.8 L316.7,105.8 L316.9,104.8 L317.1,103.7 L317.3,102.6 L317.5,101.5 L317.8,100.3 L318.0,99.2 L318.2,98.1 L318.4,97.1 L318.6,96.1 L318.8,95.1 L319.0,94.2 L319.2,93.3 L319.5,92.6 L319.7,91.9 L319.9,91.3 L320.1,90.8 L320.3,90.3 L320.5,90.0 L320.7,89.8 L320.9,89.7 L321.1,89.7 L321.4,89.8 L321.6,90.0 L321.8,90.3 L322.0,90.7 L322.2,91.2 L322.4,91.8 L322.6,92.5 L322.8,93.3 L323.1,94.1 L323.3,95.0 L323.5,96.0 L323.7,97.0 L323.9,98.1 L324.1,99.2 L324.3,100.3 L324.5,101.4 L324.8,102.6 L325.0,103.7 L325.2,104.8 L325.4,105.9 L325.6,106.9 L325.8,107.9 L326.0,108.9 L326.2,109.8 L326.5,110.6 L326.7,111.3 L326.9,112.0 L327.1,112.6 L327.3,113.1 L327.5,113.4 L327.7,113.7 L327.9,113.9 L328.1,114.0 L328.4,113.9 L328.6,113.8 L328.8,113.5 L329.0,113.2 L329.2,112.7 L329.4,112.2 L329.6,111.6 L329.8,110.9 L330.1,110.1 L330.3,109.2 L330.5,108.3 L330.7,107.3 L330.9,106.3 L331.1,105.2 L331.3,104.1 L331.5,103.0 L331.8,101.9 L332.0,100.8 L332.2,99.7 L332.4,98.6 L332.6,97.6 L332.8,96.5 L333.0,95.6 L333.2,94.7 L333.5,93.9 L333.7,93.1 L333.9,92.4 L334.1,91.8 L334.3,91.3 L334.5,90.9 L334.7,90.6 L334.9,90.4 L335.1,90.4 L335.4,90.4 L335.6,90.5 L335.8,90.7 L336.0,91.0 L336.2,91.5 L336.4,92.0 L336.6,92.6 L336.8,93.3 L337.1,94.1 L337.3,94.9 L337.5,95.8 L337.7,96.8 L337.9,97.8 L338.1,98.9 L338.3,100.0 L338.5,101.1 L338.8,102.3 L339.0,103.4 L339.2,104.5 L339.4,105.6 L339.6,106.7 L339.8,107.7 L340.0,108.7 L340.2,109.7 L340.5,110.6 L340.7,111.4 L340.9,112.1 L341.1,112.7 L341.3,113.3 L341.5,113.7 L341.7,114.1 L341.9,114.4 L342.1,114.5 L342.4,114.6 L342.6,114.5 L342.8,114.3 L343.0,114.1 L343.2,113.7 L343.4,113.3 L343.6,112.7 L343.8,112.1 L344.1,111.3 L344.3,110.5 L344.5,109.7 L344.7,108.7 L344.9,107.7 L345.1,106.7 L345.3,105.6 L345.5,104.5 L345.8,103.4 L346.0,102.3 L346.2,101.2 L346.4,100.1 L346.6,99.1 L346.8,98.0 L347.0,97.0 L347.2,96.1 L347.5,95.2 L347.7,94.4 L347.9,93.6 L348.1,93.0 L348.3,92.4 L348.5,91.9 L348.7,91.6 L348.9,91.3 L349.2,91.1 L349.4,91.0 L349.6,91.0 L349.8,91.2 L350.0,91.4 L350.2,91.8 L350.4,92.2 L350.6,92.7 L350.8,93.4 L351.1,94.1 L351.3,94.9 L351.5,95.7 L351.7,96.7 L351.9,97.7 L352.1,98.7 L352.3,99.8 L352.5,100.9 L352.8,102.0 L353.0,103.1 L353.2,104.2 L353.4,105.3 L353.6,106.4 L353.8,107.5 L354.0,108.5 L354.2,109.5 L354.5,110.5 L354.7,111.3 L354.9,112.1 L355.1,112.8 L355.3,113.4 L355.5,114.0 L355.7,114.4 L355.9,114.8 L356.2,115.0 L356.4,115.1 L356.6,115.2 L356.8,115.1 L357.0,114.9 L357.2,114.6 L357.4,114.3 L357.6,113.8 L357.8,113.2 L358.1,112.5 L358.3,111.8 L358.5,111.0 L358.7,110.1 L358.9,109.2 L359.1,108.2 L359.3,107.1 L359.5,106.1 L359.8,105.0 L360.0,103.9 L360.2,102.8 L360.4,101.7 L360.6,100.6 L360.8,99.5 L361.0,98.5 L361.2,97.5 L361.5,96.6 L361.7,95.7 L361.9,94.9 L362.1,94.2 L362.3,93.5 L362.5,93.0 L362.7,92.5 L362.9,92.2 L363.2,91.9 L363.4,91.7 L363.6,91.7 L363.8,91.7 L364.0,91.9 L364.2,92.1 L364.4,92.5 L364.6,93.0 L364.8,93.5 L365.1,94.2 L365.3,94.9 L365.5,95.7 L365.7,96.6 L365.9,97.5 L366.1,98.5 L366.3,99.5 L366.5,100.6 L366.8,101.7 L367.0,102.8 L367.2,103.9 L367.4,105.1 L367.6,106.2 L367.8,107.3 L368.0,108.3 L368.2,109.4 L368.5,110.3 L368.7,111.2 L368.9,112.1 L369.1,112.9 L369.3,113.6 L369.5,114.2 L369.7,114.7 L369.9,115.1 L370.2,115.4 L370.4,115.6 L370.6,115.8 L370.8,115.8 L371.0,115.7 L371.2,115.5 L371.4,115.2 L371.6,114.8 L371.8,114.3 L372.1,113.7 L372.3,113.0 L372.5,112.3 L372.7,111.5 L372.9,110.6 L373.1,109.6 L373.3,108.6 L373.5,107.6 L373.8,106.5 L374.0,105.4 L374.2,104.3 L374.4,103.2 L374.6,102.1 L374.8,101.0 L375.0,100.0 L375.2,99.0 L375.5,98.0 L375.7,97.1 L375.9,96.2 L376.1,95.4 L376.3,94.7 L376.5,94.1 L376.7,93.6 L376.9,93.1 L377.2,92.8 L377.4,92.5 L377.6,92.4 L377.8,92.4 L378.0,92.4 L378.2,92.6 L378.4,92.9 L378.6,93.3 L378.8,93.7 L379.1,94.3 L379.3,94.9 L379.5,95.7 L379.7,96.5 L379.9,97.4 L380.1,98.3 L380.3,99.3 L380.5,100.4 L380.8,101.4 L381.0,102.5 L381.2,103.7 L381.4,104.8 L381.6,105.9 L381.8,107.0 L382.0,108.1 L382.2,109.1 L382.5,110.2 L382.7,111.1 L382.9,112.0 L383.1,112.8 L383.3,113.6 L383.5,114.3 L383.7,114.9 L383.9,115.4 L384.2,115.8 L384.4,116.1 L384.6,116.3 L384.8,116.4 L385.0,116.4 L385.2,116.3 L385.4,116.0 L385.6,115.7 L385.9,115.3 L386.1,114.8 L386.3,114.2 L386.5,113.5 L386.7,112.8 L386.9,111.9 L387.1,111.0 L387.3,110.1 L387.5,109.1 L387.8,108.0 L388.0,106.9 L388.2,105.9 L388.4,104.7 L388.6,103.6 L388.8,102.6 L389.0,101.5 L389.2,100.4 L389.5,99.4 L389.7,98.5 L389.9,97.6 L390.1,96.7 L390.3,96.0 L390.5,95.3 L390.7,94.7 L390.9,94.1 L391.2,93.7 L391.4,93.4 L391.6,93.2 L391.8,93.0 L392.0,93.0 L392.2,93.1 L392.4,93.3 L392.6,93.6 L392.9,94.0 L393.1,94.5 L393.3,95.1 L393.5,95.7 L393.7,96.5 L393.9,97.3 L394.1,98.2 L394.3,99.2 L394.5,100.2 L394.8,101.2 L395.0,102.3 L395.2,103.4 L395.4,104.5 L395.6,105.6 L395.8,106.7 L396.0,107.8 L396.2,108.9 L396.5,110.0 L396.7,111.0 L396.9,111.9 L397.1,112.8 L397.3,113.6 L397.5,114.3 L397.7,115.0 L397.9,115.6 L398.2,116.1 L398.4,116.4 L398.6,116.7 L398.8,116.9 L399.0,117.0 L399.2,117.0 L399.4,116.8 L399.6,116.6 L399.9,116.3 L400.1,115.8 L400.3,115.3 L400.5,114.7 L400.7,114.0 L400.9,113.2 L401.1,112.4 L401.3,111.5 L401.5,110.5 L401.8,109.5 L402.0,108.5 L402.2,107.4 L402.4,106.3 L402.6,105.2 L402.8,104.1 L403.0,103.0 L403.2,101.9 L403.5,100.9 L403.7,99.9 L403.9,99.0 L404.1,98.1 L404.3,97.2 L404.5,96.5 L404.7,95.8 L404.9,95.2 L405.2,94.7 L405.4,94.3 L405.6,94.0 L405.8,93.8 L406.0,93.7 L406.2,93.7 L406.4,93.8 L406.6,94.0 L406.9,94.3 L407.1,94.7 L407.3,95.2 L407.5,95.8 L407.7,96.5 L407.9,97.3 L408.1,98.1 L408.3,99.0 L408.5,100.0 L408.8,101.0 L409.0,102.0 L409.2,103.1 L409.4,104.2 L409.6,105.3 L409.8,106.5 L410.0,107.6 L410.2,108.7 L410.5,109.7 L410.7,110.7 L410.9,111.7 L411.1,112.6 L411.3,113.5 L411.5,114.3 L411.7,115.0 L411.9,115.7 L412.2,116.2 L412.4,116.7 L412.6,117.0 L412.8,117.3 L413.0,117.4 L413.2,117.5 L413.4,117.4 L413.6,117.3 L413.9,117.0 L414.1,116.7 L414.3,116.2 L414.5,115.7 L414.7,115.0 L414.9,114.3 L415.1,113.5 L415.3,112.6 L415.5,111.7 L415.8,110.7 L416.0,109.7 L416.2,108.7 L416.4,107.6 L416.6,106.5 L416.8,105.4 L417.0,104.3 L417.2,103.2 L417.5,102.1 L417.7,101.1 L417.9,100.1 L418.1,99.1 L418.3,98.3 L418.5,97.4 L418.7,96.7 L418.9,96.0 L419.2,95.4 L419.4,95.0 L419.6,94.6 L419.8,94.3 L420.0,94.1 L420.2,94.0 L420.4,94.0 L420.6,94.1 L420.9,94.3 L421.1,94.7 L421.3,95.1 L421.5,95.6 L421.7,96.2 L421.9,96.9 L422.1,97.6 L422.3,98.5 L422.6,99.4 L422.8,100.3 L423.0,101.3 L423.2,102.4 L423.4,103.5 L423.6,104.6 L423.8,105.7 L424.0,106.8 L424.2,107.9 L424.5,108.9 L424.7,110.0 L424.9,111.0 L425.1,112.0 L425.3,112.9 L425.5,113.7 L425.7,114.5 L425.9,115.2 L426.2,115.8 L426.4,116.4 L426.6,116.8 L426.8,117.1 L427.0,117.4 L427.2,117.5 L427.4,117.6 L427.6,117.5 L427.9,117.3 L428.1,117.0 L428.3,116.7 L428.5,116.2 L428.7,115.6 L428.9,115.0 L429.1,114.2 L429.3,113.4 L429.6,112.6 L429.8,111.6 L430.0,110.6 L430.2,109.6 L430.4,108.6 L430.6,107.5 L430.8,106.4 L431.0,105.3 L431.2,104.2 L431.5,103.1 L431.7,102.0 L431.9,101.0 L432.1,100.0 L432.3,99.1 L432.5,98.2 L432.7,97.4 L432.9,96.7 L433.2,96.0 L433.4,95.5 L433.6,95.0 L433.8,94.6 L434.0,94.4 L434.2,94.2 L434.4,94.1 L434.6,94.1 L434.9,94.3 L435.1,94.5 L435.3,94.9 L435.5,95.3 L435.7,95.8 L435.9,96.4 L436.1,97.1 L436.3,97.9 L436.6,98.8 L436.8,99.7 L437.0,100.6 L437.2,101.6 L437.4,102.7 L437.6,103.8 L437.8,104.9 L438.0,106.0 L438.2,107.1 L438.5,108.2 L438.7,109.2 L438.9,110.3 L439.1,111.3 L439.3,112.2 L439.5,113.1 L439.7,114.0 L439.9,114.7 L440.2,115.4 L440.4,116.0 L440.6,116.5 L440.8,117.0 L441.0,117.3 L441.2,117.5 L441.4,117.6 L441.6,117.6 L441.9,117.5 L442.1,117.3 L442.3,117.0 L442.5,116.7 L442.7,116.2 L442.9,115.6 L443.1,114.9 L443.3,114.2 L443.6,113.4 L443.8,112.5 L444.0,111.5 L444.2,110.6 L444.4,109.5 L444.6,108.5 L444.8,107.4 L445.0,106.3 L445.2,105.2 L445.5,104.1 L445.7,103.0 L445.9,102.0 L446.1,100.9 L446.3,100.0 L446.5,99.1 L446.7,98.2 L446.9,97.4 L447.2,96.7 L447.4,96.1 L447.6,95.5 L447.8,95.1 L448.0,94.7 L448.2,94.5 L448.4,94.3 L448.6,94.2 L448.9,94.3 L449.1,94.4 L449.3,94.7 L449.5,95.1 L449.7,95.5 L449.9,96.1 L450.1,96.7 L450.3,97.4 L450.6,98.2 L450.8,99.0 L451.0,100.0 L451.2,100.9 L451.4,101.9 L451.6,103.0 L451.8,104.1 L452.0,105.2 L452.2,106.3 L452.5,107.4 L452.7,108.5 L452.9,109.5 L453.1,110.6 L453.3,111.5 L453.5,112.5 L453.7,113.4 L453.9,114.2 L454.2,114.9 L454.4,115.6 L454.6,116.2 L454.8,116.7 L455.0,117.1 L455.2,117.4 L455.4,117.6 L455.6,117.7 L455.9,117.7 L456.1,117.6 L456.3,117.4 L456.5,117.1 L456.7,116.6 L456.9,116.1 L457.1,115.5 L457.3,114.9 L457.6,114.1 L457.8,113.3 L458.0,112.4 L458.2,111.5 L458.4,110.5 L458.6,109.4 L458.8,108.4 L459.0,107.3 L459.3,106.2 L459.5,105.1 L459.7,104.0 L459.9,102.9 L460.1,101.9 L460.3,100.9 L460.5,99.9 L460.7,99.0 L460.9,98.2 L461.2,97.4 L461.4,96.7 L461.6,96.1 L461.8,95.6 L462.0,95.1 L462.2,94.8 L462.4,94.6 L462.6,94.4 L462.9,94.4 L463.1,94.5 L463.3,94.6 L463.5,94.9 L463.7,95.3 L463.9,95.7 L464.1,96.3 L464.3,96.9 L464.6,97.7 L464.8,98.5 L465.0,99.3 L465.2,100.3 L465.4,101.2 L465.6,102.3 L465.8,103.3 L466.0,104.4 L466.3,105.5 L466.5,106.6 L466.7,107.7 L466.9,108.7 L467.1,109.8 L467.3,110.8 L467.5,111.8 L467.7,112.7 L467.9,113.6 L468.2,114.4 L468.4,115.1 L468.6,115.8 L468.8,116.4 L469.0,116.8 L469.2,117.2 L469.4,117.5 L469.6,117.7 L469.9,117.8 L470.1,117.7 L470.3,117.6 L470.5,117.4 L470.7,117.1 L470.9,116.6 L471.1,116.1 L471.3,115.5 L471.6,114.8 L471.8,114.1 L472.0,113.2 L472.2,112.3 L472.4,111.4 L472.6,110.4 L472.8,109.3 L473.0,108.3 L473.3,107.2 L473.5,106.1 L473.7,105.0 L473.9,103.9 L474.1,102.9 L474.3,101.8 L474.5,100.8 L474.7,99.9 L474.9,99.0 L475.2,98.2 L475.4,97.4 L475.6,96.7 L475.8,96.1 L476.0,95.6 L476.2,95.2 L476.4,94.9 L476.6,94.7 L476.9,94.6 L477.1,94.5 L477.3,94.6 L477.5,94.8 L477.7,95.1 L477.9,95.5 L478.1,96.0 L478.3,96.5 L478.6,97.2 L478.8,97.9 L479.0,98.7 L479.2,99.6 L479.4,100.6 L479.6,101.5 L479.8,102.6 L480.0,103.6 L480.3,104.7 L480.5,105.8 L480.7,106.9 L480.9,108.0 L481.1,109.0 L481.3,110.1 L481.5,111.1 L481.7,112.1 L481.9,113.0 L482.2,113.8 L482.4,114.6 L482.6,115.3 L482.8,116.0 L483.0,116.5 L483.2,117.0 L483.4,117.3 L483.6,117.6 L483.9,117.8 L484.1,117.8 L484.3,117.8 L484.5,117.6 L484.7,117.4 L484.9,117.1 L485.1,116.6 L485.3,116.1 L485.6,115.5 L485.8,114.8 L486.0,114.0 L486.2,113.1 L486.4,112.2 L486.6,111.3 L486.8,110.3 L487.0,109.2 L487.3,108.2 L487.5,107.1 L487.7,106.0 L487.9,104.9 L488.1,103.8 L488.3,102.8 L488.5,101.8 L488.7,100.8 L488.9,99.8 L489.2,99.0 L489.4,98.2 L489.6,97.4 L489.8,96.8 L490.0,96.2 L490.2,95.7 L490.4,95.3 L490.6,95.0 L490.9,94.8 L491.1,94.7 L491.3,94.7 L491.5,94.8 L491.7,95.0 L491.9,95.3 L492.1,95.7 L492.3,96.2 L492.6,96.8 L492.8,97.5 L493.0,98.2 L493.2,99.0 L493.4,99.9 L493.6,100.8 L493.8,101.8 L494.0,102.9 L494.3,103.9 L494.5,105.0 L494.7,106.1 L494.9,107.2 L495.1,108.3 L495.3,109.3 L495.5,110.4 L495.7,111.4 L496.0,112.3 L496.2,113.2 L496.4,114.1 L496.6,114.8 L496.8,115.5 L497.0,116.2 L497.2,116.7 L497.4,117.1 L497.6,117.5 L497.9,117.7 L498.1,117.9 L498.3,117.9 L498.5,117.8 L498.7,117.7 L498.9,117.4 L499.1,117.0 L499.3,116.6 L499.6,116.0 L499.8,115.4 L500.0,114.7 L500.2,113.9 L500.4,113.1 L500.6,112.2 L500.8,111.2 L501.0,110.2 L501.3,109.1 L501.5,108.1 L501.7,107.0 L501.9,105.9 L502.1,104.8 L502.3,103.8 L502.5,102.7 L502.7,101.7 L503.0,100.7 L503.2,99.8 L503.4,98.9 L503.6,98.1 L503.8,97.4 L504.0,96.8 L504.2,96.2 L504.4,95.7 L504.6,95.4 L504.9,95.1 L505.1,94.9 L505.3,94.8 L505.5,94.8 L505.7,95.0 L505.9,95.2 L506.1,95.5 L506.3,95.9 L506.6,96.4 L506.8,97.0 L507.0,97.7 L507.2,98.5 L507.4,99.3 L507.6,100.2 L507.8,101.1 L508.0,102.1 L508.3,103.2 L508.5,104.2 L508.7,105.3 L508.9,106.4 L509.1,107.5 L509.3,108.5 L509.5,109.6 L509.7,110.6 L510.0,111.6 L510.2,112.6 L510.4,113.5 L510.6,114.3 L510.8,115.0 L511.0,115.7 L511.2,116.3 L511.4,116.8 L511.6,117.3 L511.9,117.6 L512.1,117.8 L512.3,117.9 L512.5,118.0 L512.7,117.9 L512.9,117.7 L513.1,117.4 L513.3,117.0 L513.6,116.6 L513.8,116.0 L514.0,115.4 L514.2,114.6 L514.4,113.8 L514.6,113.0 L514.8,112.1 L515.0,111.1 L515.3,110.1 L515.5,109.0 L515.7,108.0 L515.9,106.9 L516.1,105.8 L516.3,104.7 L516.5,103.7 L516.7,102.7 L517.0,101.6 L517.2,100.7 L517.4,99.8 L517.6,98.9 L517.8,98.1 L518.0,97.4 L518.2,96.8 L518.4,96.3 L518.6,95.8 L518.9,95.4 L519.1,95.2 L519.3,95.0 L519.5,95.0 L519.7,95.0 L519.9,95.1 L520.1,95.4 L520.3,95.7 L520.6,96.2 L520.8,96.7 L521.0,97.3 L521.2,98.0 L521.4,98.8 L521.6,99.6 L521.8,100.5 L522.0,101.4 L522.3,102.4 L522.5,103.5 L522.7,104.5 L522.9,105.6 L523.1,106.7 L523.3,107.8 L523.5,108.8 L523.7,109.9 L524.0,110.9 L524.2,111.9 L524.4,112.8 L524.6,113.7 L524.8,114.5 L525.0,115.2 L525.2,115.9 L525.4,116.5 L525.6,117.0 L525.9,117.4 L526.1,117.7 L526.3,117.9 L526.5,118.0 L526.7,118.0 L526.9,117.9 L527.1,117.7 L527.3,117.4 L527.6,117.0 L527.8,116.5 L528.0,116.0 L528.2,115.3 L528.4,114.6 L528.6,113.8 L528.8,112.9 L529.0,112.0 L529.3,111.0 L529.5,110.0 L529.7,109.0 L529.9,107.9 L530.1,106.8 L530.3,105.7 L530.5,104.7 L530.7,103.6 L531.0,102.6 L531.2,101.6 L531.4,100.6 L531.6,99.7 L531.8,98.9 L532.0,98.1 L532.2,97.5 L532.4,96.8 L532.7,96.3 L532.9,95.9 L533.1,95.5 L533.3,95.3 L533.5,95.1 L533.7,95.1 L533.9,95.2 L534.1,95.3 L534.3,95.6 L534.6,95.9 L534.8,96.4 L535.0,96.9 L535.2,97.5 L535.4,98.3 L535.6,99.0 L535.8,99.9 L536.0,100.8 L536.3,101.7 L536.5,102.7 L536.7,103.8 L536.9,104.8 L537.1,105.9 L537.3,107.0 L537.5,108.1 L537.7,109.1 L538.0,110.2 L538.2,111.2 L538.4,112.1 L538.6,113.1 L538.8,113.9 L539.0,114.7 L539.2,115.4 L539.4,116.1 L539.7,116.7 L539.9,117.1 L540.1,117.5 L540.3,117.8 L540.5,118.0 L540.7,118.1 L540.9,118.1 L541.1,118.0 L541.3,117.7 L541.6,117.4 L541.8,117.0 L542.0,116.5 L542.2,115.9 L542.4,115.3 L542.6,114.5 L542.8,113.7 L543.0,112.8 L543.3,111.9 L543.5,110.9 L543.7,109.9 L543.9,108.9 L544.1,107.8 L544.3,106.7 L544.5,105.7 L544.7,104.6 L545.0,103.5 L545.2,102.5 L545.4,101.5 L545.6,100.6 L545.8,99.7 L546.0,98.9 L546.2,98.1 L546.4,97.5 L546.7,96.9 L546.9,96.4 L547.1,95.9 L547.3,95.6 L547.5,95.4 L547.7,95.3 L547.9,95.2 L548.1,95.3 L548.3,95.5 L548.6,95.8 L548.8,96.1 L549.0,96.6 L549.2,97.2 L549.4,97.8 L549.6,98.5 L549.8,99.3 L550.0,100.2 L550.3,101.1 L550.5,102.0 L550.7,103.0 L550.9,104.1 L551.1,105.1 L551.3,106.2 L551.5,107.3 L551.7,108.3 L552.0,109.4 L552.2,110.4 L552.4,111.4 L552.6,112.4 L552.8,113.3 L553.0,114.2 L553.2,114.9 L553.4,115.6 L553.7,116.3 L553.9,116.8 L554.1,117.3 L554.3,117.6 L554.5,117.9 L554.7,118.1 L554.9,118.2 L555.1,118.1 L555.3,118.0 L555.6,117.8 L555.8,117.4 L556.0,117.0 L556.2,116.5 L556.4,115.9 L556.6,115.2 L556.8,114.5 L557.0,113.6 L557.3,112.7 L557.5,111.8 L557.7,110.8 L557.9,109.8 L558.1,108.8 L558.3,107.7 L558.5,106.6 L558.7,105.6 L559.0,104.5 L559.2,103.5 L559.4,102.5 L559.6,101.5 L559.8,100.6 L560.0,99.7 L560.2,98.9 L560.4,98.2 L560.7,97.5 L560.9,96.9 L561.1,96.4 L561.3,96.0 L561.5,95.7 L561.7,95.5 L561.9,95.4 L562.1,95.4 L562.4,95.5 L562.6,95.7 L562.8,96.0 L563.0,96.4 L563.2,96.8 L563.4,97.4 L563.6,98.1 L563.8,98.8 L564.0,99.6 L564.3,100.5 L564.5,101.4 L564.7,102.3 L564.9,103.3 L565.1,104.4 L565.3,105.4 L565.5,106.5 L565.7,107.6 L566.0,108.6 L566.2,109.7 L566.4,110.7 L566.6,111.7 L566.8,112.6 L567.0,113.5 L567.2,114.4 L567.4,115.1 L567.7,115.8 L567.9,116.5 L568.1,117.0 L568.3,117.4 L568.5,117.8 L568.7,118.0 L568.9,118.2 L569.1,118.2 L569.4,118.2 L569.6,118.0 L569.8,117.8 L570.0,117.4 L570.2,117.0 L570.4,116.5 L570.6,115.8 L570.8,115.2 L571.0,114.4 L571.3,113.6 L571.5,112.7 L571.7,111.7 L571.9,110.7 L572.1,109.7 L572.3,108.7 L572.5,107.6 L572.7,106.5 L573.0,105.5 L573.2,104.4 L573.4,103.4 L573.6,102.4 L573.8,101.4 L574.0,100.5 L574.2,99.7 L574.4,98.9 L574.7,98.2 L574.9,97.5 L575.1,97.0 L575.3,96.5 L575.5,96.1 L575.7,95.8 L575.9,95.6 L576.1,95.5 L576.4,95.5 L576.6,95.7 L576.8,95.9 L577.0,96.2 L577.2,96.6 L577.4,97.1 L577.6,97.7 L577.8,98.3 L578.0,99.1 L578.3,99.9 L578.5,100.7 L578.7,101.7 L578.9,102.6 L579.1,103.6 L579.3,104.7 L579.5,105.7 L579.7,106.8 L580.0,107.9 L580.2,108.9 L580.4,110.0 L580.6,111.0 L580.8,112.0 L581.0,112.9 L581.2,113.8 L581.4,114.6 L581.7,115.4 L581.9,116.0 L582.1,116.6 L582.3,117.1 L582.5,117.6 L582.7,117.9 L582.9,118.1 L583.1,118.3 L583.4,118.3 L583.6,118.2 L583.8,118.1 L584.0,117.8 L584.2,117.4 L584.4,117.0 L584.6,116.4 L584.8,115.8 L585.0,115.1 L585.3,114.3 L585.5,113.5 L585.7,112.6 L585.9,111.6 L586.1,110.6 L586.3,109.6 L586.5,108.6 L586.7,107.5 L587.0,106.5 L587.2,105.4 L587.4,104.4 L587.6,103.3 L587.8,102.3 L588.0,101.4 L588.2,100.5 L588.4,99.7 L588.7,98.9 L588.9,98.2 L589.1,97.5 L589.3,97.0 L589.5,96.5 L589.7,96.2 L589.9,95.9 L590.1,95.7 L590.4,95.7 L590.6,95.7 L590.8,95.8 L591.0,96.1 L591.2,96.4 L591.4,96.8 L591.6,97.3 L591.8,97.9 L592.0,98.6 L592.3,99.3 L592.5,100.1 L592.7,101.0 L592.9,102.0 L593.1,102.9 L593.3,103.9 L593.5,105.0 L593.7,106.0 L594.0,107.1 L594.2,108.2 L594.4,109.2 L594.6,110.2 L594.8,111.3 L595.0,112.2 L595.2,113.1 L595.4,114.0 L595.7,114.8 L595.9,115.6 L596.1,116.2 L596.3,116.8 L596.5,117.3 L596.7,117.7 L596.9,118.0 L597.1,118.2 L597.4,118.3 L597.6,118.3 L597.8,118.3 L598.0,118.1 L598.2,117.8 L598.4,117.4 L598.6,117.0 L598.8,116.4 L599.1,115.8 L599.3,115.0 L599.5,114.3 L599.7,113.4 L599.9,112.5 L600.1,111.6 L600.3,110.6 L600.5,109.5 L600.7,108.5 L601.0,107.4 L601.2,106.4 L601.4,105.3 L601.6,104.3 L601.8,103.3 L602.0,102.3 L602.2,101.4 L602.4,100.5 L602.7,99.6 L602.9,98.9 L603.1,98.2 L603.3,97.6 L603.5,97.1 L603.7,96.6 L603.9,96.3 L604.1,96.0 L604.4,95.9 L604.6,95.8 L604.8,95.9 L605.0,96.0 L605.2,96.3 L605.4,96.6 L605.6,97.0 L605.8,97.6 L606.1,98.2 L606.3,98.8 L606.5,99.6 L606.7,100.4 L606.9,101.3 L607.1,102.2 L607.3,103.2 L607.5,104.2 L607.7,105.3 L608.0,106.3 L608.2,107.4 L608.4,108.5 L608.6,109.5 L608.8,110.5 L609.0,111.5 L609.2,112.5 L609.4,113.4 L609.7,114.2 L609.9,115.0 L610.1,115.8 L610.3,116.4 L610.5,117.0 L610.7,117.4 L610.9,117.8 L611.1,118.1 L611.4,118.3 L611.6,118.4 L611.8,118.4 L612.0,118.3 L612.2,118.1 L612.4,117.8 L612.6,117.4 L612.8,116.9 L613.1,116.4 L613.3,115.7 L613.5,115.0 L613.7,114.2 L613.9,113.3 L614.1,112.4 L614.3,111.5 L614.5,110.5 L614.7,109.4 L615.0,108.4 L615.2,107.3 L615.4,106.3 L615.6,105.2 L615.8,104.2 L616.0,103.2 L616.2,102.2 L616.4,101.3 L616.7,100.4 L616.9,99.6 L617.1,98.9 L617.3,98.2 L617.5,97.6 L617.7,97.1 L617.9,96.7 L618.1,96.4 L618.4,96.1 L618.6,96.0 L618.8,96.0 L619.0,96.0 L619.2,96.2 L619.4,96.5 L619.6,96.8 L619.8,97.3 L620.1,97.8 L620.3,98.4 L620.5,99.1 L620.7,99.9 L620.9,100.7 L621.1,101.6 L621.3,102.5 L621.5,103.5 L621.7,104.5 L622.0,105.6 L622.2,106.6 L622.4,107.7 L622.6,108.7 L622.8,109.8 L623.0,110.8 L623.2,111.8 L623.4,112.7 L623.7,113.6 L623.9,114.5 L624.1,115.2 L624.3,116.0 L624.5,116.6 L624.7,117.1 L624.9,117.6 L625.1,118.0 L625.4,118.2 L625.6,118.4 L625.8,118.5 L626.0,118.5 L626.2,118.3 L626.4,118.1 L626.6,117.8 L626.8,117.4 L627.1,116.9 L627.3,116.3 L627.5,115.7 L627.7,114.9 L627.9,114.1 L628.1,113.3 L628.3,112.3 L628.5,111.4 L628.7,110.4 L629.0,109.4 L629.2,108.3 L629.4,107.3 L629.6,106.2 L629.8,105.2 L630.0,104.1 L630.2,103.1 L630.4,102.2 L630.7,101.3 L630.9,100.4 L631.1,99.6 L631.3,98.9 L631.5,98.2 L631.7,97.7 L631.9,97.2 L632.1,96.8 L632.4,96.5 L632.6,96.2 L632.8,96.1 L633.0,96.1 L633.2,96.2 L633.4,96.4 L633.6,96.6 L633.8,97.0 L634.1,97.5 L634.3,98.0 L634.5,98.7 L634.7,99.4 L634.9,100.2 L635.1,101.0 L635.3,101.9 L635.5,102.8 L635.8,103.8 L636.0,104.8 L636.2,105.9 L636.4,106.9 L636.6,108.0 L636.8,109.0 L637.0,110.1 L637.2,111.1 L637.4,112.0 L637.7,113.0 L637.9,113.9 L638.1,114.7 L638.3,115.5 L638.5,116.1 L638.7,116.8 L638.9,117.3 L639.1,117.7 L639.4,118.1 L639.6,118.3 L639.8,118.5 L640.0,118.6 L640.2,118.5 L640.4,118.4 L640.6,118.1 L640.8,117.8 L641.1,117.4 L641.3,116.9 L641.5,116.3 L641.7,115.6 L641.9,114.9 L642.1,114.0 L642.3,113.2 L642.5,112.3 L642.8,111.3 L643.0,110.3 L643.2,109.3 L643.4,108.2 L643.6,107.2 L643.8,106.1 L644.0,105.1 L644.2,104.1 L644.4,103.1 L644.7,102.1 L644.9,101.2 L645.1,100.4 L645.3,99.6 L645.5,98.9 L645.7,98.3 L645.9,97.7 L646.1,97.2 L646.4,96.8 L646.6,96.5 L646.8,96.4 L647.0,96.3 L647.2,96.3 L647.4,96.4 L647.6,96.6 L647.8,96.9 L648.1,97.2 L648.3,97.7 L648.5,98.3 L648.7,98.9 L648.9,99.6 L649.1,100.4 L649.3,101.3 L649.5,102.2 L649.8,103.1 L650.0,104.1 L650.2,105.1 L650.4,106.2 L650.6,107.2 L650.8,108.3 L651.0,109.3 L651.2,110.3 L651.4,111.3 L651.7,112.3 L651.9,113.2 L652.1,114.1 L652.3,114.9 L652.5,115.7 L652.7,116.3 L652.9,116.9 L653.1,117.4 L653.4,117.9 L653.6,118.2 L653.8,118.4 L654.0,118.6 L654.2,118.6 L654.4,118.6 L654.6,118.4 L654.8,118.2 L655.1,117.8 L655.3,117.4 L655.5,116.8 L655.7,116.2 L655.9,115.6 L656.1,114.8 L656.3,114.0 L656.5,113.1 L656.8,112.2 L657.0,111.2 L657.2,110.2 L657.4,109.2 L657.6,108.1 L657.8,107.1 L658.0,106.0 L658.2,105.0 L658.4,104.0 L658.7,103.0 L658.9,102.1 L659.1,101.2 L659.3,100.4 L659.5,99.6 L659.7,98.9 L659.9,98.3 L660.1,97.7 L660.4,97.3 L660.6,96.9 L660.8,96.6 L661.0,96.5 L661.2,96.4 L661.4,96.4 L661.6,96.5 L661.8,96.7 L662.1,97.1 L662.3,97.5 L662.5,97.9 L662.7,98.5 L662.9,99.2 L663.1,99.9 L663.3,100.7 L663.5,101.6 L663.8,102.5 L664.0,103.4 L664.2,104.4 L664.4,105.4 L664.6,106.5 L664.8,107.5 L665.0,108.5 L665.2,109.6 L665.4,110.6 L665.7,111.6 L665.9,112.5 L666.1,113.5 L666.3,114.3 L666.5,115.1 L666.7,115.8 L666.9,116.5 L667.1,117.1 L667.4,117.6 L667.6,118.0 L667.8,118.3 L668.0,118.5 L668.2,118.6 L668.4,118.6 L668.6,118.6 L668.8,118.4 L669.1,118.1 L669.3,117.8 L669.5,117.3 L669.7,116.8 L669.9,116.2 L670.1,115.5 L670.3,114.7 L670.5,113.9 L670.8,113.0 L671.0,112.0 L671.2,111.1 L671.4,110.1 L671.6,109.0 L671.8,108.0 L672.0,107.0 L672.2,105.9 L672.5,104.9 L672.7,103.9 L672.9,102.9 L673.1,102.0 L673.3,101.1 L673.5,100.3 L673.7,99.6 L673.9,98.9 L674.1,98.3 L674.4,97.7 L674.6,97.3 L674.8,96.9 L675.0,96.7 L675.2,96.5 L675.4,96.5 L675.6,96.5 L675.8,96.6 L676.1,96.9 L676.3,97.2 L676.5,97.6 L676.7,98.1 L676.9,98.7 L677.1,99.4 L677.3,100.1 L677.5,100.9 L677.8,101.8 L678.0,102.7 L678.2,103.6 L678.4,104.6 L678.6,105.7 L678.8,106.7 L679.0,107.7 L679.2,108.8 L679.5,109.8 L679.7,110.8 L679.9,111.8 L680.1,112.8 L680.3,113.7 L680.5,114.5 L680.7,115.3 L680.9,116.0 L681.1,116.7 L681.4,117.2 L681.6,117.7 L681.8,118.1 L682.0,118.4 L682.2,118.6 L682.4,118.7 L682.6,118.7 L682.8,118.6 L683.1,118.4 L683.3,118.1 L683.5,117.8 L683.7,117.3 L683.9,116.7 L684.1,116.1 L684.3,115.4 L684.5,114.6 L684.8,113.8 L685.0,112.9 L685.2,111.9 L685.4,110.9 L685.6,109.9 L685.8,108.9 L686.0,107.9 L686.2,106.8 L686.5,105.8 L686.7,104.8 L686.9,103.8 L687.1,102.8 L687.3,101.9 L687.5,101.0 L687.7,100.2 L687.9,99.4 L688.1,98.8 L688.4,98.2 L688.6,97.7 L688.8,97.2 L689.0,96.9 L689.2,96.7 L689.4,96.5 L689.6,96.5 L689.8,96.5 L690.1,96.7 L690.3,96.9 L690.5,97.3 L690.7,97.7 L690.9,98.2 L691.1,98.8 L691.3,99.5 L691.5,100.3 L691.8,101.1 L692.0,101.9 L692.2,102.9 L692.4,103.8 L692.6,104.8 L692.8,105.9 L693.0,106.9 L693.2,108.0 L693.5,109.0 L693.7,110.0 L693.9,111.1 L694.1,112.0 L694.3,113.0 L694.5,113.9 L694.7,114.7 L694.9,115.5 L695.1,116.2 L695.4,116.8 L695.6,117.4 L695.8,117.9 L696.0,118.2 L696.2,118.5 L696.4,118.7 L696.6,118.8 L696.8,118.8 L697.1,118.7 L697.3,118.5 L697.5,118.2 L697.7,117.8 L697.9,117.3 L698.1,116.7 L698.3,116.1 L698.5,115.3 L698.8,114.5 L699.0,113.7 L699.2,112.8 L699.4,111.8 L699.6,110.8 L699.8,109.8 L700.0,108.8 L700.2,107.7 L700.5,106.7 L700.7,105.6 L700.9,104.6 L701.1,103.6 L701.3,102.6 L701.5,101.7 L701.7,100.9 L701.9,100.1 L702.1,99.3 L702.4,98.7 L702.6,98.1 L702.8,97.6 L703.0,97.2 L703.2,96.8 L703.4,96.6 L703.6,96.5 L703.8,96.5 L704.1,96.5 L704.3,96.7 L704.5,97.0 L704.7,97.3 L704.9,97.8 L705.1,98.3 L705.3,98.9 L705.5,99.6 L705.8,100.4 L706.0,101.2 L706.2,102.1 L706.4,103.1 L706.6,104.1 L706.8,105.1 L707.0,106.1 L707.2,107.2 L707.5,108.2 L707.7,109.3 L707.9,110.3 L708.1,111.3 L708.3,112.3 L708.5,113.2 L708.7,114.1 L708.9,114.9 L709.2,115.7 L709.4,116.4 L709.6,117.0 L709.8,117.6 L710.0,118.0 L710.2,118.4 L710.4,118.7 L710.6,118.8 L710.8,118.9 L711.1,118.9 L711.3,118.7 L711.5,118.5 L711.7,118.2 L711.9,117.8 L712.1,117.3 L712.3,116.7 L712.5,116.0 L712.8,115.3 L713.0,114.5 L713.2,113.6 L713.4,112.7 L713.6,111.7 L713.8,110.7 L714.0,109.7 L714.2,108.6 L714.5,107.6 L714.7,106.5 L714.9,105.5 L715.1,104.5 L715.3,103.5 L715.5,102.5 L715.7,101.6 L715.9,100.7 L716.2,99.9 L716.4,99.2 L716.6,98.5 L716.8,98.0 L717.0,97.5 L717.2,97.1 L717.4,96.8 L717.6,96.6 L717.8,96.5 L718.1,96.5 L718.3,96.5 L718.5,96.7 L718.7,97.0 L718.9,97.4 L719.1,97.8 L719.3,98.4 L719.5,99.0 L719.8,99.7 L720.0,100.5 L720.2,101.3 L720.4,102.2 L720.6,103.1 L720.8,104.1 L721.0,105.1 L721.2,106.1 L721.5,107.2 L721.7,108.2 L721.9,109.3 L722.1,110.3 L722.3,111.3 L722.5,112.3 L722.7,113.2 L722.9,114.1 L723.2,115.0 L723.4,115.7 L723.6,116.4 L723.8,117.1 L724.0,117.6 L724.2,118.1 L724.4,118.4 L724.6,118.7 L724.8,118.9 L725.1,119.0 L725.3,119.0 L725.5,118.9 L725.7,118.7 L725.9,118.4 L726.1,118.0 L726.3,117.5 L726.5,116.9 L726.8,116.3 L727.0,115.6 L727.2,114.8 L727.4,113.9 L727.6,113.0 L727.8,112.1 L728.0,111.1 L728.2,110.1 L728.5,109.1 L728.7,108.0 L728.9,107.0 L729.1,105.9 L729.3,104.9 L729.5,103.9 L729.7,102.9 L729.9,102.0 L730.2,101.1 L730.4,100.3 L730.6,99.5 L730.8,98.9 L731.0,98.3 L731.2,97.7 L731.4,97.3 L731.6,96.9 L731.8,96.7 L732.1,96.5 L732.3,96.4 L732.5,96.5 L732.7,96.6 L732.9,96.8 L733.1,97.1 L733.3,97.6 L733.5,98.1 L733.8,98.6 L734.0,99.3 L734.2,100.0 L734.4,100.8 L734.6,101.7 L734.8,102.6 L735.0,103.6 L735.2,104.6 L735.5,105.6 L735.7,106.6 L735.9,107.7 L736.1,108.7 L736.3,109.8 L736.5,110.8 L736.7,111.8 L736.9,112.8 L737.2,113.7 L737.4,114.6 L737.6,115.4 L737.8,116.1 L738.0,116.8 L738.2,117.4 L738.4,117.9 L738.6,118.3 L738.8,118.7 L739.1,118.9 L739.3,119.0 L739.5,119.1 L739.7,119.0 L739.9,118.9 L740.1,118.6 L740.3,118.3 L740.5,117.9 L740.8,117.4 L741.0,116.8 L741.2,116.1 L741.4,115.3 L741.6,114.5 L741.8,113.6 L742.0,112.7 L742.2,111.7 L742.5,110.7 L742.7,109.7 L742.9,108.7 L743.1,107.6 L743.3,106.6 L743.5,105.5 L743.7,104.5 L743.9,103.5 L744.2,102.6 L744.4,101.6 L744.6,100.8 L744.8,100.0 L745.0,99.2 L745.2,98.6 L745.4,98.0 L745.6,97.5 L745.9,97.1 L746.1,96.8 L746.3,96.6 L746.5,96.5 L746.7,96.4 L746.9,96.5 L747.1,96.7 L747.3,96.9 L747.5,97.3 L747.8,97.8 L748.0,98.3 L748.2,98.9 L748.4,99.6 L748.6,100.4 L748.8,101.2 L749.0,102.1 L749.2,103.0 L749.5,104.0 L749.7,105.0 L749.9,106.1 L750.1,107.1 L750.3,108.2 L750.5,109.2 L750.7,110.3 L750.9,111.3 L751.2,112.3 L751.4,113.2 L751.6,114.1 L751.8,115.0 L752.0,115.8 L752.2,116.5 L752.4,117.1 L752.6,117.7 L752.9,118.2 L753.1,118.6 L753.3,118.9 L753.5,119.1 L753.7,119.2 L753.9,119.2 L754.1,119.1 L754.3,118.9 L754.5,118.6 L754.8,118.2 L755.0,117.7 L755.2,117.2 L755.4,116.6 L755.6,115.8 L755.8,115.1 L756.0,114.2 L756.2,113.3 L756.5,112.4 L756.7,111.4 L756.9,110.4 L757.1,109.3 L757.3,108.3 L757.5,107.2 L757.7,106.2 L757.9,105.1 L758.2,104.1 L758.4,103.1 L758.6,102.2 L758.8,101.3 L759.0,100.4 L759.2,99.7 L759.4,99.0 L759.6,98.3 L759.9,97.8 L760.1,97.3 L760.3,97.0 L760.5,96.7 L760.7,96.5 L760.9,96.5 L761.1,96.5 L761.3,96.6 L761.5,96.8 L761.8,97.1 L762.0,97.6 L762.2,98.1 L762.4,98.6 L762.6,99.3 L762.8,100.0 L763.0,100.9 L763.2,101.7 L763.5,102.6 L763.7,103.6 L763.9,104.6 L764.1,105.7 L764.3,106.7 L764.5,107.8 L764.7,108.9 L764.9,109.9 L765.2,111.0 L765.4,112.0 L765.6,113.0 L765.8,113.9 L766.0,114.8 L766.2,115.7 L766.4,116.4 L766.6,117.1 L766.9,117.8 L767.1,118.3 L767.3,118.8 L767.5,119.1 L767.7,119.4 L767.9,119.6 L768.1,119.6 L768.3,119.6 L768.5,119.5 L768.8,119.2 L769.0,118.9 L769.2,118.5 L769.4,118.0 L769.6,117.4 L769.8,116.8 L770.0,116.0 L770.2,115.2 L770.5,114.3 L770.7,113.4 L770.9,112.5 L771.1,111.4 L771.3,110.4 L771.5,109.4 L771.7,108.3 L771.9,107.3 L772.2,106.2 L772.4,105.2 L772.6,104.2 L772.8,103.2 L773.0,102.3 L773.2,101.4 L773.4,100.6 L773.6,99.9 L773.9,99.2 L774.1,98.6 L774.3,98.1 L774.5,97.7 L774.7,97.3 L774.9,97.1 L775.1,97.0 L775.3,97.0 L775.5,97.0 L775.8,97.2 L776.0,97.5 L776.2,97.8 L776.4,98.3 L776.6,98.8 L776.8,99.4 L777.0,100.1 L777.2,100.9 L777.5,101.8 L777.7,102.7 L777.9,103.6 L778.1,104.6 L778.3,105.7 L778.5,106.7 L778.7,107.8 L778.9,108.9 L779.2,110.0 L779.4,111.0 L779.6,112.1 L779.8,113.1 L780.0,114.1 L780.2,115.0 L780.4,115.9 L780.6,116.7 L780.9,117.5 L781.1,118.1 L781.3,118.7 L781.5,119.2 L781.7,119.7 L781.9,120.0 L782.1,120.2 L782.3,120.3 L782.6,120.4 L782.8,120.3 L783.0,120.1 L783.2,119.9 L783.4,119.5 L783.6,119.0 L783.8,118.5 L784.0,117.9 L784.2,117.2 L784.5,116.4 L784.7,115.5 L784.9,114.6 L785.1,113.7 L785.3,112.7 L785.5,111.7 L785.7,110.6 L785.9,109.5 L786.2,108.5 L786.4,107.4 L786.6,106.4 L786.8,105.3 L787.0,104.3 L787.2,103.4 L787.4,102.5 L787.6,101.6 L787.9,100.8 L788.1,100.1 L788.3,99.4 L788.5,98.9 L788.7,98.4 L788.9,98.0 L789.1,97.7 L789.3,97.5 L789.6,97.4 L789.8,97.4 L790.0,97.5 L790.2,97.7 L790.4,98.0 L790.6,98.4 L790.8,98.9 L791.0,99.5 L791.2,100.1 L791.5,100.9 L791.7,101.7 L791.9,102.5 L792.1,103.4 L792.3,104.4 L792.5,105.4 L792.7,106.5 L792.9,107.5 L793.2,108.6 L793.4,109.7 L793.6,110.8 L793.8,111.8 L794.0,112.9 L794.2,113.9 L794.4,114.8 L794.6,115.7 L794.9,116.6 L795.1,117.4 L795.3,118.1 L795.5,118.7 L795.7,119.3 L795.9,119.7 L796.1,120.1 L796.3,120.4 L796.6,120.6 L796.8,120.6 L797.0,120.6 L797.2,120.5 L797.4,120.3 L797.6,119.9 L797.8,119.5 L798.0,119.0 L798.2,118.4 L798.5,117.7 L798.7,117.0 L798.9,116.1 L799.1,115.2 L799.3,114.3 L799.5,113.3 L799.7,112.3 L799.9,111.2 L800.2,110.1 L800.4,109.0 L800.6,107.9 L800.8,106.9 L801.0,105.8 L801.2,104.7 L801.4,103.7 L801.6,102.8 L801.9,101.9 L802.1,101.0 L802.3,100.2 L802.5,99.5 L802.7,98.9 L802.9,98.4 L803.1,97.9 L803.3,97.6 L803.6,97.3 L803.8,97.1 L804.0,97.1 L804.2,97.1 L804.4,97.3 L804.6,97.5 L804.8,97.9 L805.0,98.3 L805.2,98.8 L805.5,99.4 L805.7,100.1 L805.9,100.9 L806.1,101.7 L806.3,102.6 L806.5,103.6 L806.7,104.6 L806.9,105.6 L807.2,106.7 L807.4,107.8 L807.6,108.9 L807.8,110.0 L808.0,111.0 L808.2,112.1 L808.4,113.1 L808.6,114.1 L808.9,115.1 L809.1,116.0 L809.3,116.8 L809.5,117.6 L809.7,118.3 L809.9,118.9 L810.1,119.4 L810.3,119.8 L810.6,120.2 L810.8,120.4 L811.0,120.5 L811.2,120.5 L811.4,120.5 L811.6,120.3 L811.8,120.0 L812.0,119.7 L812.2,119.2 L812.5,118.6 L812.7,118.0 L812.9,117.3 L813.1,116.5 L813.3,115.6 L813.5,114.7 L813.7,113.7 L813.9,112.7 L814.2,111.6 L814.4,110.6 L814.6,109.5 L814.8,108.4 L815.0,107.2 L815.2,106.2 L815.4,105.1 L815.6,104.1 L815.9,103.1 L816.1,102.1 L816.3,101.2 L816.5,100.4 L816.7,99.6 L816.9,98.9 L817.1,98.3 L817.3,97.8 L817.6,97.4 L817.8,97.1 L818.0,96.9 L818.2,96.8 L818.4,96.8 L818.6,96.9 L818.8,97.1 L819.0,97.4 L819.3,97.8 L819.5,98.3 L819.7,98.8 L819.9,99.5 L820.1,100.3 L820.3,101.1 L820.5,102.0 L820.7,102.9 L820.9,103.9 L821.2,105.0 L821.4,106.1 L821.6,107.2 L821.8,108.3 L822.0,109.4 L822.2,110.5 L822.4,111.6 L822.6,112.6 L822.9,113.7 L823.1,114.6 L823.3,115.6 L823.5,116.4 L823.7,117.2 L823.9,118.0 L824.1,118.6 L824.3,119.2 L824.6,119.6 L824.8,120.0 L825.0,120.2 L825.2,120.4 L825.4,120.5 L825.6,120.4 L825.8,120.3 L826.0,120.0 L826.3,119.6 L826.5,119.2 L826.7,118.6 L826.9,118.0 L827.1,117.3 L827.3,116.5 L827.5,115.6 L827.7,114.6 L827.9,113.7 L828.2,112.6 L828.4,111.6 L828.6,110.5 L828.8,109.3 L829.0,108.2 L829.2,107.1 L829.4,106.0 L829.6,104.9 L829.9,103.8 L830.1,102.8 L830.3,101.8 L830.5,100.9 L830.7,100.1 L830.9,99.3 L831.1,98.6 L831.3,98.0 L831.6,97.5 L831.8,97.1 L832.0,96.8 L832.2,96.5 L832.4,96.4 L832.6,96.4 L832.8,96.5 L833.0,96.7 L833.3,97.0 L833.5,97.4 L833.7,97.9 L833.9,98.5 L834.1,99.2 L834.3,99.9 L834.5,100.8 L834.7,101.7 L834.9,102.6 L835.2,103.6 L835.4,104.7 L835.6,105.8 L835.8,106.9 L836.0,108.0 L836.2,109.1 L836.4,110.2 L836.6,111.3 L836.9,112.4 L837.1,113.4 L837.3,114.4 L837.5,115.3 L837.7,116.2 L837.9,117.0 L838.1,117.7 L838.3,118.4 L838.6,118.9 L838.8,119.4 L839.0,119.7 L839.2,120.0 L839.4,120.1 L839.6,120.2 L839.8,120.1 L840.0,120.0 L840.3,119.7 L840.5,119.3 L840.7,118.8 L840.9,118.3 L841.1,117.6 L841.3,116.9 L841.5,116.1 L841.7,115.2 L841.9,114.2 L842.2,113.2 L842.4,112.2 L842.6,111.1 L842.8,110.0 L843.0,108.9 L843.2,107.7 L843.4,106.6 L843.6,105.5 L843.9,104.3 L844.1,103.3 L844.3,102.2 L844.5,101.3 L844.7,100.3 L844.9,99.5 L845.1,98.7 L845.3,98.0 L845.6,97.4 L845.8,96.9 L846.0,96.4 L846.2,96.1 L846.4,95.9 L846.6,95.8 L846.8,95.8 L847.0,95.9 L847.3,96.1 L847.5,96.4 L847.7,96.8 L847.9,97.3 L848.1,97.9 L848.3,98.6 L848.5,99.3 L848.7,100.2 L848.9,101.1 L849.2,102.1 L849.4,103.1 L849.6,104.1 L849.8,105.2 L850.0,106.4 L850.2,107.5 L850.4,108.6 L850.6,109.7 L850.9,110.8 L851.1,111.9 L851.3,113.0 L851.5,114.0 L851.7,114.9 L851.9,115.8 L852.1,116.6 L852.3,117.3 L852.6,118.0 L852.8,118.5 L853.0,119.0 L853.2,119.3 L853.4,119.6 L853.6,119.7 L853.8,119.8 L854.0,119.7 L854.3,119.6 L854.5,119.3 L854.7,118.9 L854.9,118.4 L855.1,117.9 L855.3,117.2 L855.5,116.4 L855.7,115.6 L856.0,114.7 L856.2,113.8 L856.4,112.7 L856.6,111.7 L856.8,110.6 L857.0,109.5 L857.2,108.3 L857.4,107.2 L857.6,106.0 L857.9,104.9 L858.1,103.8 L858.3,102.7 L858.5,101.7 L858.7,100.7 L858.9,99.7 L859.1,98.9 L859.3,98.1 L859.6,97.4 L859.8,96.8 L860.0,96.2 L860.2,95.8 L860.4,95.5 L860.6,95.3 L860.8,95.2 L861.0,95.1 L861.3,95.2 L861.5,95.5 L861.7,95.8 L861.9,96.2 L862.1,96.7 L862.3,97.3 L862.5,98.0 L862.7,98.8 L863.0,99.6 L863.2,100.5 L863.4,101.5 L863.6,102.5 L863.8,103.6 L864.0,104.7 L864.2,105.8 L864.4,107.0 L864.6,108.1 L864.9,109.3 L865.1,110.4 L865.3,111.5 L865.5,112.5 L865.7,113.5 L865.9,114.5 L866.1,115.4 L866.3,116.2 L866.6,116.9 L866.8,117.6 L867.0,118.1 L867.2,118.6 L867.4,118.9 L867.6,119.2 L867.8,119.3 L868.0,119.4 L868.3,119.3 L868.5,119.1 L868.7,118.9 L868.9,118.5 L869.1,118.0 L869.3,117.4 L869.5,116.8 L869.7,116.0 L870.0,115.2 L870.2,114.3 L870.4,113.3 L870.6,112.3 L870.8,111.2 L871.0,110.1 L871.2,108.9 L871.4,107.8 L871.6,106.6 L871.9,105.5 L872.1,104.3 L872.3,103.2 L872.5,102.1 L872.7,101.1 L872.9,100.1 L873.1,99.1 L873.3,98.3 L873.6,97.5 L873.8,96.8 L874.0,96.2 L874.2,95.6 L874.4,95.2 L874.6,94.9 L874.8,94.7 L875.0,94.6 L875.3,94.6 L875.5,94.7 L875.7,94.9 L875.9,95.3 L876.1,95.7 L876.3,96.2 L876.5,96.8 L876.7,97.5 L877.0,98.3 L877.2,99.2 L877.4,100.1 L877.6,101.1 L877.8,102.2 L878.0,103.3 L878.2,104.4 L878.4,105.5 L878.6,106.7 L878.9,107.8 L879.1,109.0 L879.3,110.1 L879.5,111.2 L879.7,112.3 L879.9,113.3 L880.1,114.3 L880.3,115.1 L880.6,116.0 L880.8,116.7 L881.0,117.4 L881.2,117.9 L881.4,118.4 L881.6,118.8 L881.8,119.0 L882.0,119.2 L882.3,119.2 L882.5,119.2 L882.7,119.0 L882.9,118.7 L883.1,118.3 L883.3,117.9 L883.5,117.3 L883.7,116.6 L884.0,115.9 L884.2,115.0 L884.4,114.1 L884.6,113.2 L884.8,112.1 L885.0,111.1 L885.2,110.0 L885.4,108.8 L885.6,107.7 L885.9,106.5 L886.1,105.4 L886.3,104.2 L886.5,103.1 L886.7,102.0 L886.9,101.0 L887.1,100.0 L887.3,99.1 L887.6,98.2 L887.8,97.4 L888.0,96.7 L888.2,96.1 L888.4,95.6 L888.6,95.2 L888.8,94.9 L889.0,94.7 L889.3,94.6 L889.5,94.6 L889.7,94.7 L889.9,94.9 L890.1,95.3 L890.3,95.7 L890.5,96.2 L890.7,96.9 L891.0,97.6 L891.2,98.4 L891.4,99.2 L891.6,100.2 L891.8,101.2 L892.0,102.2 L892.2,103.3 L892.4,104.4 L892.7,105.6 L892.9,106.7 L893.1,107.9 L893.3,109.0 L893.5,110.1 L893.7,111.2 L893.9,112.3 L894.1,113.3 L894.3,114.3 L894.6,115.2 L894.8,116.0 L895.0,116.7 L895.2,117.4 L895.4,117.9 L895.6,118.4 L895.8,118.8 L896.0,119.0 L896.3,119.2 L896.5,119.2 L896.7,119.2 L896.9,119.0 L897.1,118.7 L897.3,118.3 L897.5,117.8 L897.7,117.3 L898.0,116.6 L898.2,115.8 L898.4,115.0 L898.6,114.1 L898.8,113.1 L899.0,112.1 L899.2,111.0 L899.4,109.9 L899.7,108.8 L899.9,107.7 L900.1,106.5 L900.3,105.4 L900.5,104.2 L900.7,103.1 L900.9,102.0 L901.1,101.0 L901.3,100.0 L901.6,99.1 L901.8,98.2 L902.0,97.4 L902.2,96.7 L902.4,96.1 L902.6,95.6 L902.8,95.2 L903.0,94.9 L903.3,94.7 L903.5,94.6 L903.7,94.6 L903.9,94.7 L904.1,94.9 L904.3,95.3 L904.5,95.7 L904.7,96.2 L905.0,96.9 L905.2,97.6 L905.4,98.4 L905.6,99.2 L905.8,100.2 L906.0,101.2 L906.2,102.2 L906.4,103.3 L906.7,104.4 L906.9,105.6 L907.1,106.7 L907.3,107.9 L907.5,109.0 L907.7,110.2 L907.9,111.3 L908.1,112.3 L908.3,113.3 L908.6,114.3 L908.8,115.2 L909.0,116.0 L909.2,116.7 L909.4,117.4 L909.6,118.0 L909.8,118.4 L910.0,118.8 L910.3,119.0 L910.5,119.2 L910.7,119.2 L910.9,119.2 L911.1,119.0 L911.3,118.7 L911.5,118.3 L911.7,117.8 L912.0,117.3 L912.2,116.6 L912.4,115.8 L912.6,115.0 L912.8,114.1 L913.0,113.1 L913.2,112.1 L913.4,111.0 L913.7,109.9 L913.9,108.8 L914.1,107.6 L914.3,106.5 L914.5,105.3 L914.7,104.2 L914.9,103.1 L915.1,102.0 L915.3,101.0 L915.6,100.0 L915.8,99.0 L916.0,98.2 L916.2,97.4 L916.4,96.7 L916.6,96.1 L916.8,95.6 L917.0,95.2 L917.3,94.9 L917.5,94.7 L917.7,94.6 L917.9,94.6 L918.1,94.7 L918.3,94.9 L918.5,95.3 L918.7,95.7 L919.0,96.3 L919.2,96.9 L919.4,97.6 L919.6,98.4 L919.8,99.3 L920.0,100.2 L920.2,101.2 L920.4,102.3 L920.7,103.3 L920.9,104.5 L921.1,105.6 L921.3,106.8 L921.5,107.9 L921.7,109.1 L921.9,110.2 L922.1,111.3 L922.3,112.3 L922.6,113.4 L922.8,114.3 L923.0,115.2 L923.2,116.0 L923.4,116.8 L923.6,117.4 L923.8,118.0 L924.0,118.4 L924.3,118.8 L924.5,119.0 L924.7,119.2 L924.9,119.2 L925.1,119.2 L925.3,119.0 L925.5,118.7 L925.7,118.3 L926.0,117.8 L926.2,117.2 L926.4,116.6 L926.6,115.8 L926.8,115.0 L927.0,114.1 L927.2,113.1 L927.4,112.1 L927.7,111.0 L927.9,109.9 L928.1,108.8 L928.3,107.6 L928.5,106.5 L928.7,105.3 L928.9,104.2 L929.1,103.0 L929.4,102.0 L929.6,100.9 L929.8,99.9 L930.0,99.0 L930.2,98.2 L930.4,97.4 L930.6,96.7 L930.8,96.1 L931.0,95.6 L931.3,95.2 L931.5,94.9 L931.7,94.7 L931.9,94.6 L932.1,94.6 L932.3,94.7 L932.5,95.0 L932.7,95.3 L933.0,95.7 L933.2,96.3 L933.4,96.9 L933.6,97.6 L933.8,98.4 L934.0,99.3 L934.2,100.2 L934.4,101.2 L934.7,102.3 L934.9,103.4 L935.1,104.5 L935.3,105.6 L935.5,106.8 L935.7,107.9 L935.9,109.1 L936.1,110.2 L936.4,111.3 L936.6,112.4 L936.8,113.4 L937.0,114.3 L937.2,115.2 L937.4,116.0 L937.6,116.8 L937.8,117.4 L938.0,118.0 L938.3,118.4 L938.5,118.8 L938.7,119.0 L938.9,119.2 L939.1,119.2 L939.3,119.2 L939.5,119.0 L939.7,118.7 L940.0,118.3 L940.2,117.8 L940.4,117.2 L940.6,116.6 L940.8,115.8 L941.0,115.0 L941.2,114.0 L941.4,113.1 L941.7,112.0 L941.9,111.0 L942.1,109.9 L942.3,108.7 L942.5,107.6 L942.7,106.4 L942.9,105.3 L943.1,104.1 L943.4,103.0 L943.6,101.9 L943.8,100.9 L944.0,99.9 L944.2,99.0" stroke-width="4.6"/>
</g>
<g clip-path="url(#cb)" fill="none" stroke="#000" stroke-linejoin="round">
<path d="M179.8,506.5 L180.1,513.9 L180.3,521.3 L180.6,514.1 L180.8,506.5 L181.1,499.0 L181.3,491.5 L181.6,483.9 L181.8,476.4 L182.1,468.8 L182.3,461.3 L182.6,453.7 L182.9,446.2 L183.1,438.6 L183.4,439.9 L183.6,446.1 L183.9,452.3 L184.1,458.4 L184.4,464.6 L184.6,457.0 L184.9,449.2 L185.1,441.4 L185.4,433.6 L185.7,430.7 L185.9,438.1 L186.2,445.6 L186.4,453.0 L186.7,460.4 L186.9,467.7 L187.2,475.1 L187.4,482.4 L187.7,489.8 L187.9,497.1 L188.2,504.4 L188.5,511.7 L188.7,518.9 L189.0,516.6 L189.2,509.2 L189.5,501.8 L189.7,494.5 L190.0,487.1 L190.2,479.8 L190.5,472.5 L190.7,465.2 L191.0,457.9 L191.3,450.7 L191.5,443.4 L191.8,440.6 L192.0,446.8 L192.3,453.1 L192.5,459.3 L192.8,465.5 L193.0,462.5 L193.3,454.8 L193.5,446.9 L193.8,439.0 L194.1,431.1 L194.3,438.1 L194.6,445.1 L194.8,452.2 L195.1,459.3 L195.3,466.4 L195.6,473.5 L195.8,480.7 L196.1,487.8 L196.3,495.0 L196.6,502.2 L196.9,509.4 L197.1,516.6 L197.4,518.9 L197.6,511.5 L197.9,504.0 L198.1,496.6 L198.4,489.1 L198.6,481.6 L198.9,474.1 L199.1,466.6 L199.4,459.0 L199.7,451.5 L199.9,443.9 L200.2,436.4 L200.4,442.4 L200.7,448.4 L200.9,454.4 L201.2,460.4 L201.4,461.6 L201.7,453.7 L202.0,445.8 L202.2,437.9 L202.5,430.0 L202.7,432.4 L203.0,439.9 L203.2,447.4 L203.5,454.8 L203.7,462.2 L204.0,469.6 L204.2,477.0 L204.5,484.3 L204.8,491.6 L205.0,498.9 L205.3,506.1 L205.5,513.4 L205.8,520.3 L206.0,512.8 L206.3,505.4 L206.5,498.0 L206.8,490.7 L207.0,483.3 L207.3,476.0 L207.6,468.8 L207.8,461.5 L208.1,454.4 L208.3,447.2 L208.6,440.1 L208.8,442.1 L209.1,448.3 L209.3,454.4 L209.6,460.6 L209.8,466.4 L210.1,458.8 L210.4,451.1 L210.6,443.4 L210.9,435.7 L211.1,433.3 L211.4,440.2 L211.6,447.2 L211.9,454.1 L212.1,461.1 L212.4,468.0 L212.6,474.9 L212.9,481.8 L213.2,488.6 L213.4,495.5 L213.7,502.3 L213.9,509.2 L214.2,516.1 L214.4,513.3 L214.7,506.3 L214.9,499.3 L215.2,492.3 L215.4,485.3 L215.7,478.3 L216.0,471.4 L216.2,464.4 L216.5,457.4 L216.7,450.4 L217.0,443.5 L217.2,441.3 L217.5,447.4 L217.7,453.4 L218.0,459.5 L218.2,465.5 L218.5,461.8 L218.8,454.1 L219.0,446.4 L219.3,438.7 L219.5,431.5 L219.8,438.4 L220.0,445.2 L220.3,452.0 L220.5,458.9 L220.8,465.8 L221.0,472.6 L221.3,479.5 L221.6,486.3 L221.8,493.2 L222.1,500.1 L222.3,507.0 L222.6,513.9 L222.8,515.5 L223.1,508.4 L223.3,501.4 L223.6,494.3 L223.8,487.3 L224.1,480.3 L224.4,473.2 L224.6,466.2 L224.9,459.1 L225.1,452.0 L225.4,445.0 L225.6,438.6 L225.9,444.5 L226.1,450.5 L226.4,456.4 L226.6,462.4 L226.9,463.0 L227.2,455.3 L227.4,447.6 L227.7,439.9 L227.9,432.2 L228.2,435.0 L228.4,442.0 L228.7,448.9 L228.9,455.8 L229.2,462.7 L229.4,469.6 L229.7,476.5 L230.0,483.4 L230.2,490.3 L230.5,497.2 L230.7,504.1 L231.0,511.0 L231.2,517.1 L231.5,510.1 L231.7,503.1 L232.0,496.1 L232.2,489.1 L232.5,482.0 L232.8,475.0 L233.0,468.0 L233.3,460.9 L233.5,453.9 L233.8,446.9 L234.0,439.8 L234.3,442.3 L234.5,448.2 L234.8,454.2 L235.0,460.1 L235.3,465.1 L235.6,457.5 L235.8,449.9 L236.1,442.2 L236.3,434.5 L236.6,432.7 L236.8,439.7 L237.1,446.6 L237.3,453.5 L237.6,460.5 L237.8,467.4 L238.1,474.4 L238.4,481.4 L238.6,488.4 L238.9,495.4 L239.1,502.4 L239.4,509.3 L239.6,516.3 L239.9,512.8 L240.1,505.7 L240.4,498.5 L240.6,491.4 L240.9,484.2 L241.2,477.0 L241.4,469.9 L241.7,462.7 L241.9,455.5 L242.2,448.4 L242.4,441.2 L242.7,439.4 L242.9,445.3 L243.2,451.1 L243.4,457.0 L243.7,462.9 L244.0,458.6 L244.2,451.0 L244.5,443.4 L244.7,435.7 L245.0,429.3 L245.2,436.4 L245.5,443.5 L245.7,450.7 L246.0,457.8 L246.3,464.8 L246.5,471.9 L246.8,478.9 L247.0,485.9 L247.3,492.8 L247.5,499.7 L247.8,506.6 L248.0,513.5 L248.3,514.5 L248.5,507.5 L248.8,500.5 L249.1,493.6 L249.3,486.7 L249.6,479.9 L249.8,473.1 L250.1,466.3 L250.3,459.6 L250.6,452.9 L250.8,446.2 L251.1,440.7 L251.3,446.8 L251.6,452.8 L251.9,458.8 L252.1,464.8 L252.4,465.1 L252.6,457.7 L252.9,450.2 L253.1,442.6 L253.4,435.0 L253.6,438.2 L253.9,444.8 L254.1,451.3 L254.4,457.9 L254.7,464.4 L254.9,471.0 L255.2,477.5 L255.4,484.1 L255.7,490.6 L255.9,497.2 L256.2,503.7 L256.4,510.3 L256.7,515.5 L256.9,508.8 L257.2,502.1 L257.5,495.4 L257.7,488.7 L258.0,482.0 L258.2,475.3 L258.5,468.5 L258.7,461.8 L259.0,455.1 L259.2,448.4 L259.5,441.7 L259.7,444.6 L260.0,450.4 L260.3,456.2 L260.5,462.0 L260.8,466.3 L261.0,458.8 L261.3,451.2 L261.5,443.7 L261.8,436.1 L262.0,434.9 L262.3,441.5 L262.5,448.1 L262.8,454.7 L263.1,461.3 L263.3,467.9 L263.6,474.5 L263.8,481.1 L264.1,487.7 L264.3,494.3 L264.6,500.9 L264.8,507.5 L265.1,514.1 L265.3,510.3 L265.6,503.6 L265.9,496.9 L266.1,490.2 L266.4,483.4 L266.6,476.7 L266.9,470.0 L267.1,463.3 L267.4,456.5 L267.6,449.8 L267.9,443.1 L268.1,442.0 L268.4,447.8 L268.7,453.6 L268.9,459.4 L269.2,465.2 L269.4,460.4 L269.7,452.9 L269.9,445.4 L270.2,437.9 L270.4,432.2 L270.7,438.8 L270.9,445.5 L271.2,452.1 L271.5,458.8 L271.7,465.4 L272.0,472.1 L272.2,478.7 L272.5,485.4 L272.7,492.0 L273.0,498.7 L273.2,505.4 L273.5,512.0 L273.7,512.5 L274.0,505.8 L274.3,499.1 L274.5,492.3 L274.8,485.6 L275.0,478.9 L275.3,472.1 L275.5,465.4 L275.8,458.6 L276.0,451.8 L276.3,445.1 L276.5,440.0 L276.8,445.8 L277.1,451.5 L277.3,457.3 L277.6,463.0 L277.8,462.6 L278.1,455.1 L278.3,447.7 L278.6,440.2 L278.8,432.8 L279.1,436.8 L279.3,443.6 L279.6,450.3 L279.9,457.1 L280.1,463.8 L280.4,470.6 L280.6,477.3 L280.9,484.1 L281.1,490.8 L281.4,497.6 L281.6,504.4 L281.9,511.1 L282.1,515.8 L282.4,508.9 L282.7,502.1 L282.9,495.2 L283.2,488.4 L283.4,481.6 L283.7,474.8 L283.9,468.0 L284.2,461.2 L284.4,454.4 L284.7,447.7 L284.9,440.9 L285.2,444.4 L285.5,450.1 L285.7,455.9 L286.0,461.6 L286.2,465.3 L286.5,457.9 L286.7,450.5 L287.0,443.2 L287.2,435.8 L287.5,435.2 L287.8,441.9 L288.0,448.5 L288.3,455.2 L288.5,461.8 L288.8,468.4 L289.0,475.0 L289.3,481.6 L289.5,488.1 L289.8,494.7 L290.0,501.3 L290.3,507.8 L290.6,514.4 L290.8,510.0 L291.1,503.4 L291.3,496.7 L291.6,490.1 L291.8,483.5 L292.1,476.8 L292.3,470.2 L292.6,463.6 L292.8,456.9 L293.1,450.3 L293.4,443.7 L293.6,443.2 L293.9,448.9 L294.1,454.7 L294.4,460.4 L294.6,466.1 L294.9,460.9 L295.1,453.5 L295.4,446.1 L295.6,438.7 L295.9,433.7 L296.2,440.3 L296.4,446.8 L296.7,453.3 L296.9,459.9 L297.2,466.4 L297.4,473.0 L297.7,479.5 L297.9,486.1 L298.2,492.6 L298.4,499.2 L298.7,505.8 L299.0,512.3 L299.2,512.2 L299.5,505.5 L299.7,498.9 L300.0,492.2 L300.2,485.5 L300.5,478.9 L300.7,472.2 L301.0,465.5 L301.2,458.9 L301.5,452.2 L301.8,445.5 L302.0,441.0 L302.3,446.7 L302.5,452.3 L302.8,457.9 L303.0,463.5 L303.3,462.5 L303.5,455.1 L303.8,447.8 L304.0,440.5 L304.3,433.1 L304.6,437.7 L304.8,444.3 L305.1,450.9 L305.3,457.5 L305.6,464.1 L305.8,470.7 L306.1,477.3 L306.3,483.9 L306.6,490.5 L306.8,497.1 L307.1,503.6 L307.4,510.2 L307.6,514.3 L307.9,507.6 L308.1,501.0 L308.4,494.3 L308.6,487.7 L308.9,481.1 L309.1,474.4 L309.4,467.8 L309.6,461.2 L309.9,454.6 L310.2,447.9 L310.4,441.3 L310.7,445.2 L310.9,450.7 L311.2,456.3 L311.4,461.8 L311.7,464.8 L311.9,457.6 L312.2,450.4 L312.4,443.2 L312.7,436.1 L313.0,436.2 L313.2,442.8 L313.5,449.4 L313.7,455.9 L314.0,462.5 L314.2,469.1 L314.5,475.6 L314.7,482.1 L315.0,488.7 L315.2,495.2 L315.5,501.7 L315.8,508.2 L316.0,514.7 L316.3,509.8 L316.5,503.3 L316.8,496.7 L317.0,490.2 L317.3,483.7 L317.5,477.2 L317.8,470.6 L318.0,464.1 L318.3,457.7 L318.6,451.2 L318.8,444.7 L319.1,444.7 L319.3,450.0 L319.6,455.4 L319.8,460.7 L320.1,466.0 L320.3,460.6 L320.6,453.6 L320.8,446.6 L321.1,439.6 L321.4,435.5 L321.6,441.9 L321.9,448.4 L322.1,454.8 L322.4,461.2 L322.6,467.6 L322.9,474.0 L323.1,480.5 L323.4,486.9 L323.6,493.3 L323.9,499.8 L324.2,506.2 L324.4,512.7 L324.7,512.0 L324.9,505.5 L325.2,499.1 L325.4,492.6 L325.7,486.0 L325.9,479.5 L326.2,473.0 L326.4,466.4 L326.7,459.9 L327.0,453.3 L327.2,446.8 L327.5,442.8 L327.7,447.9 L328.0,453.0 L328.2,458.0 L328.5,463.1 L328.7,461.5 L329.0,454.7 L329.3,447.9 L329.5,441.2 L329.8,434.5 L330.0,439.7 L330.3,446.3 L330.5,452.8 L330.8,459.4 L331.0,466.0 L331.3,472.6 L331.5,479.1 L331.8,485.7 L332.1,492.2 L332.3,498.8 L332.6,505.4 L332.8,511.8 L333.1,515.3 L333.3,508.7 L333.6,502.1 L333.8,495.6 L334.1,489.1 L334.3,482.5 L334.6,476.0 L334.9,469.5 L335.1,463.0 L335.4,456.6 L335.6,450.1 L335.9,443.7 L336.1,447.6 L336.4,452.5 L336.6,457.4 L336.9,462.4 L337.1,464.5 L337.4,458.0 L337.7,451.5 L337.9,445.0 L338.2,438.5 L338.4,439.4 L338.7,445.9 L338.9,452.3 L339.2,458.7 L339.4,465.1 L339.7,471.5 L339.9,477.8 L340.2,484.2 L340.5,490.5 L340.7,496.8 L341.0,503.1 L341.2,509.4 L341.5,515.7 L341.7,510.4 L342.0,504.1 L342.2,497.9 L342.5,491.6 L342.7,485.4 L343.0,479.2 L343.3,473.0 L343.5,466.8 L343.8,460.6 L344.0,454.4 L344.3,448.3 L344.5,448.6 L344.8,453.3 L345.0,458.1 L345.3,462.9 L345.5,467.6 L345.8,462.2 L346.1,455.9 L346.3,449.5 L346.6,443.0 L346.8,439.8 L347.1,445.8 L347.3,451.9 L347.6,458.0 L347.8,464.1 L348.1,470.2 L348.3,476.4 L348.6,482.5 L348.9,488.7 L349.1,494.9 L349.4,501.2 L349.6,507.4 L349.9,513.7 L350.1,512.5 L350.4,506.1 L350.6,499.8 L350.9,493.4 L351.1,487.0 L351.4,480.6 L351.7,474.1 L351.9,467.6 L352.2,461.1 L352.4,454.6 L352.7,448.0 L352.9,444.4 L353.2,448.7 L353.4,453.1 L353.7,457.4 L353.9,461.7 L354.2,459.6 L354.5,453.4 L354.7,447.1 L355.0,440.8 L355.2,434.6 L355.5,440.2 L355.7,446.8 L356.0,453.3 L356.2,459.9 L356.5,466.4 L356.7,473.0 L357.0,479.5 L357.3,486.0 L357.5,492.6 L357.8,499.1 L358.0,505.6 L358.3,512.1 L358.5,515.0 L358.8,508.4 L359.0,501.8 L359.3,495.2 L359.5,488.7 L359.8,482.2 L360.1,475.6 L360.3,469.1 L360.6,462.7 L360.8,456.2 L361.1,449.7 L361.3,443.3 L361.6,447.0 L361.8,451.3 L362.1,455.6 L362.3,459.9 L362.6,461.3 L362.9,455.4 L363.1,449.5 L363.4,443.6 L363.6,437.7 L363.9,439.4 L364.1,445.8 L364.4,452.2 L364.6,458.6 L364.9,465.0 L365.1,471.3 L365.4,477.6 L365.7,483.9 L365.9,490.2 L366.2,496.5 L366.4,502.8 L366.7,509.0 L366.9,515.3 L367.2,509.6 L367.4,503.3 L367.7,497.0 L367.9,490.8 L368.2,484.5 L368.5,478.3 L368.7,472.1 L369.0,465.9 L369.2,459.7 L369.5,453.5 L369.7,447.3 L370.0,447.6 L370.2,451.7 L370.5,455.8 L370.8,459.9 L371.0,464.0 L371.3,458.7 L371.5,453.0 L371.8,447.3 L372.0,441.6 L372.3,439.5 L372.5,445.7 L372.8,451.9 L373.0,458.1 L373.3,464.3 L373.6,470.5 L373.8,476.7 L374.1,482.9 L374.3,489.2 L374.6,495.4 L374.8,501.5 L375.1,507.7 L375.3,513.9 L375.6,512.2 L375.8,506.0 L376.1,499.9 L376.4,493.7 L376.6,487.5 L376.9,481.3 L377.1,475.1 L377.4,468.9 L377.6,462.7 L377.9,456.5 L378.1,450.4 L378.4,447.3 L378.6,451.2 L378.9,455.2 L379.2,459.1 L379.4,463.0 L379.7,460.8 L379.9,455.2 L380.2,449.7 L380.4,444.1 L380.7,438.5 L380.9,444.5 L381.2,450.7 L381.4,456.9 L381.7,463.1 L382.0,469.3 L382.2,475.5 L382.5,481.7 L382.7,487.9 L383.0,494.1 L383.2,500.3 L383.5,506.5 L383.7,512.6 L384.0,514.8 L384.2,508.6 L384.5,502.4 L384.8,496.2 L385.0,490.0 L385.3,483.8 L385.5,477.6 L385.8,471.5 L386.0,465.3 L386.3,459.2 L386.5,453.1 L386.8,446.9 L387.0,450.7 L387.3,454.6 L387.6,458.4 L387.8,462.3 L388.1,463.1 L388.3,457.6 L388.6,452.1 L388.8,446.5 L389.1,440.9 L389.3,443.0 L389.6,449.0 L389.8,455.0 L390.1,461.1 L390.4,467.1 L390.6,473.1 L390.9,479.2 L391.1,485.2 L391.4,491.2 L391.6,497.3 L391.9,503.4 L392.1,509.4 L392.4,515.5 L392.6,509.4 L392.9,503.2 L393.2,497.1 L393.4,490.9 L393.7,484.7 L393.9,478.5 L394.2,472.3 L394.4,466.0 L394.7,459.8 L394.9,453.5 L395.2,447.3 L395.4,447.7 L395.7,451.4 L396.0,455.1 L396.2,458.8 L396.5,462.4 L396.7,456.9 L397.0,451.3 L397.2,445.8 L397.5,440.3 L397.7,438.8 L398.0,445.0 L398.2,451.3 L398.5,457.6 L398.8,463.9 L399.0,470.1 L399.3,476.4 L399.5,482.6 L399.8,488.8 L400.0,495.0 L400.3,501.2 L400.5,507.4 L400.8,513.7 L401.0,511.5 L401.3,505.3 L401.6,499.2 L401.8,493.1 L402.1,487.0 L402.3,480.9 L402.6,474.8 L402.8,468.7 L403.1,462.6 L403.3,456.5 L403.6,450.4 L403.8,447.8 L404.1,451.6 L404.4,455.4 L404.6,459.2 L404.9,462.9 L405.1,460.5 L405.4,455.2 L405.6,449.9 L405.9,444.6 L406.1,439.6 L406.4,445.8 L406.6,452.0 L406.9,458.2 L407.2,464.4 L407.4,470.6 L407.7,476.8 L407.9,482.9 L408.2,489.1 L408.4,495.3 L408.7,501.4 L408.9,507.6 L409.2,513.6 L409.4,515.3 L409.7,509.2 L410.0,503.2 L410.2,497.1 L410.5,491.1 L410.7,485.1 L411.0,479.1 L411.2,473.2 L411.5,467.2 L411.7,461.3 L412.0,455.4 L412.2,449.8 L412.5,453.5 L412.8,457.3 L413.0,461.0 L413.3,464.7 L413.5,465.1 L413.8,459.9 L414.0,454.7 L414.3,449.4 L414.5,444.0 L414.8,446.6 L415.1,452.5 L415.3,458.5 L415.6,464.4 L415.8,470.3 L416.1,476.2 L416.3,482.1 L416.6,488.1 L416.8,494.0 L417.1,499.9 L417.3,505.9 L417.6,511.8 L417.9,517.2 L418.1,511.2 L418.4,505.2 L418.6,499.2 L418.9,493.3 L419.1,487.3 L419.4,481.3 L419.6,475.4 L419.9,469.4 L420.1,463.5 L420.4,457.5 L420.7,451.6 L420.9,452.4 L421.2,455.9 L421.4,459.5 L421.7,463.0 L421.9,466.1 L422.2,460.8 L422.4,455.5 L422.7,450.3 L422.9,445.0 L423.2,444.0 L423.5,449.9 L423.7,455.8 L424.0,461.7 L424.2,467.5 L424.5,473.4 L424.7,479.3 L425.0,485.1 L425.2,491.0 L425.5,496.9 L425.7,502.8 L426.0,508.7 L426.3,514.6 L426.5,512.0 L426.8,506.1 L427.0,500.2 L427.3,494.2 L427.5,488.3 L427.8,482.3 L428.0,476.4 L428.3,470.4 L428.5,464.4 L428.8,458.4 L429.1,452.3 L429.3,450.1 L429.6,453.5 L429.8,456.9 L430.1,460.4 L430.3,463.8 L430.6,460.9 L430.8,455.7 L431.1,450.5 L431.3,445.4 L431.6,441.0 L431.9,447.1 L432.1,453.1 L432.4,459.2 L432.6,465.3 L432.9,471.3 L433.1,477.4 L433.4,483.5 L433.6,489.6 L433.9,495.7 L434.1,501.8 L434.4,507.9 L434.7,513.9 L434.9,515.0 L435.2,508.9 L435.4,502.8 L435.7,496.8 L435.9,490.7 L436.2,484.6 L436.4,478.6 L436.7,472.5 L436.9,466.5 L437.2,460.5 L437.5,454.4 L437.7,449.2 L438.0,452.6 L438.2,456.0 L438.5,459.4 L438.7,462.9 L439.0,462.8 L439.2,457.7 L439.5,452.6 L439.7,447.5 L440.0,442.5 L440.3,445.7 L440.5,451.7 L440.8,457.7 L441.0,463.7 L441.3,469.7 L441.5,475.7 L441.8,481.7 L442.0,487.7 L442.3,493.6 L442.5,499.6 L442.8,505.5 L443.1,511.4 L443.3,516.4 L443.6,510.4 L443.8,504.5 L444.1,498.6 L444.3,492.7 L444.6,486.8 L444.8,480.9 L445.1,475.0 L445.3,469.1 L445.6,463.2 L445.9,457.4 L446.1,451.5 L446.4,452.6 L446.6,456.0 L446.9,459.4 L447.1,462.8 L447.4,465.4 L447.6,460.4 L447.9,455.4 L448.1,450.4 L448.4,445.4 L448.7,445.0 L448.9,451.0 L449.2,456.9 L449.4,462.8 L449.7,468.7 L449.9,474.6 L450.2,480.5 L450.4,486.5 L450.7,492.4 L450.9,498.3 L451.2,504.3 L451.5,510.2 L451.7,516.1 L452.0,513.0 L452.2,507.0 L452.5,501.1 L452.7,495.2 L453.0,489.3 L453.2,483.3 L453.5,477.4 L453.7,471.5 L454.0,465.6 L454.3,459.6 L454.5,453.7 L454.8,451.8 L455.0,455.1 L455.3,458.4 L455.5,461.6 L455.8,464.9 L456.0,461.8 L456.3,456.8 L456.6,451.9 L456.8,446.9 L457.1,443.2 L457.3,449.1 L457.6,455.1 L457.8,461.1 L458.1,467.1 L458.3,473.0 L458.6,479.0 L458.8,484.9 L459.1,490.8 L459.4,496.7 L459.6,502.6 L459.9,508.5 L460.1,514.3 L460.4,514.9 L460.6,509.2 L460.9,503.4 L461.1,497.6 L461.4,491.9 L461.6,486.2 L461.9,480.5 L462.2,474.8 L462.4,469.1 L462.7,463.5 L462.9,457.8 L463.2,453.3 L463.4,456.7 L463.7,460.0 L463.9,463.4 L464.2,466.8 L464.4,466.4 L464.7,461.6 L465.0,456.7 L465.2,451.8 L465.5,446.8 L465.7,450.3 L466.0,456.0 L466.2,461.7 L466.5,467.4 L466.7,473.1 L467.0,478.8 L467.2,484.6 L467.5,490.3 L467.8,496.0 L468.0,501.7 L468.3,507.5 L468.5,513.2 L468.8,517.4 L469.0,511.7 L469.3,506.0 L469.5,500.3 L469.8,494.6 L470.0,488.9 L470.3,483.2 L470.6,477.5 L470.8,471.8 L471.1,466.1 L471.3,460.5 L471.6,454.8 L471.8,456.3 L472.1,459.7 L472.3,463.0 L472.6,466.3 L472.8,468.5 L473.1,463.5 L473.4,458.5 L473.6,453.5 L473.9,448.4 L474.1,448.5 L474.4,454.1 L474.6,459.8 L474.9,465.4 L475.1,471.1 L475.4,476.7 L475.6,482.4 L475.9,488.1 L476.2,493.7 L476.4,499.4 L476.7,505.1 L476.9,510.7 L477.2,516.4 L477.4,512.9 L477.7,507.2 L477.9,501.5 L478.2,495.8 L478.4,490.1 L478.7,484.4 L479.0,478.7 L479.2,473.0 L479.5,467.2 L479.7,461.5 L480.0,455.7 L480.2,454.4 L480.5,457.7 L480.7,461.1 L481.0,464.4 L481.2,467.8 L481.5,464.2 L481.8,459.1 L482.0,454.0 L482.3,448.9 L482.5,445.4 L482.8,451.1 L483.0,456.9 L483.3,462.6 L483.5,468.3 L483.8,474.1 L484.0,479.8 L484.3,485.6 L484.6,491.4 L484.8,497.1 L485.1,502.9 L485.3,508.7 L485.6,514.6 L485.8,514.8 L486.1,509.0 L486.3,503.2 L486.6,497.4 L486.8,491.6 L487.1,485.7 L487.4,479.8 L487.6,473.9 L487.9,468.0 L488.1,462.0 L488.4,456.0 L488.6,451.6 L488.9,454.9 L489.1,458.3 L489.4,461.7 L489.6,465.1 L489.9,464.2 L490.2,459.0 L490.4,453.8 L490.7,448.6 L490.9,443.4 L491.2,447.6 L491.4,453.7 L491.7,459.8 L491.9,466.0 L492.2,472.1 L492.4,478.3 L492.7,484.4 L493.0,490.5 L493.2,496.7 L493.5,502.9 L493.7,509.0 L494.0,515.1 L494.2,518.9 L494.5,512.8 L494.7,506.7 L495.0,500.6 L495.2,494.5 L495.5,488.5 L495.8,482.5 L496.0,476.5 L496.3,470.5 L496.5,464.6 L496.8,458.7 L497.0,452.8 L497.3,454.9 L497.5,458.5 L497.8,462.0 L498.1,465.6 L498.3,467.6 L498.6,462.5 L498.8,457.4 L499.1,452.2 L499.3,447.1 L499.6,447.6 L499.8,453.5 L500.1,459.3 L500.3,465.1 L500.6,470.9 L500.9,476.7 L501.1,482.5 L501.4,488.2 L501.6,493.9 L501.9,499.6 L502.1,505.3 L502.4,511.0 L502.6,516.7 L502.9,512.7 L503.1,507.1 L503.4,501.5 L503.7,495.8 L503.9,490.2 L504.2,484.5 L504.4,478.9 L504.7,473.3 L504.9,467.7 L505.2,462.0 L505.4,456.4 L505.7,455.7 L505.9,459.3 L506.2,462.9 L506.5,466.5 L506.7,470.1 L507.0,466.2 L507.2,461.0 L507.5,455.8 L507.7,450.6 L508.0,447.5 L508.2,453.3 L508.5,458.9 L508.7,464.6 L509.0,470.3 L509.3,476.0 L509.5,481.7 L509.8,487.4 L510.0,493.2 L510.3,498.9 L510.5,504.7 L510.8,510.4 L511.0,516.2 L511.3,515.8 L511.5,510.0 L511.8,504.3 L512.1,498.6 L512.3,492.9 L512.6,487.1 L512.8,481.4 L513.1,475.6 L513.3,469.9 L513.6,464.1 L513.8,458.4 L514.1,454.6 L514.3,458.2 L514.6,461.8 L514.9,465.4 L515.1,469.0 L515.4,467.8 L515.6,462.4 L515.9,457.1 L516.1,451.7 L516.4,446.3 L516.6,450.7 L516.9,456.4 L517.1,462.2 L517.4,467.9 L517.7,473.7 L517.9,479.4 L518.2,485.2 L518.4,491.0 L518.7,496.8 L518.9,502.6 L519.2,508.4 L519.4,514.3 L519.7,517.7 L519.9,511.9 L520.2,506.0 L520.5,500.1 L520.7,494.1 L521.0,488.1 L521.2,482.1 L521.5,476.0 L521.7,469.9 L522.0,463.7 L522.2,457.5 L522.5,451.2 L522.7,453.8 L523.0,457.5 L523.3,461.3 L523.5,465.1 L523.8,468.8 L524.0,464.0 L524.3,459.2 L524.5,454.5 L524.8,450.0 L525.0,446.6 L525.3,452.6 L525.5,458.6 L525.8,464.6 L526.1,470.6 L526.3,476.5 L526.6,482.5 L526.8,488.5 L527.1,494.5 L527.3,500.5 L527.6,506.4 L527.8,512.4 L528.1,518.3 L528.3,515.8 L528.6,509.5 L528.9,503.1 L529.1,496.7 L529.4,490.3 L529.6,483.8 L529.9,477.4 L530.1,470.9 L530.4,464.4 L530.6,457.9 L530.9,451.4 L531.1,451.0 L531.4,455.3 L531.7,459.6 L531.9,463.8 L532.2,468.2 L532.4,470.1 L532.7,466.0 L532.9,462.0 L533.2,458.1 L533.4,454.2 L533.7,451.4 L533.9,457.4 L534.2,463.4 L534.5,469.4 L534.7,475.3 L535.0,481.3 L535.2,487.2 L535.5,493.1 L535.7,499.0 L536.0,504.9 L536.2,510.8 L536.5,516.8 L536.7,520.8 L537.0,514.5 L537.3,508.1 L537.5,501.7 L537.8,495.2 L538.0,488.7 L538.3,482.2 L538.5,475.6 L538.8,469.1 L539.0,462.4 L539.3,455.8 L539.5,451.9 L539.8,456.4 L540.1,460.9 L540.3,465.4 L540.6,469.9 L540.8,474.4 L541.1,474.3 L541.3,470.7 L541.6,466.9 L541.8,463.2 L542.1,459.4 L542.4,456.7 L542.6,462.8 L542.9,469.0 L543.1,475.2 L543.4,481.5 L543.6,487.9 L543.9,494.3 L544.1,500.8 L544.4,507.4 L544.6,514.0 L544.9,520.5 L545.2,526.8 L545.4,524.4 L545.7,517.1 L545.9,509.8 L546.2,502.6 L546.4,495.3 L546.7,488.1 L546.9,480.9 L547.2,473.7 L547.4,466.5 L547.7,459.3 L548.0,452.2 L548.2,455.5 L548.5,459.7 L548.7,463.8 L549.0,467.9 L549.2,471.8 L549.5,475.8 L549.7,473.3 L550.0,469.8 L550.2,466.2 L550.5,462.7 L550.8,459.2 L551.0,456.9 L551.3,463.1 L551.5,469.4 L551.8,475.6 L552.0,481.9 L552.3,488.2 L552.5,494.4 L552.8,500.7 L553.0,507.0 L553.3,513.3 L553.6,519.7 L553.8,524.3 L554.1,517.1 L554.3,509.8 L554.6,502.6 L554.8,495.3 L555.1,488.0 L555.3,480.6 L555.6,473.3 L555.8,465.9 L556.1,458.5 L556.4,451.1 L556.6,450.5 L556.9,454.3 L557.1,458.0 L557.4,461.7 L557.6,465.6 L557.9,469.4 L558.1,472.5 L558.4,469.5 L558.6,466.6 L558.9,463.7 L559.2,460.9 L559.4,458.0 L559.7,456.3 L559.9,462.8 L560.2,469.3 L560.4,475.8 L560.7,482.2 L560.9,488.7 L561.2,495.1 L561.4,501.6 L561.7,508.0 L562.0,514.4 L562.2,520.9 L562.5,518.8 L562.7,511.5 L563.0,504.3 L563.2,497.1 L563.5,489.9 L563.7,482.7 L564.0,475.5 L564.2,468.4 L564.5,461.2 L564.8,454.1 L565.0,450.2 L565.3,453.9 L565.5,457.6 L565.8,461.3 L566.0,465.0 L566.3,468.7 L566.5,472.4 L566.8,471.9 L567.0,469.0 L567.3,466.1 L567.6,463.1 L567.8,460.2 L568.1,457.3 L568.3,460.2 L568.6,466.5 L568.8,472.9 L569.1,479.3 L569.3,485.6 L569.6,492.0 L569.8,498.4 L570.1,504.8 L570.4,511.2 L570.6,517.8 L570.9,520.2 L571.1,513.0 L571.4,505.8 L571.6,498.5 L571.9,491.2 L572.1,484.0 L572.4,476.8 L572.6,469.6 L572.9,462.4 L573.2,455.2 L573.4,448.0 L573.7,451.7 L573.9,455.6 L574.2,459.6 L574.4,463.6 L574.7,467.5 L574.9,471.5 L575.2,473.4 L575.4,470.6 L575.7,467.8 L576.0,465.0 L576.2,462.2 L576.5,459.4 L576.7,459.6 L577.0,466.2 L577.2,472.8 L577.5,479.4 L577.7,486.0 L578.0,492.6 L578.2,499.2 L578.5,505.8 L578.8,512.3 L579.0,518.7 L579.3,525.0 L579.5,517.9 L579.8,510.6 L580.0,503.4 L580.3,496.2 L580.5,489.0 L580.8,481.8 L581.0,474.6 L581.3,467.4 L581.6,460.1 L581.8,452.9 L582.1,452.9 L582.3,456.8 L582.6,460.6 L582.8,464.4 L583.1,468.2 L583.3,472.0 L583.6,475.9 L583.9,472.9 L584.1,469.8 L584.4,466.8 L584.6,463.7 L584.9,460.7 L585.1,457.6 L585.4,463.8 L585.6,469.9 L585.9,476.1 L586.1,482.3 L586.4,488.4 L586.7,494.6 L586.9,500.7 L587.2,506.9 L587.4,513.2 L587.7,519.5 L587.9,516.9 L588.2,509.9 L588.4,502.8 L588.7,495.6 L588.9,488.5 L589.2,481.3 L589.5,474.1 L589.7,467.0 L590.0,459.8 L590.2,452.5 L590.5,449.1 L590.7,453.1 L591.0,457.1 L591.2,461.0 L591.5,465.0 L591.7,469.0 L592.0,473.0 L592.3,472.3 L592.5,469.3 L592.8,466.3 L593.0,463.3 L593.3,460.3 L593.5,457.3 L593.8,460.8 L594.0,467.3 L594.3,473.8 L594.5,480.4 L594.8,486.9 L595.1,493.5 L595.3,500.1 L595.6,506.7 L595.8,513.3 L596.1,519.9 L596.3,521.6 L596.6,514.2 L596.8,506.9 L597.1,499.5 L597.3,492.1 L597.6,484.7 L597.9,477.3 L598.1,469.9 L598.4,462.5 L598.6,455.1 L598.9,447.8 L599.1,451.9 L599.4,455.9 L599.6,460.0 L599.9,464.0 L600.1,468.1 L600.4,472.2 L600.7,473.7 L600.9,470.7 L601.2,467.7 L601.4,464.6 L601.7,461.6 L601.9,458.5 L602.2,458.9 L602.4,465.6 L602.7,472.2 L602.9,478.9 L603.2,485.5 L603.5,492.2 L603.7,498.9 L604.0,505.6 L604.2,512.3 L604.5,518.9 L604.7,525.2 L605.0,517.7 L605.2,510.2 L605.5,502.7 L605.7,495.2 L606.0,487.7 L606.3,480.1 L606.5,472.6 L606.8,465.1 L607.0,457.6 L607.3,450.0 L607.5,450.7 L607.8,454.8 L608.0,459.0 L608.3,463.1 L608.5,467.3 L608.8,471.4 L609.1,475.3 L609.3,472.3 L609.6,469.2 L609.8,466.1 L610.1,463.1 L610.3,460.0 L610.6,457.3 L610.8,464.0 L611.1,470.7 L611.3,477.4 L611.6,484.1 L611.9,490.7 L612.1,497.4 L612.4,504.1 L612.6,510.8 L612.9,517.5 L613.1,524.1 L613.4,520.8 L613.6,513.2 L613.9,505.7 L614.1,498.2 L614.4,490.7 L614.7,483.2 L614.9,475.7 L615.2,468.2 L615.4,460.6 L615.7,453.0 L615.9,449.9 L616.2,454.1 L616.4,458.3 L616.7,462.5 L616.9,466.6 L617.2,470.8 L617.5,475.0 L617.7,473.9 L618.0,470.8 L618.2,467.7 L618.5,464.5 L618.7,461.4 L619.0,458.2 L619.2,462.1 L619.5,468.8 L619.7,475.5 L620.0,482.2 L620.3,488.9 L620.5,495.7 L620.8,502.4 L621.0,509.1 L621.3,515.9 L621.5,522.7 L621.8,523.9 L622.0,516.3 L622.3,508.7 L622.5,501.0 L622.8,493.4 L623.1,485.7 L623.3,478.1 L623.6,470.4 L623.8,462.7 L624.1,455.0 L624.3,448.0 L624.6,452.3 L624.8,456.5 L625.1,460.8 L625.4,465.1 L625.6,469.3 L625.9,473.6 L626.1,474.9 L626.4,471.8 L626.6,468.6 L626.9,465.4 L627.1,462.2 L627.4,459.1 L627.6,459.9 L627.9,466.8 L628.2,473.7 L628.4,480.6 L628.7,487.5 L628.9,494.5 L629.2,501.4 L629.4,508.4 L629.7,515.3 L629.9,522.3 L630.2,528.2 L630.4,520.4 L630.7,512.6 L631.0,504.8 L631.2,496.9 L631.5,489.1 L631.7,481.2 L632.0,473.4 L632.2,465.5 L632.5,457.7 L632.7,449.8 L633.0,451.0 L633.2,455.3 L633.5,459.6 L633.8,464.0 L634.0,468.3 L634.3,472.6 L634.5,476.4 L634.8,473.2 L635.0,470.0 L635.3,466.7 L635.5,463.5 L635.8,460.3 L636.0,457.9 L636.3,464.9 L636.6,472.0 L636.8,479.0 L637.1,486.0 L637.3,493.0 L637.6,500.1 L637.8,507.1 L638.1,514.2 L638.3,521.2 L638.6,528.1 L638.8,523.8 L639.1,515.8 L639.4,507.9 L639.6,499.9 L639.9,491.9 L640.1,484.0 L640.4,476.0 L640.6,468.1 L640.9,460.2 L641.1,452.3 L641.4,449.7 L641.6,454.1 L641.9,458.5 L642.2,462.9 L642.4,467.3 L642.7,471.8 L642.9,476.2 L643.2,474.8 L643.4,471.6 L643.7,468.3 L643.9,465.1 L644.2,461.8 L644.4,458.6 L644.7,463.1 L645.0,469.9 L645.2,476.7 L645.5,483.5 L645.7,490.3 L646.0,497.1 L646.2,503.9 L646.5,510.6 L646.7,517.4 L647.0,524.1 L647.2,524.6 L647.5,516.9 L647.8,509.1 L648.0,501.4 L648.3,493.7 L648.5,486.0 L648.8,478.3 L649.0,470.6 L649.3,462.9 L649.5,455.3 L649.8,448.9 L650.0,453.3 L650.3,457.7 L650.6,462.2 L650.8,466.6 L651.1,471.0 L651.3,475.4 L651.6,476.5 L651.8,473.2 L652.1,469.9 L652.3,466.6 L652.6,463.3 L652.8,460.0 L653.1,461.1 L653.4,467.8 L653.6,474.5 L653.9,481.2 L654.1,487.8 L654.4,494.5 L654.6,501.2 L654.9,507.9 L655.1,514.7 L655.4,521.5 L655.6,526.6 L655.9,518.9 L656.2,511.1 L656.4,503.3 L656.7,495.5 L656.9,487.7 L657.2,479.8 L657.4,472.0 L657.7,464.1 L657.9,456.1 L658.2,448.2 L658.4,450.0 L658.7,454.5 L659.0,459.1 L659.2,463.6 L659.5,468.2 L659.7,472.7 L660.0,476.3 L660.2,473.1 L660.5,469.9 L660.7,466.7 L661.0,463.4 L661.2,460.2 L661.5,458.3 L661.8,465.2 L662.0,472.1 L662.3,479.1 L662.5,486.0 L662.8,493.0 L663.0,500.0 L663.3,507.0 L663.5,514.0 L663.8,520.7 L664.0,527.5 L664.3,522.3 L664.6,514.1 L664.8,506.0 L665.1,497.9 L665.3,489.8 L665.6,481.8 L665.8,473.8 L666.1,465.8 L666.3,457.9 L666.6,450.0 L666.8,448.0 L667.1,452.6 L667.4,457.3 L667.6,462.0 L667.9,466.6 L668.1,471.3 L668.4,476.0 L668.6,474.4 L668.9,471.3 L669.1,468.2 L669.4,465.1 L669.7,461.9 L669.9,458.8 L670.2,463.4 L670.4,469.7 L670.7,476.0 L670.9,482.2 L671.2,488.4 L671.4,494.6 L671.7,500.6 L671.9,506.7 L672.2,512.9 L672.5,519.2 L672.7,519.2 L673.0,512.0 L673.2,504.8 L673.5,497.6 L673.7,490.3 L674.0,483.0 L674.2,475.7 L674.5,468.3 L674.7,460.9 L675.0,453.4 L675.3,447.8 L675.5,452.5 L675.8,457.3 L676.0,462.0 L676.3,466.8 L676.5,471.6 L676.8,476.3 L677.0,477.3 L677.3,474.2 L677.5,471.1 L677.8,468.0 L678.1,465.0 L678.3,461.9 L678.6,463.5 L678.8,470.1 L679.1,476.7 L679.3,483.4 L679.6,490.1 L679.8,496.8 L680.1,503.6 L680.3,510.3 L680.6,517.1 L680.9,523.8 L681.1,528.2 L681.4,520.4 L681.6,512.5 L681.9,504.7 L682.1,496.9 L682.4,489.0 L682.6,481.2 L682.9,473.3 L683.1,465.5 L683.4,457.6 L683.7,449.7 L683.9,452.4 L684.2,457.1 L684.4,461.9 L684.7,466.7 L684.9,471.4 L685.2,476.2 L685.4,479.7 L685.7,476.6 L685.9,473.4 L686.2,470.3 L686.5,467.2 L686.7,464.0 L687.0,462.6 L687.2,469.3 L687.5,476.0 L687.7,482.7 L688.0,489.5 L688.2,496.3 L688.5,503.0 L688.7,509.8 L689.0,516.6 L689.3,523.4 L689.5,530.2 L689.8,524.5 L690.0,516.4 L690.3,508.2 L690.5,500.1 L690.8,492.0 L691.0,483.8 L691.3,475.7 L691.5,467.5 L691.8,459.3 L692.1,451.1 L692.3,449.6 L692.6,454.4 L692.8,459.3 L693.1,464.1 L693.3,469.0 L693.6,473.8 L693.8,478.7 L694.1,476.8 L694.3,473.7 L694.6,470.6 L694.9,467.5 L695.1,464.5 L695.4,461.4 L695.6,466.7 L695.9,473.5 L696.1,480.3 L696.4,487.1 L696.6,493.9 L696.9,500.7 L697.1,507.5 L697.4,514.4 L697.7,521.2 L697.9,528.0 L698.2,527.0 L698.4,518.7 L698.7,510.4 L698.9,502.2 L699.2,493.9 L699.4,485.7 L699.7,477.4 L699.9,469.1 L700.2,460.8 L700.5,452.6 L700.7,446.8 L701.0,451.7 L701.2,456.6 L701.5,461.5 L701.7,466.4 L702.0,471.3 L702.2,476.3 L702.5,477.0 L702.7,474.0 L703.0,471.0 L703.3,468.0 L703.5,465.0 L703.8,462.0 L704.0,464.2 L704.3,471.0 L704.5,477.8 L704.8,484.5 L705.0,491.3 L705.3,498.1 L705.5,504.9 L705.8,511.7 L706.1,518.4 L706.3,525.2 L706.6,529.0 L706.8,520.7 L707.1,512.5 L707.3,504.2 L707.6,495.9 L707.8,487.6 L708.1,479.4 L708.3,471.1 L708.6,462.8 L708.9,454.5 L709.1,446.2 L709.4,449.5 L709.6,454.4 L709.9,459.3 L710.1,464.2 L710.4,469.1 L710.6,474.1 L710.9,477.4 L711.2,474.4 L711.4,471.5 L711.7,468.6 L711.9,465.6 L712.2,462.7 L712.4,461.8 L712.7,468.6 L712.9,475.4 L713.2,482.2 L713.4,489.0 L713.7,495.8 L714.0,502.6 L714.2,509.4 L714.5,516.2 L714.7,523.0 L715.0,529.8 L715.2,523.2 L715.5,514.8 L715.7,506.4 L716.0,498.0 L716.2,489.6 L716.5,481.2 L716.8,472.8 L717.0,464.4 L717.3,456.0 L717.5,447.6 L717.8,446.6 L718.0,451.6 L718.3,456.7 L718.5,461.7 L718.8,466.8 L719.0,471.9 L719.3,476.9 L719.6,475.1 L719.8,472.4 L720.1,469.6 L720.3,466.9 L720.6,464.2 L720.8,461.5 L721.1,467.3 L721.3,474.0 L721.6,480.7 L721.8,487.4 L722.1,494.1 L722.4,500.7 L722.6,507.4 L722.9,514.0 L723.1,520.5 L723.4,527.1 L723.6,525.4 L723.9,517.2 L724.1,509.1 L724.4,501.0 L724.6,492.8 L724.9,484.7 L725.2,476.7 L725.4,468.6 L725.7,460.6 L725.9,452.5 L726.2,447.6 L726.4,452.6 L726.7,457.6 L726.9,462.6 L727.2,467.5 L727.4,472.5 L727.7,477.5 L728.0,478.0 L728.2,475.3 L728.5,472.6 L728.7,469.8 L729.0,467.1 L729.2,464.4 L729.5,466.9 L729.7,473.4 L730.0,479.8 L730.2,486.3 L730.5,492.7 L730.8,499.2 L731.0,505.7 L731.3,512.1 L731.5,518.6 L731.8,525.1 L732.0,528.0 L732.3,519.9 L732.5,511.7 L732.8,503.5 L733.0,495.3 L733.3,487.1 L733.6,478.9 L733.8,470.6 L734.1,462.4 L734.3,454.1 L734.6,445.9 L734.8,449.7 L735.1,454.8 L735.3,459.8 L735.6,464.8 L735.8,469.9 L736.1,474.9 L736.4,478.0 L736.6,475.4 L736.9,472.8 L737.1,470.2 L737.4,467.6 L737.6,465.1 L737.9,464.8 L738.1,471.3 L738.4,477.9 L738.6,484.4 L738.9,491.0 L739.2,497.5 L739.4,504.0 L739.7,510.6 L739.9,517.1 L740.2,523.7 L740.4,530.3 L740.7,523.2 L740.9,515.0 L741.2,506.7 L741.4,498.4 L741.7,490.2 L742.0,481.9 L742.2,473.5 L742.5,465.2 L742.7,456.9 L743.0,448.5 L743.2,448.1 L743.5,453.2 L743.7,458.3 L744.0,463.3 L744.2,468.4 L744.5,473.4 L744.8,478.5 L745.0,476.5 L745.3,474.0 L745.5,471.5 L745.8,469.0 L746.0,466.5 L746.3,464.0 L746.5,470.1 L746.8,476.8 L747.0,483.5 L747.3,490.2 L747.6,497.0 L747.8,503.7 L748.1,510.4 L748.3,517.2 L748.6,523.9 L748.8,530.6 L749.1,528.0 L749.3,519.5 L749.6,511.0 L749.8,502.4 L750.1,493.9 L750.4,485.4 L750.6,476.8 L750.9,468.3 L751.1,459.8 L751.4,451.3 L751.6,446.5 L751.9,451.6 L752.1,456.7 L752.4,461.8 L752.6,466.8 L752.9,471.9 L753.2,477.0 L753.4,477.4 L753.7,475.0 L753.9,472.6 L754.2,470.2 L754.4,467.7 L754.7,465.3 L754.9,468.5 L755.2,475.1 L755.5,481.7 L755.7,488.3 L756.0,494.9 L756.2,501.5 L756.5,508.1 L756.7,514.7 L757.0,521.3 L757.2,527.8 L757.5,530.1 L757.7,521.5 L758.0,513.0 L758.3,504.5 L758.5,495.9 L758.8,487.4 L759.0,478.9 L759.3,470.4 L759.5,461.9 L759.8,453.4 L760.0,444.9 L760.3,449.4 L760.5,454.5 L760.8,459.6 L761.1,464.7 L761.3,469.8 L761.6,474.9 L761.8,477.8 L762.1,475.5 L762.3,473.2 L762.6,470.9 L762.8,468.6 L763.1,466.4 L763.3,466.7 L763.6,473.2 L763.9,479.6 L764.1,486.1 L764.4,492.6 L764.6,499.0 L764.9,505.4 L765.1,511.8 L765.4,518.2 L765.6,524.7 L765.9,531.2 L766.1,523.3 L766.4,514.9 L766.7,506.6 L766.9,498.2 L767.2,489.7 L767.4,481.3 L767.7,472.9 L767.9,464.5 L768.2,456.0 L768.4,447.5 L768.7,447.8 L768.9,452.9 L769.2,458.0 L769.5,463.1 L769.7,468.2 L770.0,473.3 L770.2,478.5 L770.5,476.4 L770.7,474.2 L771.0,472.0 L771.2,469.8 L771.5,467.6 L771.7,465.4 L772.0,471.7 L772.3,478.3 L772.5,484.8 L772.8,491.4 L773.0,498.0 L773.3,504.6 L773.5,511.2 L773.8,517.8 L774.0,524.4 L774.3,530.9 L774.5,527.6 L774.8,518.9 L775.1,510.3 L775.3,501.6 L775.6,493.0 L775.8,484.3 L776.1,475.7 L776.3,467.0 L776.6,458.4 L776.8,449.7 L777.1,445.5 L777.3,450.6 L777.6,455.8 L777.9,461.0 L778.1,466.2 L778.4,471.3 L778.6,476.5 L778.9,476.9 L779.1,474.9 L779.4,472.8 L779.6,470.7 L779.9,468.7 L780.1,466.6 L780.4,470.2 L780.7,476.7 L780.9,483.2 L781.2,489.7 L781.4,496.1 L781.7,502.6 L781.9,509.0 L782.2,515.5 L782.4,521.9 L782.7,528.4 L782.9,529.9 L783.2,521.4 L783.5,512.9 L783.7,504.3 L784.0,495.8 L784.2,487.3 L784.5,478.7 L784.7,470.2 L785.0,461.6 L785.2,453.0 L785.5,444.5 L785.7,449.7 L786.0,454.9 L786.3,460.1 L786.5,465.3 L786.8,470.6 L787.0,475.8 L787.3,478.6 L787.5,476.6 L787.8,474.7 L788.0,472.7 L788.3,470.8 L788.5,468.8 L788.8,469.8 L789.1,476.3 L789.3,482.8 L789.6,489.3 L789.8,495.8 L790.1,502.3 L790.3,508.8 L790.6,515.3 L790.8,521.8 L791.1,528.2 L791.3,534.5 L791.6,525.9 L791.9,517.3 L792.1,508.7 L792.4,500.0 L792.6,491.4 L792.9,482.8 L793.1,474.2 L793.4,465.7 L793.6,457.1 L793.9,448.5 L794.1,449.3 L794.4,454.5 L794.7,459.7 L794.9,464.9 L795.2,470.0 L795.4,475.2 L795.7,480.2 L795.9,478.3 L796.2,476.4 L796.4,474.4 L796.7,472.5 L797.0,470.6 L797.2,468.9 L797.5,475.3 L797.7,481.7 L798.0,488.1 L798.2,494.6 L798.5,501.0 L798.7,507.4 L799.0,513.9 L799.2,520.3 L799.5,526.8 L799.8,533.2 L800.0,529.1 L800.3,520.3 L800.5,511.5 L800.8,502.7 L801.0,494.0 L801.3,485.2 L801.5,476.4 L801.8,467.7 L802.0,458.9 L802.3,450.1 L802.6,446.4 L802.8,451.6 L803.1,456.9 L803.3,462.2 L803.6,467.4 L803.8,472.7 L804.1,478.0 L804.3,478.3 L804.6,476.6 L804.8,474.8 L805.1,473.1 L805.4,471.3 L805.6,469.5 L805.9,473.5 L806.1,479.9 L806.4,486.2 L806.6,492.5 L806.9,498.8 L807.1,505.1 L807.4,511.4 L807.6,517.6 L807.9,523.8 L808.2,530.1 L808.4,530.8 L808.7,522.4 L808.9,513.9 L809.2,505.5 L809.4,497.1 L809.7,488.6 L809.9,480.2 L810.2,471.8 L810.4,463.4 L810.7,455.0 L811.0,447.3 L811.2,452.5 L811.5,457.7 L811.7,462.8 L812.0,468.0 L812.2,473.1 L812.5,478.3 L812.7,480.8 L813.0,478.9 L813.2,477.1 L813.5,475.3 L813.8,473.4 L814.0,471.6 L814.3,472.9 L814.5,479.1 L814.8,485.3 L815.0,491.6 L815.3,497.9 L815.5,504.1 L815.8,510.4 L816.0,516.7 L816.3,523.0 L816.6,529.3 L816.8,534.8 L817.1,526.3 L817.3,517.7 L817.6,509.2 L817.8,500.6 L818.1,492.0 L818.3,483.4 L818.6,474.8 L818.8,466.1 L819.1,457.5 L819.4,448.8 L819.6,450.2 L819.9,455.4 L820.1,460.5 L820.4,465.7 L820.6,470.9 L820.9,476.1 L821.1,480.8 L821.4,479.1 L821.6,477.3 L821.9,475.6 L822.2,473.9 L822.4,472.1 L822.7,470.9 L822.9,477.3 L823.2,483.7 L823.4,490.1 L823.7,496.5 L823.9,502.9 L824.2,509.3 L824.4,515.7 L824.7,522.1 L825.0,528.5 L825.2,534.9 L825.5,530.2 L825.7,521.6 L826.0,513.0 L826.2,504.4 L826.5,495.8 L826.7,487.2 L827.0,478.6 L827.2,470.0 L827.5,461.4 L827.8,452.8 L828.0,449.8 L828.3,455.0 L828.5,460.1 L828.8,465.2 L829.0,470.3 L829.3,475.4 L829.5,480.5 L829.8,480.5 L830.0,478.8 L830.3,477.0 L830.6,475.3 L830.8,473.6 L831.1,471.8 L831.3,476.1 L831.6,482.5 L831.8,488.8 L832.1,495.2 L832.3,501.6 L832.6,508.0 L832.8,514.3 L833.1,520.7 L833.4,527.1 L833.6,533.4 L833.9,533.5 L834.1,524.8 L834.4,516.1 L834.6,507.4 L834.9,498.7 L835.1,490.1 L835.4,481.4 L835.6,472.8 L835.9,464.2 L836.2,455.6 L836.4,448.2 L836.7,453.3 L836.9,458.4 L837.2,463.5 L837.4,468.5 L837.7,473.6 L837.9,478.7 L838.2,480.9 L838.5,479.2 L838.7,477.5 L839.0,475.8 L839.2,474.1 L839.5,472.4 L839.7,474.0 L840.0,480.3 L840.2,486.5 L840.5,492.7 L840.7,498.8 L841.0,505.0 L841.3,511.2 L841.5,517.3 L841.8,523.5 L842.0,529.6 L842.3,534.3 L842.5,525.8 L842.8,517.3 L843.0,508.9 L843.3,500.4 L843.5,491.9 L843.8,483.5 L844.1,475.0 L844.3,466.6 L844.6,458.1 L844.8,449.7 L845.1,451.6 L845.3,456.7 L845.6,461.7 L845.8,466.7 L846.1,471.6 L846.3,476.6 L846.6,480.9 L846.9,479.2 L847.1,477.4 L847.4,475.7 L847.6,474.0 L847.9,472.2 L848.1,471.4 L848.4,477.5 L848.6,483.6 L848.9,489.7 L849.1,495.8 L849.4,501.9 L849.7,508.0 L849.9,514.1 L850.2,520.2 L850.4,526.4 L850.7,532.7 L850.9,527.5 L851.2,519.1 L851.4,510.6 L851.7,502.1 L851.9,493.6 L852.2,485.1 L852.5,476.5 L852.7,467.9 L853.0,459.3 L853.2,450.6 L853.5,448.1 L853.7,453.1 L854.0,458.2 L854.2,463.4 L854.5,468.5 L854.7,473.6 L855.0,478.7 L855.3,478.6 L855.5,477.0 L855.8,475.5 L856.0,474.0 L856.3,472.4 L856.5,470.9 L856.8,475.6 L857.0,482.0 L857.3,488.4 L857.5,494.9 L857.8,501.3 L858.1,507.7 L858.3,514.1 L858.6,520.5 L858.8,526.9 L859.1,533.2 L859.3,532.8 L859.6,524.3 L859.8,515.8 L860.1,507.3 L860.3,498.8 L860.6,490.3 L860.9,481.8 L861.1,473.3 L861.4,464.8 L861.6,456.3 L861.9,449.6 L862.1,454.7 L862.4,459.8 L862.6,464.8 L862.9,469.9 L863.1,474.9 L863.4,480.0 L863.7,481.9 L863.9,480.4 L864.2,478.8 L864.4,477.3 L864.7,475.7 L864.9,474.2 L865.2,476.4 L865.4,482.7 L865.7,489.1 L865.9,495.5 L866.2,501.9 L866.5,508.2 L866.7,514.6 L867.0,521.0 L867.2,527.4 L867.5,533.8 L867.7,538.0 L868.0,529.4 L868.2,520.8 L868.5,512.3 L868.7,503.7 L869.0,495.2 L869.3,486.6 L869.5,478.1 L869.8,469.6 L870.0,461.1 L870.3,452.6 L870.5,455.1 L870.8,460.1 L871.0,465.0 L871.3,470.0 L871.5,475.0 L871.8,480.0 L872.1,484.0 L872.3,482.4 L872.6,480.9 L872.8,479.3 L873.1,477.8 L873.3,476.2 L873.6,475.8 L873.8,482.1 L874.1,488.4 L874.3,494.7 L874.6,501.0 L874.9,507.3 L875.1,513.6 L875.4,519.9 L875.6,526.2 L875.9,532.4 L876.1,538.6 L876.4,532.7 L876.6,524.1 L876.9,515.6 L877.1,507.0 L877.4,498.5 L877.7,490.0 L877.9,481.4 L878.2,472.9 L878.4,464.4 L878.7,456.0 L878.9,454.1 L879.2,459.1 L879.4,464.0 L879.7,468.9 L880.0,473.8 L880.2,478.7 L880.5,483.6 L880.7,483.2 L881.0,481.6 L881.2,480.0 L881.5,478.5 L881.7,476.9 L882.0,475.4 L882.2,480.2 L882.5,486.4 L882.8,492.5 L883.0,498.6 L883.3,504.8 L883.5,510.9 L883.8,517.0 L884.0,523.2 L884.3,529.3 L884.5,535.5 L884.8,534.3 L885.0,525.9 L885.3,517.4 L885.6,509.0 L885.8,500.5 L886.1,492.0 L886.3,483.6 L886.6,475.1 L886.8,466.6 L887.1,458.1 L887.3,451.9 L887.6,456.8 L887.8,461.7 L888.1,466.7 L888.4,471.6 L888.6,476.6 L888.9,481.5 L889.1,483.2 L889.4,481.7 L889.6,480.2 L889.9,478.8 L890.1,477.3 L890.4,475.8 L890.6,478.3 L890.9,484.5 L891.2,490.7 L891.4,497.0 L891.7,503.2 L891.9,509.4 L892.2,515.6 L892.4,521.8 L892.7,528.0 L892.9,534.2 L893.2,537.8 L893.4,529.5 L893.7,521.1 L894.0,512.7 L894.2,504.3 L894.5,495.9 L894.7,487.4 L895.0,479.0 L895.2,470.5 L895.5,462.0 L895.7,453.5 L896.0,456.5 L896.2,461.4 L896.5,466.2 L896.8,471.1 L897.0,476.0 L897.3,480.8 L897.5,484.4 L897.8,482.9 L898.0,481.4 L898.3,479.9 L898.5,478.4 L898.8,476.9 L899.0,477.0 L899.3,483.4 L899.6,489.9 L899.8,496.3 L900.1,502.8 L900.3,509.4 L900.6,515.9 L900.8,522.5 L901.1,529.1 L901.3,535.6 L901.6,542.1 L901.8,535.3 L902.1,526.4 L902.4,517.5 L902.6,508.7 L902.9,499.8 L903.1,491.0 L903.4,482.2 L903.6,473.4 L903.9,464.6 L904.1,455.8 L904.4,454.3 L904.6,459.2 L904.9,464.1 L905.2,469.1 L905.4,474.0 L905.7,478.9 L905.9,483.9 L906.2,483.3 L906.4,482.0 L906.7,480.6 L906.9,479.3 L907.2,478.0 L907.4,476.6 L907.7,482.0 L908.0,488.3 L908.2,494.6 L908.5,500.8 L908.7,507.1 L909.0,513.2 L909.2,519.4 L909.5,525.5 L909.7,531.6 L910.0,537.6 L910.2,535.7 L910.5,527.3 L910.8,518.9 L911.0,510.6 L911.3,502.3 L911.5,494.0 L911.8,485.7 L912.0,477.5 L912.3,469.3 L912.5,461.2 L912.8,455.9 L913.0,460.8 L913.3,465.7 L913.6,470.5 L913.8,475.3 L914.1,480.1 L914.3,484.9 L914.6,486.3 L914.8,484.9 L915.1,483.4 L915.3,482.0 L915.6,480.6 L915.8,479.2 L916.1,481.8 L916.4,487.6 L916.6,493.4 L916.9,499.1 L917.1,504.9 L917.4,510.6 L917.6,516.3 L917.9,522.0 L918.1,527.7 L918.4,533.5 L918.6,536.3 L918.9,528.4 L919.2,520.4 L919.4,512.4 L919.7,504.4 L919.9,496.4 L920.2,488.3 L920.4,480.2 L920.7,472.1 L920.9,464.0 L921.2,455.8 L921.4,459.3 L921.7,464.1 L922.0,468.8 L922.2,473.6 L922.5,478.3 L922.7,483.1 L923.0,486.4 L923.2,485.0 L923.5,483.6 L923.7,482.2 L924.0,480.8 L924.3,479.4 L924.5,479.8 L924.8,485.9 L925.0,492.0 L925.3,498.2 L925.5,504.4 L925.8,510.6 L926.0,516.8 L926.3,523.1 L926.5,529.4 L926.8,535.6 L927.1,541.8 L927.3,534.6 L927.6,526.0 L927.8,517.5 L928.1,508.9 L928.3,500.4 L928.6,491.9 L928.8,483.4 L929.1,474.9 L929.3,466.4 L929.6,457.9 L929.9,457.1 L930.1,461.9 L930.4,466.7 L930.6,471.5 L930.9,476.3 L931.1,481.1 L931.4,485.9 L931.6,485.1 L931.9,483.8 L932.1,482.5 L932.4,481.2 L932.7,480.0 L932.9,478.7 L933.2,484.2 L933.4,490.2 L933.7,496.3 L933.9,502.3 L934.2,508.3 L934.4,514.3 L934.7,520.2 L934.9,526.2 L935.2,532.1 L935.5,538.0 L935.7,535.6 L936.0,527.4 L936.2,519.2 L936.5,511.0 L936.7,502.8 L937.0,494.7 L937.2,486.5 L937.5,478.4 L937.7,470.2 L938.0,462.1 L938.3,457.3 L938.5,462.1 L938.8,466.9 L939.0,471.7 L939.3,476.4 L939.5,481.2 L939.8,485.9 L940.0,487.0 L940.3,485.7 L940.5,484.4 L940.8,483.1 L941.1,481.7 L941.3,480.4" stroke-width="0.95"/>
</g>
<rect x="180.50" y="12.00" width="763.70" height="246.50" fill="none" stroke="#000" stroke-width="2"/>
<path d="M168.50,258.50H180.50M932.20,258.50H944.20M168.50,227.69H180.50M932.20,227.69H944.20M168.50,196.88H180.50M932.20,196.88H944.20M168.50,166.06H180.50M932.20,166.06H944.20M168.50,135.25H180.50M932.20,135.25H944.20M168.50,104.44H180.50M932.20,104.44H944.20M168.50,73.62H180.50M932.20,73.62H944.20M168.50,42.81H180.50M932.20,42.81H944.20M168.50,12.00H180.50M932.20,12.00H944.20M174.50,243.09H180.50M938.20,243.09H944.20M174.50,212.28H180.50M938.20,212.28H944.20M174.50,181.47H180.50M938.20,181.47H944.20M174.50,150.66H180.50M938.20,150.66H944.20M174.50,119.84H180.50M938.20,119.84H944.20M174.50,89.03H180.50M938.20,89.03H944.20M174.50,58.22H180.50M938.20,58.22H944.20M174.50,27.41H180.50M938.20,27.41H944.20M307.78,258.50V270.30M307.78,12.00V23.60M449.21,258.50V270.30M449.21,12.00V23.60M590.64,258.50V270.30M590.64,12.00V23.60M732.06,258.50V270.30M732.06,12.00V23.60M873.49,258.50V270.30M873.49,12.00V23.60M237.07,258.50V264.70M237.07,12.00V18.40M378.50,258.50V264.70M378.50,12.00V18.40M519.92,258.50V264.70M519.92,12.00V18.40M661.35,258.50V264.70M661.35,12.00V18.40M802.77,258.50V264.70M802.77,12.00V18.40M944.20,258.50V264.70M944.20,12.00V18.40" stroke="#000" stroke-width="2" fill="none"/>
<text x="161" y="266.30" text-anchor="end" class="tk">970</text>
<text x="161" y="235.49" text-anchor="end" class="tk">980</text>
<text x="161" y="204.68" text-anchor="end" class="tk">990</text>
<text x="161" y="173.86" text-anchor="end" class="tk">1000</text>
<text x="161" y="143.05" text-anchor="end" class="tk">1010</text>
<text x="161" y="112.24" text-anchor="end" class="tk">1020</text>
<text x="161" y="81.42" text-anchor="end" class="tk">1030</text>
<text x="161" y="50.61" text-anchor="end" class="tk">1040</text>
<text x="161" y="19.80" text-anchor="end" class="tk">1050</text>
<text x="307.78" y="297.4" text-anchor="middle" class="tk">2000</text>
<text x="449.21" y="297.4" text-anchor="middle" class="tk">3000</text>
<text x="590.64" y="297.4" text-anchor="middle" class="tk">4000</text>
<text x="732.06" y="297.4" text-anchor="middle" class="tk">5000</text>
<text x="873.49" y="297.4" text-anchor="middle" class="tk">6000</text>
<rect x="179.80" y="367.05" width="763.80" height="196.85" fill="none" stroke="#000" stroke-width="2"/>
<path d="M167.80,563.90H179.80M931.60,563.90H943.60M167.80,498.28H179.80M931.60,498.28H943.60M167.80,432.67H179.80M931.60,432.67H943.60M167.80,367.05H179.80M931.60,367.05H943.60M173.80,531.09H179.80M937.60,531.09H943.60M173.80,465.48H179.80M937.60,465.48H943.60M173.80,399.86H179.80M937.60,399.86H943.60M264.67,563.90V575.70M264.67,367.05V378.65M434.40,563.90V575.70M434.40,367.05V378.65M604.13,563.90V575.70M604.13,367.05V378.65M773.87,563.90V575.70M773.87,367.05V378.65M943.60,563.90V575.70M943.60,367.05V378.65M179.80,563.90V570.10M179.80,367.05V373.45M349.53,563.90V570.10M349.53,367.05V373.45M519.27,563.90V570.10M519.27,367.05V373.45M689.00,563.90V570.10M689.00,367.05V373.45M858.73,563.90V570.10M858.73,367.05V373.45" stroke="#000" stroke-width="2" fill="none"/>
<text x="161" y="571.70" text-anchor="end" class="tk">40</text>
<text x="161" y="506.08" text-anchor="end" class="tk">50</text>
<text x="161" y="440.47" text-anchor="end" class="tk">60</text>
<text x="161" y="374.85" text-anchor="end" class="tk">70</text>
<text x="264.67" y="603" text-anchor="middle" class="tk">2000</text>
<text x="434.40" y="603" text-anchor="middle" class="tk">4000</text>
<text x="604.13" y="603" text-anchor="middle" class="tk">6000</text>
<text x="773.87" y="603" text-anchor="middle" class="tk">8000</text>
<text x="943.60" y="603" text-anchor="middle" class="tk">10000</text>
<rect x="359.0" y="155.6" width="444.9" height="74.2" fill="#fff" stroke="#6b6b6b" stroke-width="1"/>
<path d="M378.8,175.8H446.7" stroke="#000" stroke-width="1.3"/>
<path d="M379.4,212.4H446" stroke="#000" stroke-width="4.2" stroke-linecap="round"/>
<text x="454" y="186.4" class="lg">Specular sinusoid grating</text>
<text x="454" y="223.4" class="lg">Etched sinusoid grating</text>
<rect x="454.6" y="372.0" width="445.35" height="36.5" fill="#fff" stroke="#6b6b6b" stroke-width="1"/>
<path d="M475.3,391.5H542" stroke="#000" stroke-width="1.1"/>
<text x="550.3" y="401.5" class="lg">Specular sinusoid grating</text>
<text x="562.3" y="342.7" text-anchor="middle" class="ti">LCI <tspan font-style="italic">x</tspan> / µm</text>
<text x="561.8" y="648.2" text-anchor="middle" class="ti">LCI <tspan font-style="italic">x</tspan> / µm</text>
<text transform="translate(92,303.2) rotate(-90)" text-anchor="middle" class="ti">LCI <tspan font-style="italic">z</tspan> / µm</text>
<text x="-0.4" y="30.5" class="pl">a</text>
<text x="5.0" y="400.3" class="pl">b</text>
</svg></body></html>
